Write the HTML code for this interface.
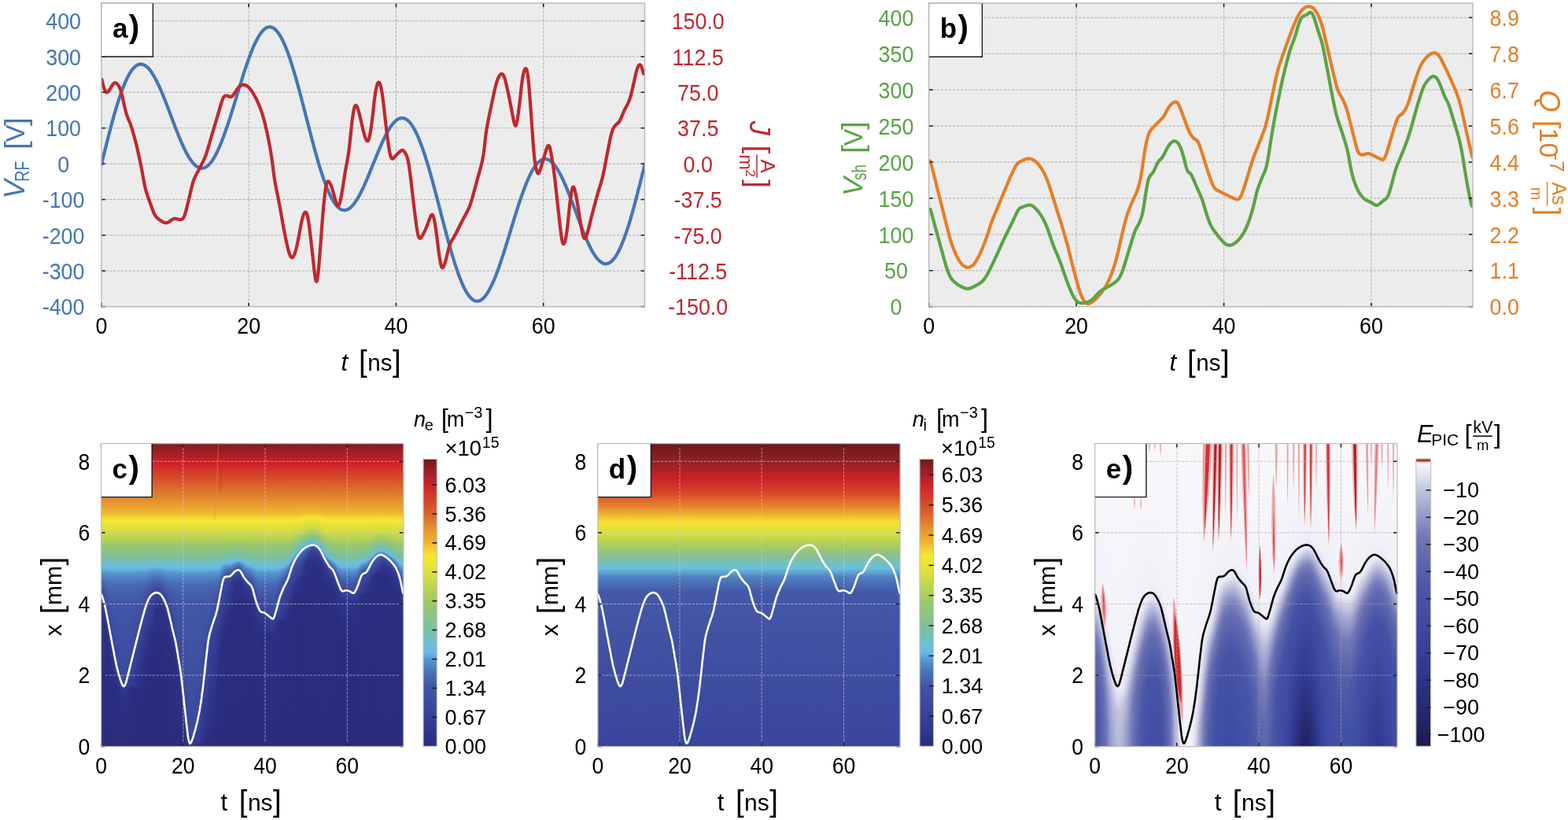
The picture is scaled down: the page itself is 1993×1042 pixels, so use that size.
<!DOCTYPE html>
<html><head><meta charset="utf-8"><title>figure</title>
<style>html,body{margin:0;padding:0;background:#fff;}#w{position:relative;width:1993px;height:1042px;overflow:hidden;background:#fff}
.h{position:absolute;overflow:hidden}.h i{position:absolute;top:0;bottom:0;width:3px}
svg{position:absolute;left:0;top:0;display:block}text{font-family:'Liberation Sans', 'DejaVu Sans', sans-serif;}</style>
</head><body><div id="w">
<div class="h" style="left:128.6px;top:563.6px;width:384.3px;height:385.1px"><i style="left:0px;background:linear-gradient(#7d1c21 0%,#d02228 6.6%,#e1842e 17.5%,#f0b830 23%,#f4e830 25.3%,#cdda47 29.7%,#9cc76f 33.4%,#78c0a0 37.8%,#6ebed5 39.6%,#68b8e7 40.9%,#5794ce 42.2%,#476ab4 45.1%,#3f4fa1 47.9%,#2d3286 55.2%,#2a2d7d 70%,#2a2d7d 100%)"></i><i style="left:2px;background:linear-gradient(#7d1c21 0%,#d02228 6.6%,#e1842e 17.5%,#f0b830 23%,#f5e830 25.3%,#cdda47 29.7%,#9cc76f 33.4%,#79c09f 37.8%,#6fbfd4 39.6%,#66b5e6 41.2%,#5693cd 42.5%,#4669b3 45.6%,#3f4fa1 48.7%,#2d3184 57.3%,#2a2d7d 77.3%,#2a2d7d 100%)"></i><i style="left:4px;background:linear-gradient(#7d1c21 0%,#d02228 6.6%,#e1842e 17.5%,#f0b830 23%,#f5e830 25.3%,#cdda47 29.7%,#9cc76f 33.4%,#79c09f 37.8%,#6fbfd3 39.6%,#68b8e8 41.2%,#5795ce 42.5%,#476bb4 45.8%,#4051a2 49.5%,#2c3083 60.1%,#2a2d7d 94.2%,#2a2d7d 100%)"></i><i style="left:6px;background:linear-gradient(#7d1c21 0%,#d02228 6.6%,#e1842e 17.5%,#f0b830 23%,#f5e830 25.3%,#cdda47 29.7%,#9cc76f 33.4%,#79c09f 37.8%,#6fbfd3 39.6%,#68b8e7 41.2%,#5693cd 42.7%,#4669b3 46.4%,#4151a3 50.8%,#2f368d 59.6%,#2b2e7f 67.4%,#2a2d7d 100%)"></i><i style="left:8px;background:linear-gradient(#7d1c21 0%,#d02228 6.6%,#e1842e 17.5%,#f0b830 23%,#f5e830 25.3%,#cdda47 29.7%,#9cc76e 33.4%,#79c09f 37.8%,#6fbfd2 39.6%,#68b8e7 41.2%,#5693cd 42.7%,#476bb4 46.4%,#4255a5 51%,#333c94 60.4%,#2b2e80 68.2%,#2a2d7d 100%)"></i><i style="left:10px;background:linear-gradient(#7d1c21 0%,#d02228 6.6%,#e1842e 17.5%,#f0b830 23%,#f5e830 25.3%,#cdda47 29.7%,#9cc76e 33.4%,#79c09f 37.8%,#6fbfd2 39.6%,#68b8e7 41.2%,#5694cd 42.7%,#476bb5 46.4%,#4359a8 50.5%,#364197 61.9%,#2b2f81 69.7%,#2a2d7d 100%)"></i><i style="left:12px;background:linear-gradient(#7d1c21 0%,#d02228 6.6%,#e1842e 17.5%,#f0b830 23%,#f5e830 25.3%,#cdda47 29.7%,#9cc76e 33.4%,#79c09f 37.8%,#6fbfd2 39.6%,#68b8e7 41.2%,#5590cb 43%,#476ab4 46.6%,#4359a8 50.8%,#384499 64%,#2c2f82 71.8%,#2a2d7d 100%)"></i><i style="left:14px;background:linear-gradient(#7d1c21 0%,#d02228 6.6%,#e1842e 17.5%,#f0b830 23%,#f5e830 25.3%,#cdda47 29.7%,#9cc76e 33.4%,#79c09f 37.8%,#6fbfd2 39.6%,#68b8e7 41.2%,#5590cb 43%,#476ab4 46.6%,#435aa8 50.8%,#39469b 66.1%,#2c2f82 74.4%,#2a2d7d 100%)"></i><i style="left:16px;background:linear-gradient(#7d1c21 0%,#d02228 6.6%,#e1842e 17.5%,#f0b830 23%,#f5e830 25.3%,#cdda47 29.7%,#9cc76e 33.4%,#79c09f 37.8%,#6fbfd2 39.6%,#68b8e7 41.2%,#5590cb 43%,#4668b3 46.9%,#4258a7 51.8%,#3a479c 68.4%,#2c3082 76.8%,#2a2d7d 100%)"></i><i style="left:18px;background:linear-gradient(#7d1c21 0%,#d02228 6.6%,#e1842e 17.5%,#f0b830 23%,#f5e830 25.3%,#cdda47 29.7%,#9cc76e 33.4%,#79c09f 37.8%,#6fbfd2 39.6%,#68b8e7 41.2%,#5590cb 43%,#4668b3 46.9%,#4258a7 51.6%,#3a479c 70.8%,#2c3082 79.1%,#2a2d7d 100%)"></i><i style="left:20px;background:linear-gradient(#7d1c21 0%,#d02228 6.6%,#e1842e 17.5%,#f0b830 23%,#f5e830 25.3%,#cdda47 29.7%,#9cc76e 33.4%,#79c09f 37.8%,#6fbfd2 39.6%,#68b8e7 41.2%,#5590cb 43%,#4668b3 46.9%,#4258a7 51.6%,#3b489d 72.9%,#2c3083 80.9%,#2a2d7d 100%)"></i><i style="left:22px;background:linear-gradient(#7d1c21 0%,#d02228 6.6%,#e1842e 17.5%,#f0b830 23%,#f5e830 25.3%,#cdda47 29.7%,#9cc76e 33.4%,#79c09f 37.8%,#6fbfd2 39.6%,#68b8e7 41.2%,#5590cb 43%,#4668b3 46.9%,#4258a7 51.6%,#3b489d 74.7%,#2c3083 82.5%,#2a2d7d 100%)"></i><i style="left:24px;background:linear-gradient(#7d1c21 0%,#d02228 6.6%,#e1842e 17.5%,#f0b830 23%,#f5e830 25.3%,#cdda47 29.7%,#9cc76e 33.4%,#79c09f 37.8%,#6fbfd2 39.6%,#68b8e7 41.2%,#5590cb 43%,#4668b3 46.9%,#4258a7 51.6%,#3b489d 76.2%,#2c3083 83.8%,#2a2d7d 100%)"></i><i style="left:26px;background:linear-gradient(#7d1c21 0%,#d02228 6.6%,#e1842e 17.5%,#f0b830 23%,#f5e830 25.3%,#cdda47 29.7%,#9cc76e 33.4%,#79c09f 37.8%,#6fbfd2 39.6%,#68b8e7 41.2%,#5590cb 43%,#4668b3 46.9%,#4258a7 51.6%,#3b499d 77.3%,#2c3184 84.5%,#2a2d7d 100%)"></i><i style="left:28px;background:linear-gradient(#7d1c21 0%,#d02228 6.6%,#e1842e 17.5%,#f0b830 23%,#f5e830 25.3%,#cdda47 29.7%,#9cc76e 33.4%,#79c09f 37.8%,#6fbfd2 39.6%,#68b8e7 41.2%,#5590cb 43%,#4668b3 46.9%,#4258a7 51.6%,#3b489d 77.8%,#2c3184 84.8%,#2a2d7d 100%)"></i><i style="left:30px;background:linear-gradient(#7d1c21 0%,#d02228 6.6%,#e1842e 17.5%,#f0b830 23%,#f5e830 25.3%,#cdda47 29.7%,#9cc76e 33.4%,#79c09f 37.8%,#6fbfd2 39.6%,#68b8e7 41.2%,#5590cb 43%,#4668b3 46.9%,#4258a7 51.6%,#3b489d 77%,#2c3184 84.3%,#2a2d7d 100%)"></i><i style="left:32px;background:linear-gradient(#7d1c21 0%,#d02228 6.6%,#e1842e 17.5%,#f0b830 23%,#f5e830 25.3%,#cdda47 29.7%,#9cc76e 33.4%,#79c09f 37.8%,#6fbfd2 39.6%,#68b8e7 41.2%,#5590cb 43%,#4668b3 46.9%,#4258a7 51.6%,#3b489d 75.5%,#333c93 79.9%,#2d3286 81.7%,#2a2d7d 95.2%,#2a2d7d 100%)"></i><i style="left:34px;background:linear-gradient(#7d1c21 0%,#d02228 6.6%,#e1842e 17.5%,#f0b830 23%,#f5e830 25.3%,#cdda47 29.7%,#9cc76e 33.4%,#79c09f 37.8%,#6fbfd2 39.6%,#68b8e7 41.2%,#5590cb 43%,#4668b3 46.9%,#4258a7 51.6%,#3b489d 73.4%,#323a92 79.9%,#2c3184 80.9%,#2a2d7d 100%)"></i><i style="left:36px;background:linear-gradient(#7d1c21 0%,#d02228 6.6%,#e1842e 17.5%,#f0b830 23%,#f5e830 25.3%,#cdda47 29.7%,#9cc76e 33.4%,#79c09f 37.8%,#6fbfd2 39.6%,#68b8e7 41.2%,#5590cb 43%,#4668b3 46.9%,#4258a7 51.6%,#3b489d 71.6%,#333c93 79.6%,#2c2f81 80.6%,#2a2d7d 100%)"></i><i style="left:38px;background:linear-gradient(#7d1c21 0%,#d02228 6.6%,#e1842e 17.5%,#f0b830 23%,#f5e830 25.3%,#cdda47 29.7%,#9cc76e 33.4%,#79c09f 37.8%,#6fbfd2 39.6%,#68b8e7 41.2%,#5590cb 43%,#4668b3 46.9%,#4258a7 51.6%,#3a479c 69.7%,#313a92 79.6%,#2b2e80 80.6%,#2a2d7d 100%)"></i><i style="left:40px;background:linear-gradient(#7d1c21 0%,#d02228 6.6%,#e1842e 17.5%,#f0b830 23%,#f5e830 25.3%,#cdda47 29.7%,#9cc76e 33.4%,#79c09f 37.8%,#6fbfd2 39.6%,#68b8e7 41.2%,#5590cb 43%,#476ab4 46.6%,#435aa8 50.8%,#39469b 68.4%,#30378e 79.6%,#2b2e7f 80.6%,#2a2d7d 100%)"></i><i style="left:42px;background:linear-gradient(#7d1c21 0%,#d02228 6.6%,#e1842e 17.5%,#f0b830 23%,#f5e830 25.3%,#cdda47 29.7%,#9cc76e 33.4%,#79c09f 37.8%,#6fbfd2 39.6%,#68b8e7 41.2%,#5590cb 43%,#476ab4 46.6%,#435aa8 50.8%,#38449a 66.9%,#2f358b 79.4%,#2b2d7e 80.9%,#2a2d7d 100%)"></i><i style="left:44px;background:linear-gradient(#7d1c21 0%,#d02228 6.6%,#e1842e 17.5%,#f0b830 23%,#f5e830 25.3%,#cdda47 29.7%,#9cc76e 33.4%,#79c09f 37.8%,#6fbfd2 39.6%,#68b8e7 41.2%,#5590cb 43%,#476ab4 46.6%,#4359a8 50.8%,#2e358b 77.8%,#2a2d7d 81.7%,#2a2d7d 100%)"></i><i style="left:46px;background:linear-gradient(#7d1c21 0%,#d02228 6.6%,#e1842e 17.5%,#f0b830 23%,#f5e830 25.3%,#cdda47 29.7%,#9cc76e 33.4%,#79c09f 37.8%,#6fbfd2 39.6%,#68b8e7 41.2%,#5694ce 42.7%,#476cb5 46.4%,#435aa9 50.3%,#353f96 69%,#2c3082 79.1%,#2a2d7d 86.9%,#2a2d7d 100%)"></i><i style="left:48px;background:linear-gradient(#7d1c21 0%,#d02228 6.6%,#e1842e 17.5%,#f0b830 23%,#f5e830 25.3%,#cdda47 29.7%,#9cc76e 33.4%,#79c09f 37.8%,#6fbfd2 39.6%,#68b8e7 41.2%,#5694cd 42.7%,#476bb5 46.4%,#4359a8 50.5%,#354096 66.1%,#2d3387 74.9%,#2a2d7d 84.3%,#2a2d7d 100%)"></i><i style="left:50px;background:linear-gradient(#7d1c21 0%,#d02228 6.6%,#e1842e 17.5%,#f0b830 23%,#f5e830 25.3%,#cdda47 29.7%,#9cc76e 33.4%,#79c09f 37.8%,#6fbfd2 39.6%,#68b8e7 41.2%,#5693cd 42.7%,#476bb4 46.4%,#4255a5 51%,#354096 64%,#2d3286 73.4%,#2a2d7d 86.4%,#2a2d7d 100%)"></i><i style="left:52px;background:linear-gradient(#7d1c21 0%,#d02228 6.6%,#e1842e 17.5%,#f0b830 23%,#f5e830 25.3%,#cdda47 29.7%,#9cc76e 33.4%,#79c09f 37.8%,#6fbfd3 39.6%,#68b8e7 41.2%,#5693cd 42.7%,#476ab4 46.4%,#4152a3 51%,#354096 62.2%,#2d3286 71.6%,#2a2d7d 85.8%,#2a2d7d 100%)"></i><i style="left:54px;background:linear-gradient(#7d1c21 0%,#d02228 6.6%,#e1842e 17.5%,#f0b830 23%,#f5e830 25.3%,#cdda47 29.7%,#9cc76f 33.4%,#79c09f 37.8%,#6fbfd3 39.6%,#68b8e8 41.2%,#5692cc 42.7%,#4668b3 46.4%,#4051a2 50.5%,#364097 59.6%,#2d3387 68.7%,#2a2d7d 80.6%,#2a2d7d 100%)"></i><i style="left:56px;background:linear-gradient(#7d1c21 0%,#d02228 6.6%,#e1842e 17.5%,#f0b830 23%,#f5e830 25.3%,#cdda47 29.7%,#9cc76f 33.4%,#79c09f 37.8%,#6fbfd3 39.6%,#68b8e8 41.2%,#5795ce 42.5%,#476ab4 45.8%,#4050a2 49.5%,#364197 57.3%,#2d3388 66.6%,#2a2d7d 78.3%,#2a2d7d 100%)"></i><i style="left:58px;background:linear-gradient(#7d1c21 0%,#d02228 6.6%,#e1842e 17.5%,#f0b830 23%,#f5e830 25.3%,#cdda47 29.7%,#9cc76f 33.4%,#79c09f 37.8%,#6fbfd4 39.6%,#67b5e6 41.2%,#5693cd 42.5%,#466ab3 45.6%,#4050a2 48.7%,#364197 55.5%,#2d3388 64.5%,#2a2d7d 76.2%,#2a2d7d 100%)"></i><i style="left:60px;background:linear-gradient(#7d1c21 0%,#d02228 6.6%,#e1842e 17.5%,#f0b830 23%,#f4e830 25.3%,#cdda47 29.7%,#9cc76f 33.4%,#78c0a0 37.8%,#6ebed5 39.6%,#69b9e6 40.9%,#5591cc 42.5%,#4669b3 45.3%,#3f4fa1 48.2%,#364097 54.2%,#2d3286 63%,#2a2d7d 75.7%,#2a2d7d 100%)"></i><i style="left:62px;background:linear-gradient(#7d1c21 0%,#d02228 6.6%,#e1842e 17.5%,#f0b830 23%,#f4e830 25.3%,#cdda47 29.7%,#9cc76f 33.4%,#78c0a0 37.8%,#70c0d1 39.4%,#68b8e7 40.9%,#5694cd 42.2%,#4669b3 45.1%,#3f4fa1 47.9%,#354096 53.4%,#2b2d7e 67.4%,#2a2d7d 100%)"></i><i style="left:64px;background:linear-gradient(#7d1c21 0%,#d02228 6.6%,#e1842e 17.5%,#f0b830 23%,#f4e830 25.3%,#cdda47 29.7%,#9cc76f 33.4%,#78c0a0 37.8%,#6fbfd2 39.4%,#68b8e8 40.9%,#5692cc 42.2%,#4669b3 44.8%,#3f4fa1 47.4%,#343e95 53.1%,#2b2d7e 65.1%,#2a2d7d 100%)"></i><i style="left:66px;background:linear-gradient(#7d1c21 0%,#d02228 6.6%,#e1842e 17.5%,#f0b830 23%,#f4e830 25.3%,#cdda47 29.7%,#9cc76f 33.4%,#78c0a1 37.8%,#6fbfd2 39.4%,#67b6e7 40.9%,#5591cc 42.2%,#4668b2 44.8%,#4050a2 47.1%,#2f378e 54.7%,#2b2d7e 63.2%,#2a2d7d 100%)"></i><i style="left:68px;background:linear-gradient(#7d1c21 0%,#d02228 6.6%,#e1842e 17.5%,#f0b830 23%,#f4e830 25.3%,#cdda47 29.7%,#9cc76f 33.4%,#78c0a1 37.8%,#6fbfd2 39.4%,#67b5e6 40.9%,#5795ce 41.9%,#4667b2 44.8%,#3f4fa1 47.1%,#2d3285 55.7%,#2a2d7d 70%,#2a2d7d 100%)"></i><i style="left:70px;background:linear-gradient(#7d1c21 0%,#d02228 6.6%,#e1842e 17.5%,#f0b830 23%,#f4e830 25.3%,#cdda47 29.7%,#9cc76f 33.4%,#78c0a1 37.8%,#6fbfd2 39.4%,#67b5e6 40.9%,#5795ce 41.9%,#4667b2 44.8%,#3f4fa1 47.1%,#2d3185 54.4%,#2a2d7d 70.3%,#2a2d7d 100%)"></i><i style="left:72px;background:linear-gradient(#7d1c21 0%,#d02228 6.6%,#e1842e 17.5%,#f0b830 23%,#f4e830 25.3%,#cdda47 29.7%,#9cc76f 33.4%,#78c0a1 37.8%,#6fbfd2 39.4%,#67b6e6 40.9%,#5795ce 41.9%,#4668b2 44.8%,#3f4fa1 47.1%,#2d3286 53.6%,#2a2d7d 66.9%,#2a2d7d 100%)"></i><i style="left:74px;background:linear-gradient(#7d1c21 0%,#d02228 6.6%,#e1842e 17.5%,#f0b830 23%,#f4e830 25.3%,#cdda47 29.7%,#9cc76f 33.4%,#78c0a0 37.8%,#6fbfd2 39.4%,#68b7e8 40.9%,#5692cc 42.2%,#4669b3 44.8%,#3f4fa1 47.4%,#2d3286 53.9%,#2a2d7d 67.1%,#2a2d7d 100%)"></i><i style="left:76px;background:linear-gradient(#7d1c21 0%,#d02228 6.6%,#e1842e 17.5%,#f0b830 23%,#f4e830 25.3%,#cdda47 29.7%,#9cc76f 33.4%,#78c0a0 37.8%,#70c0d1 39.4%,#68b8e7 40.9%,#5694cd 42.2%,#4669b3 45.1%,#3f4fa1 47.9%,#2d3286 54.7%,#2a2d7d 69%,#2a2d7d 100%)"></i><i style="left:78px;background:linear-gradient(#7d1c21 0%,#d02228 6.6%,#e1842e 17.5%,#f0b830 23%,#f4e830 25.3%,#cdda47 29.7%,#9cc76f 33.4%,#78c0a0 37.8%,#6fbfd4 39.6%,#69b9e6 40.9%,#5591cc 42.5%,#4669b3 45.3%,#3f50a1 48.2%,#2d3286 55.7%,#2a2d7d 71%,#2a2d7d 100%)"></i><i style="left:80px;background:linear-gradient(#7d1c21 0%,#d02228 6.6%,#e1842e 17.5%,#f0b830 23%,#f5e830 25.3%,#cdda47 29.7%,#9cc76f 33.4%,#79c09f 37.8%,#6fbfd4 39.6%,#67b6e6 41.2%,#5693cd 42.5%,#476ab4 45.6%,#4050a2 48.7%,#2d3184 57.3%,#2a2d7d 77.5%,#2a2d7d 100%)"></i><i style="left:82px;background:linear-gradient(#7d1c21 0%,#d02228 6.6%,#e1842e 17.5%,#f0b830 23%,#f5e830 25.3%,#cdda47 29.7%,#9cc76f 33.4%,#79c09f 37.8%,#6fbfd3 39.6%,#68b8e8 41.2%,#5795ce 42.5%,#476ab4 45.8%,#4051a2 49.5%,#2c3184 59.1%,#2a2d7d 86.1%,#2a2d7d 100%)"></i><i style="left:84px;background:linear-gradient(#7d1c21 0%,#d02228 6.6%,#e1842e 17.5%,#f0b830 23%,#f5e830 25.3%,#cdda47 29.7%,#9cc76f 33.4%,#79c09f 37.8%,#6fbfd3 39.6%,#68b8e8 41.2%,#5692cc 42.7%,#4668b3 46.4%,#4051a2 50.5%,#2e348a 58.8%,#2b2d7e 68.2%,#2a2d7d 100%)"></i><i style="left:86px;background:linear-gradient(#7d1c21 0%,#d02228 6.6%,#e1842e 17.5%,#f0b830 23%,#f5e830 25.3%,#cdda47 29.7%,#9cc76e 33.4%,#79c09f 37.8%,#6fbfd3 39.6%,#68b8e7 41.2%,#5693cd 42.7%,#476ab4 46.4%,#4151a3 51.3%,#313a91 59.1%,#2b2e80 66.1%,#2a2d7d 100%)"></i><i style="left:88px;background:linear-gradient(#7d1c21 0%,#d02228 6.6%,#e1842e 17.5%,#f0b830 23%,#f5e830 25.3%,#cdda47 29.7%,#9cc76e 33.4%,#79c09f 37.8%,#6fbfd2 39.6%,#68b8e7 41.2%,#5694cd 42.7%,#476bb4 46.4%,#4256a6 50.8%,#343f95 60.1%,#2b2f80 67.7%,#2a2d7d 100%)"></i><i style="left:90px;background:linear-gradient(#7d1c21 0%,#d02228 6.6%,#e1842e 17.5%,#f0b830 23%,#f5e830 25.3%,#cdda47 29.7%,#9cc76e 33.4%,#79c09f 37.8%,#6fbfd2 39.6%,#68b8e7 41.2%,#5694cd 42.7%,#476bb5 46.4%,#4359a8 50.5%,#364197 61.7%,#2c2f81 68.7%,#2a2d7d 100%)"></i><i style="left:92px;background:linear-gradient(#7d1c21 0%,#d02228 6.6%,#e1842e 17.5%,#f0b830 23%,#f5e830 25.3%,#cdda47 29.7%,#9cc76e 33.4%,#79c09f 37.8%,#6fbfd2 39.6%,#68b8e7 41.2%,#5590cb 43%,#476ab4 46.6%,#4359a8 50.8%,#384499 63.2%,#2c3082 70.5%,#2a2d7d 100%)"></i><i style="left:94px;background:linear-gradient(#7d1c21 0%,#d02228 6.6%,#e1842e 17.5%,#f0b830 23%,#f5e830 25.3%,#cdda47 29.7%,#9cc76e 33.4%,#79c09f 37.8%,#6fbfd2 39.6%,#68b8e7 41.2%,#5590cb 43%,#476ab4 46.6%,#435aa8 50.8%,#39469b 65.1%,#2c2f82 73.4%,#2a2d7d 100%)"></i><i style="left:96px;background:linear-gradient(#7d1c21 0%,#d02228 6.6%,#e1842e 17.5%,#f0b830 23%,#f5e830 25.3%,#cdda47 29.7%,#9cc76e 33.4%,#79c09f 37.8%,#6fbfd2 39.6%,#68b8e7 41.2%,#5590cb 43%,#476ab4 46.6%,#435aa8 50.8%,#39469b 67.7%,#2c2f82 76.5%,#2a2d7d 100%)"></i><i style="left:98px;background:linear-gradient(#7d1c21 0%,#d02228 6.6%,#e1842e 17.5%,#f0b830 23%,#f5e830 25.3%,#cdda47 29.7%,#9cc76e 33.4%,#79c09f 37.8%,#6fbfd2 39.6%,#68b8e7 41.2%,#5590cb 43%,#4668b3 46.9%,#4258a7 51.6%,#3a479c 70.3%,#2c3082 79.6%,#2a2d7d 100%)"></i><i style="left:100px;background:linear-gradient(#7d1c21 0%,#d02228 6.6%,#e1842e 17.5%,#f0b830 23%,#f5e830 25.3%,#cdda47 29.7%,#9cc76e 33.4%,#79c09f 37.8%,#6fbfd2 39.6%,#68b8e7 41.2%,#5590cb 43%,#4668b3 46.9%,#4258a7 51.6%,#3b489d 73.1%,#2c2f82 83.8%,#2a2d7d 100%)"></i><i style="left:102px;background:linear-gradient(#7d1c21 0%,#d02228 6.6%,#e1842e 17.5%,#f0b830 23%,#f5e830 25.3%,#cdda47 29.7%,#9cc76e 33.4%,#79c09f 37.8%,#6fbfd2 39.6%,#68b8e7 41.2%,#5590cb 43%,#4668b3 46.9%,#4258a7 51.6%,#3b489c 77%,#2b2f81 89%,#2a2d7d 100%)"></i><i style="left:104px;background:linear-gradient(#7d1c21 0%,#d02228 6.6%,#e1842e 17.5%,#f0b830 23%,#f5e830 25.3%,#cdda47 29.7%,#9cc76e 33.4%,#79c09f 37.8%,#6fbfd2 39.6%,#68b8e7 41.2%,#5590cb 43%,#4668b3 46.9%,#4258a7 51.6%,#3b489c 81.4%,#2b2f81 93.9%,#2b2d7e 100%)"></i><i style="left:106px;background:linear-gradient(#7d1c21 0%,#d02228 6.6%,#e1842e 17.5%,#f0b830 23%,#f5e830 25.3%,#cdda47 29.7%,#9cc76e 33.4%,#79c09f 37.8%,#6fbfd2 39.6%,#68b8e7 41.2%,#5590cb 43%,#4668b3 46.9%,#4258a7 51.6%,#3b489d 85.8%,#2b2f81 98.6%,#2b2e80 100%)"></i><i style="left:108px;background:linear-gradient(#7d1c21 0%,#d02228 6.6%,#e1842e 17.5%,#f0b830 23%,#f5e830 25.3%,#cdda47 29.7%,#9cc76e 33.4%,#79c09f 37.8%,#6fbfd2 39.6%,#68b8e7 41.2%,#5590cb 43%,#4668b3 46.9%,#4258a7 51.6%,#3b499d 90.3%,#2d3185 100%)"></i><i style="left:110px;background:linear-gradient(#7d1c21 0%,#d02228 6.6%,#e1842e 17.5%,#f0b830 23%,#f5e830 25.3%,#cdda47 29.7%,#9cc76e 33.4%,#79c09f 37.8%,#6fbfd2 39.6%,#68b8e7 41.2%,#5590cb 43%,#4668b3 46.9%,#4258a7 51.6%,#3b489d 94.2%,#2f368d 100%)"></i><i style="left:112px;background:linear-gradient(#7d1c21 0%,#d02228 6.6%,#e1842e 17.5%,#f0b830 23%,#f5e830 25.3%,#cdda47 29.7%,#9cc76e 33.4%,#79c09f 37.8%,#6fbfd2 39.6%,#68b8e7 41.2%,#5590cb 43%,#4668b3 46.9%,#4258a7 51.6%,#3b499d 95.7%,#313991 100%)"></i><i style="left:114px;background:linear-gradient(#7d1c21 0%,#d02228 6.6%,#e1842e 17.5%,#f0b830 23%,#f5e830 25.3%,#cdda47 29.7%,#9cc76e 33.4%,#79c09f 37.8%,#6fbfd2 39.6%,#68b8e7 41.2%,#5590cb 43%,#4668b3 46.9%,#4258a7 51.6%,#3b489d 95.5%,#30388f 100%)"></i><i style="left:116px;background:linear-gradient(#7d1c21 0%,#d02228 6.6%,#e1842e 17.5%,#f0b830 23%,#f5e830 25.3%,#cdda47 29.7%,#9cc76e 33.4%,#79c09f 37.8%,#6fbfd2 39.6%,#68b8e7 41.2%,#5590cb 43%,#4668b3 46.9%,#4258a7 51.6%,#3b499d 93.9%,#303890 99.1%,#2e348a 100%)"></i><i style="left:118px;background:linear-gradient(#7d1c21 0%,#d02228 6.6%,#e1842e 17.5%,#f0b830 23%,#f5e830 25.3%,#cdda47 29.7%,#9cc76e 33.4%,#79c09f 37.8%,#6fbfd2 39.6%,#68b8e7 41.2%,#5590cb 43%,#4668b3 46.9%,#4258a7 51.6%,#3b499d 92.1%,#313a92 98.8%,#2d3185 100%)"></i><i style="left:120px;background:linear-gradient(#7d1c21 0%,#d02228 6.6%,#e1842e 17.5%,#f0b830 23%,#f5e830 25.3%,#cdda47 29.7%,#9cc76e 33.4%,#79c09f 37.8%,#6fbfd2 39.6%,#68b8e7 41.2%,#5590cb 43%,#4668b3 46.9%,#4258a7 51.6%,#3b499d 90.3%,#303890 98.8%,#2c3082 99.6%,#2c2f81 100%)"></i><i style="left:122px;background:linear-gradient(#7d1c21 0%,#d02228 6.6%,#e1842e 17.5%,#f0b830 23%,#f5e830 25.3%,#cdda47 29.7%,#9cc76e 33.4%,#79c09f 37.8%,#6fbfd2 39.6%,#68b8e7 41.2%,#5590cb 43%,#4668b3 46.9%,#4258a7 51.6%,#3b499d 87.9%,#313991 98.6%,#2b2e80 99.6%,#2b2e7f 100%)"></i><i style="left:124px;background:linear-gradient(#7d1c21 0%,#d02228 6.6%,#e1842e 17.5%,#f0b830 23%,#f5e830 25.3%,#cdda47 29.7%,#9cc76e 33.4%,#79c09f 37.8%,#6fbfd2 39.6%,#68b8e7 41.2%,#5590cb 43%,#4668b3 46.9%,#4258a7 51.6%,#3b499d 85.3%,#2f378e 98.6%,#2b2e7f 99.6%,#2b2d7e 100%)"></i><i style="left:126px;background:linear-gradient(#7d1c21 0%,#d02228 6.6%,#e1842e 17.5%,#f0b830 23%,#f5e830 25.3%,#cdda47 29.7%,#9cc76e 33.4%,#79c09f 37.8%,#6fbfd2 39.6%,#68b8e7 41.2%,#5590cb 43%,#4668b3 46.9%,#4258a7 51.6%,#3b489d 82.5%,#2f358c 98.1%,#2a2d7e 100%)"></i><i style="left:128px;background:linear-gradient(#7d1c21 0%,#d02228 6.6%,#e1842e 17.5%,#f0b830 23%,#f5e830 25.3%,#cdda47 29.7%,#9cc76e 33.4%,#79c09f 37.8%,#6fbfd2 39.6%,#68b8e7 41.2%,#5590cb 43%,#4668b3 46.9%,#4258a7 51.6%,#3a479c 79.4%,#2f368c 96.2%,#2a2d7d 100%)"></i><i style="left:130px;background:linear-gradient(#7d1c21 0%,#d02228 6.6%,#e1842e 17.5%,#f0b830 23%,#f5e830 25.3%,#cdda47 29.7%,#9cc76e 33.4%,#79c09f 37.8%,#6fbfd2 39.6%,#68b8e7 41.2%,#5590cb 43%,#4668b3 46.9%,#4258a7 51.6%,#39459a 76.5%,#2f368c 94.4%,#2a2d7d 100%)"></i><i style="left:132px;background:linear-gradient(#7d1c21 0%,#d02228 6.6%,#e1842e 17.5%,#f0b830 23%,#f5e830 25.3%,#cdda47 29.7%,#9cc76e 33.4%,#79c09f 37.8%,#6fbfd2 39.6%,#68b8e7 41.2%,#5590cb 43%,#4668b3 46.9%,#4258a7 51.8%,#343e95 84.5%,#2e3388 93.9%,#2a2d7d 100%)"></i><i style="left:134px;background:linear-gradient(#7d1c21 0%,#d02228 6.6%,#e1842e 17.5%,#f0b830 23%,#f5e830 25.3%,#cdda47 29.7%,#9cc76e 33.4%,#79c09f 37.8%,#6fbfd2 39.6%,#68b8e7 41.2%,#5590cb 43%,#476ab4 46.6%,#435aa8 50.8%,#354096 76.5%,#2f358b 90.8%,#2a2d7d 100%)"></i><i style="left:136px;background:linear-gradient(#7d1c21 0%,#d02228 6.6%,#e1842e 17.5%,#f0b830 23%,#f5e830 25.3%,#cdda47 29.7%,#9cc76e 33.4%,#79c09f 37.8%,#6fbfd2 39.6%,#68b8e7 41.2%,#5590cb 43%,#476ab4 46.6%,#4359a8 50.8%,#354096 70.5%,#2f358b 88.4%,#2a2d7d 99.4%,#2a2d7d 100%)"></i><i style="left:138px;background:linear-gradient(#7d1c21 0%,#d02228 6.6%,#e1842e 17.5%,#f0b830 23%,#f5e830 25.3%,#cdda47 29.7%,#9cc76e 33.4%,#79c09f 37.8%,#6fbfd2 39.6%,#68b8e7 41.2%,#5694cd 42.7%,#476bb5 46.4%,#4359a8 50.5%,#354097 66.6%,#2e358b 85.6%,#2a2d7d 98.6%,#2a2d7d 100%)"></i><i style="left:140px;background:linear-gradient(#7d1c21 0%,#d02228 6.6%,#e1842e 17.5%,#f0b830 23%,#f5e830 25.3%,#cdda47 29.7%,#9cc76e 33.4%,#79c09f 37.8%,#6fbfd2 39.6%,#68b8e7 41.2%,#5694cd 42.7%,#476bb5 46.4%,#4257a7 50.8%,#354096 64.5%,#2e348a 81.9%,#2a2d7d 99.1%,#2a2d7d 100%)"></i><i style="left:142px;background:linear-gradient(#7d1c21 0%,#d02228 6.6%,#e1842e 17.5%,#f0b830 23%,#f5e830 25.3%,#cdda47 29.7%,#9cc76e 33.4%,#79c09f 37.8%,#6fbfd3 39.6%,#68b8e7 41.2%,#5693cd 42.7%,#476bb4 46.4%,#4153a4 51.3%,#353f96 63.5%,#2a2d7d 95.5%,#2a2d7d 100%)"></i><i style="left:144px;background:linear-gradient(#7d1c21 0%,#d02228 6.6%,#e1842e 17.5%,#f0b830 23%,#f5e830 25.3%,#cdda47 29.7%,#9cc76e 33.4%,#79c09f 37.8%,#6fbfd3 39.6%,#68b8e7 41.2%,#5693cd 42.7%,#476ab4 46.4%,#4152a3 51%,#343e95 62.5%,#2b2d7e 89.7%,#2a2d7d 100%)"></i><i style="left:146px;background:linear-gradient(#7d1c21 0%,#d02228 6.6%,#e1842e 17.5%,#f0b830 23%,#f5e830 25.3%,#cdda47 29.7%,#9cc76f 33.4%,#79c09f 37.8%,#6fbfd3 39.6%,#68b8e8 41.2%,#5592cc 42.7%,#476ab4 46.1%,#4051a2 50%,#333c93 62.5%,#2b2e7f 82.2%,#2a2d7d 100%)"></i><i style="left:148px;background:linear-gradient(#7d1c21 0%,#d02228 6.6%,#e1842e 17.5%,#f0b830 23%,#f5e830 25.3%,#cdda47 29.7%,#9cc76f 33.4%,#79c09f 37.8%,#6fbfd4 39.6%,#66b5e6 41.2%,#5693cd 42.5%,#4669b3 45.6%,#4050a2 48.7%,#354096 58.3%,#2b2f81 73.1%,#2a2d7d 100%)"></i><i style="left:150px;background:linear-gradient(#7d1c21 0%,#d02228 6.6%,#e1842e 17.5%,#f0b830 23%,#f4e830 25.3%,#cdda47 29.7%,#9cc76f 33.4%,#78c0a1 37.8%,#6fbfd2 39.4%,#66b5e6 40.9%,#5795ce 41.9%,#4667b1 44.8%,#3f4fa1 47.4%,#364197 55.7%,#2b2f81 69.5%,#2a2d7d 100%)"></i><i style="left:152px;background:linear-gradient(#7d1c21 0%,#d02228 6.6%,#e1842e 17.5%,#f0b830 23%,#f4e830 25.3%,#ccda47 29.7%,#9bc770 33.4%,#79c09f 37.5%,#6ebed7 39.4%,#67b6e5 40.4%,#548dc9 41.7%,#435caa 44.3%,#3d4b9f 46.6%,#2f358c 60.4%,#2b2e80 67.4%,#2a2d7d 100%)"></i><i style="left:154px;background:linear-gradient(#7d1c21 0%,#d02228 6.6%,#e1842e 17.5%,#f0b830 23%,#f4e830 25.3%,#ccda47 29.7%,#9ac771 33.4%,#79c09e 37.3%,#6dbdd9 39.1%,#67b6e5 39.9%,#5289c7 41.2%,#4256a5 43.5%,#39469b 47.1%,#2f368d 58.3%,#2b2e7f 65.3%,#2a2d7d 100%)"></i><i style="left:156px;background:linear-gradient(#7d1c21 0%,#d02228 6.6%,#e1842e 17.5%,#f0b830 23%,#f4e830 25.3%,#ccda48 29.7%,#9ac772 33.4%,#78c0a1 37.3%,#6dbdd8 38.8%,#67b6e6 39.6%,#548dc9 40.6%,#445fac 42.5%,#3f4ea1 43.5%,#333c93 53.9%,#2b2d7e 63.5%,#2a2d7d 100%)"></i><i style="left:158px;background:linear-gradient(#7d1c21 0%,#d02228 6.6%,#e1842e 17.5%,#f0b830 23%,#f4e830 25.3%,#cfdc45 29.5%,#9ac772 33.4%,#77c0a3 37.3%,#6fbfd3 38.6%,#69b9e5 39.4%,#5ea5da 39.9%,#4c79be 41.2%,#4051a2 43%,#374399 46.9%,#2d3387 57%,#2a2d7e 65.6%,#2a2d7d 100%)"></i><i style="left:160px;background:linear-gradient(#7d1c21 0%,#d02228 6.6%,#e1842e 17.5%,#f0b830 23%,#f4e830 25.3%,#cfdc45 29.5%,#99c772 33.4%,#77c0a4 37.3%,#6fbfd4 38.6%,#69b9e6 39.4%,#558fcb 40.4%,#4565b0 41.9%,#4050a2 43%,#364097 47.1%,#2b2d7e 61.7%,#2a2d7d 100%)"></i><i style="left:162px;background:linear-gradient(#7d1c21 0%,#d02228 6.6%,#e1842e 17.5%,#f0b930 23%,#f4e830 25.3%,#cfdb45 29.5%,#99c773 33.4%,#7ac09e 37%,#6ebed5 38.6%,#68b8e7 39.4%,#548dc9 40.4%,#435daa 42.2%,#3e4da0 43.2%,#313a91 48.2%,#2b2d7e 60.4%,#2a2d7d 100%)"></i><i style="left:164px;background:linear-gradient(#7d1c21 0%,#d02228 6.6%,#e1842e 17.5%,#f0b930 23%,#f4e830 25.3%,#cfdb45 29.5%,#99c773 33.4%,#79c09f 37%,#6ebed7 38.6%,#66b3e4 39.4%,#5590cb 40.1%,#445dab 41.9%,#3e4ea0 43%,#313a92 46.4%,#2b2e7f 56.5%,#2a2d7d 100%)"></i><i style="left:166px;background:linear-gradient(#7d1c21 0%,#d02228 6.6%,#e1842e 17.5%,#f0b930 23%,#f4e830 25.3%,#cfdb46 29.5%,#99c774 33.4%,#77c0a3 37%,#6ebed5 38.3%,#67b6e6 39.1%,#5590cb 39.9%,#435ba9 41.7%,#3e4da0 42.7%,#30378e 45.8%,#2b2e80 53.1%,#2a2d7d 100%)"></i><i style="left:168px;background:linear-gradient(#7d1c21 0%,#d02228 6.6%,#e1842e 17.5%,#f0b930 23%,#f4e830 25.3%,#cedb46 29.5%,#98c675 33.4%,#78c0a0 36.8%,#6dbdda 38.3%,#68b8e6 38.8%,#5590cb 39.6%,#4258a7 41.4%,#3c4a9e 43%,#2f358b 45.6%,#2b2e7f 52.3%,#2a2d7d 100%)"></i><i style="left:170px;background:linear-gradient(#7d1c21 0%,#d02228 6.6%,#e1842e 17.5%,#f0b930 23%,#f4e830 25.3%,#cedb46 29.5%,#97c676 33.4%,#77c0a4 36.8%,#6ebed7 38.1%,#69b9e5 38.6%,#63afe1 38.8%,#5591cc 39.4%,#445fac 40.9%,#3f4fa1 41.7%,#364298 43.8%,#2e348a 45.3%,#2b2d7e 52.1%,#2a2d7d 100%)"></i><i style="left:172px;background:linear-gradient(#7d1c21 0%,#d02228 6.6%,#e1842e 17.5%,#f0b930 23%,#f4e830 25.3%,#cedb46 29.5%,#97c676 33.4%,#79c09f 36.5%,#6dbdd9 38.1%,#68b8e7 38.6%,#5897cf 39.1%,#4561ae 40.6%,#4050a2 41.4%,#353f96 43.8%,#2d3286 45.8%,#2a2d7e 55.7%,#2a2d7d 100%)"></i><i style="left:174px;background:linear-gradient(#7d1c21 0%,#d02228 6.6%,#e1842e 17.5%,#f0b930 23%,#f4e830 25.3%,#cedb46 29.5%,#97c676 33.4%,#77c0a6 36.8%,#6dbdd9 38.1%,#68b8e7 38.6%,#548eca 39.4%,#4562af 40.6%,#4050a2 41.4%,#2e3489 45.3%,#2b2d7e 52.3%,#2a2d7d 100%)"></i><i style="left:176px;background:linear-gradient(#7d1c21 0%,#d02228 6.6%,#e1842e 17.5%,#f0b930 23%,#f4e830 25.3%,#cedb46 29.5%,#98c675 33.4%,#78c0a1 36.8%,#6ebed5 38.1%,#66b5e5 38.8%,#538dc9 39.6%,#4255a5 41.4%,#2f358c 45.3%,#2b2e7f 51%,#2a2d7d 100%)"></i><i style="left:178px;background:linear-gradient(#7d1c21 0%,#d02228 6.6%,#e1842e 17.5%,#f0b930 23%,#f4e830 25.3%,#cfdb46 29.5%,#99c774 33.4%,#78c0a2 37%,#6ebed5 38.3%,#67b6e5 39.1%,#5591cc 39.9%,#4256a6 41.9%,#2f368d 45.8%,#2b2e7f 51.3%,#2a2d7d 100%)"></i><i style="left:180px;background:linear-gradient(#7d1c21 0%,#d02228 6.6%,#e1842e 17.5%,#f0b830 23%,#f4e830 25.3%,#cfdb45 29.5%,#99c772 33.4%,#77c0a4 37.3%,#6fbfd4 38.6%,#69b9e6 39.4%,#548fcb 40.4%,#4359a8 42.5%,#30388f 46.4%,#2b2e80 51.3%,#2a2d7d 100%)"></i><i style="left:182px;background:linear-gradient(#7d1c21 0%,#d02228 6.6%,#e1842e 17.5%,#f0b830 23%,#f4e830 25.3%,#ccda48 29.7%,#9ac772 33.4%,#78c09f 37.3%,#6ebed5 38.8%,#69b9e6 39.6%,#5fa6da 40.1%,#486eb7 41.9%,#3f4fa1 43.8%,#2e3388 48.2%,#2b2d7e 57%,#2a2d7d 100%)"></i><i style="left:184px;background:linear-gradient(#7d1c21 0%,#d02228 6.6%,#e1842e 17.5%,#f0b830 23%,#f4e830 25.3%,#ccda47 29.7%,#9ac771 33.4%,#7ac09e 37.3%,#6dbdd8 39.1%,#68b8e7 39.9%,#538cc9 41.2%,#4258a7 43.5%,#2f358c 48.2%,#2b2d7e 54.9%,#2a2d7d 100%)"></i><i style="left:186px;background:linear-gradient(#7d1c21 0%,#d02228 6.6%,#e1842e 17.5%,#f0b830 23%,#f4e830 25.3%,#ccda47 29.7%,#9bc770 33.4%,#78c0a1 37.5%,#6ebed5 39.1%,#68b7e7 40.1%,#5592cc 41.2%,#445fac 43.5%,#3f4ea1 44.8%,#2e3388 49.5%,#2b2d7e 58.8%,#2a2d7d 100%)"></i><i style="left:188px;background:linear-gradient(#7d1c21 0%,#d02228 6.6%,#e1842e 17.5%,#f0b830 23%,#f4e830 25.3%,#ccda47 29.7%,#9bc770 33.4%,#78c0a0 37.5%,#6fbfd3 39.1%,#66b4e5 40.4%,#5590cb 41.4%,#435caa 44%,#3b499d 46.1%,#2d3388 50.3%,#2a2d7e 60.4%,#2a2d7d 100%)"></i><i style="left:190px;background:linear-gradient(#7d1c21 0%,#d02228 6.6%,#e1842e 17.5%,#f0b830 23%,#f4e830 25.3%,#ccda47 29.7%,#9bc770 33.4%,#79c09f 37.5%,#6ebed6 39.4%,#68b8e7 40.4%,#5590cb 41.7%,#445fac 44.3%,#3e4da0 46.1%,#2e3388 51%,#2b2d7e 60.9%,#2a2d7d 100%)"></i><i style="left:192px;background:linear-gradient(#7d1c21 0%,#d02228 6.6%,#e1842e 17.5%,#f0b830 23%,#f4e830 25.3%,#cdda47 29.7%,#9bc76f 33.4%,#78c0a3 37.8%,#6fbfd3 39.4%,#68b8e7 40.6%,#5591cc 41.9%,#4565b0 44.5%,#3e4da0 46.9%,#2d3286 53.1%,#2a2d7d 66.6%,#2a2d7d 100%)"></i><i style="left:194px;background:linear-gradient(#7d1c21 0%,#d02228 6.6%,#e1842e 17.5%,#f0b830 23%,#f4e830 25.3%,#cdda47 29.7%,#9cc76f 33.4%,#78c0a0 37.8%,#70c0d1 39.4%,#68b8e7 40.9%,#5693cd 42.2%,#4668b2 45.1%,#3f4ea1 47.9%,#2d3185 55.5%,#2a2d7d 73.4%,#2a2d7d 100%)"></i><i style="left:196px;background:linear-gradient(#7d1c21 0%,#d02228 6.6%,#e1842e 17.5%,#f0b830 23%,#f5e830 25.3%,#cdda47 29.7%,#9cc76f 33.4%,#79c09f 37.8%,#6fbfd4 39.6%,#67b5e6 41.2%,#5693cd 42.5%,#4669b3 45.6%,#4050a2 48.7%,#2c3184 57.5%,#2a2d7d 81.4%,#2a2d7d 100%)"></i><i style="left:198px;background:linear-gradient(#7d1c21 0%,#d02228 6.6%,#e1842e 17.5%,#f0b830 23%,#f5e830 25.3%,#cdda47 29.7%,#9cc76f 33.4%,#79c09f 37.8%,#6fbfd3 39.6%,#68b8e8 41.2%,#5795ce 42.5%,#476ab4 45.8%,#4051a2 49.5%,#2c3184 59.1%,#2a2d7d 86.4%,#2a2d7d 100%)"></i><i style="left:200px;background:linear-gradient(#7d1c21 0%,#d02228 6.6%,#e1842e 17.5%,#f0b830 23%,#f5e830 25.3%,#cdda47 29.7%,#9cc76f 33.4%,#79c09f 37.8%,#6fbfd3 39.6%,#68b8e8 41.2%,#5692cc 42.7%,#476ab4 46.1%,#4051a2 50.3%,#30378e 57%,#2b2e7f 63.8%,#2a2d7d 100%)"></i><i style="left:202px;background:linear-gradient(#7d1c21 0%,#d02228 6.6%,#e1842e 17.5%,#f0b830 23%,#f5e830 25.3%,#cdda47 29.7%,#9cc76f 33.4%,#79c09f 37.8%,#6fbfd3 39.6%,#68b8e7 41.2%,#5692cd 42.7%,#4669b3 46.4%,#4151a3 50.5%,#333d94 56.2%,#2b2f80 63%,#2a2d7d 100%)"></i><i style="left:204px;background:linear-gradient(#7d1c21 0%,#d02228 6.6%,#e1842e 17.5%,#f0b830 23%,#f5e830 25.3%,#cdda47 29.7%,#9cc76f 33.4%,#79c09f 37.8%,#6fbfd3 39.6%,#68b8e7 41.2%,#5693cd 42.7%,#4669b3 46.4%,#4051a2 50.8%,#333d94 56.5%,#2b2f80 63.2%,#2a2d7d 100%)"></i><i style="left:206px;background:linear-gradient(#7d1c21 0%,#d02228 6.6%,#e1842e 17.5%,#f0b830 23%,#f5e830 25.3%,#cdda47 29.7%,#9cc76f 33.4%,#79c09f 37.8%,#6fbfd3 39.6%,#68b8e7 41.2%,#5693cd 42.7%,#4669b3 46.4%,#4151a3 50.8%,#343e95 56.5%,#2b2f80 63.2%,#2a2d7d 100%)"></i><i style="left:208px;background:linear-gradient(#7d1c21 0%,#d02228 6.6%,#e1842e 17.5%,#f0b830 23%,#f5e830 25.3%,#cdda47 29.7%,#9cc76e 33.4%,#79c09f 37.8%,#6fbfd3 39.6%,#68b8e7 41.2%,#5693cd 42.7%,#466ab3 46.4%,#4151a3 51%,#343e95 56.8%,#2b2f81 63.5%,#2a2d7d 100%)"></i><i style="left:210px;background:linear-gradient(#7d1c21 0%,#d02228 6.6%,#e1842e 17.5%,#f0b830 23%,#f5e830 25.3%,#cdda47 29.7%,#9cc76e 33.4%,#79c09f 37.8%,#6fbfd3 39.6%,#68b8e7 41.2%,#5693cd 42.7%,#476ab4 46.4%,#4152a3 51%,#353f95 57%,#2b2f81 63.5%,#2a2d7d 100%)"></i><i style="left:212px;background:linear-gradient(#7d1c21 0%,#d02228 6.6%,#e1842e 17.5%,#f0b830 23%,#f5e830 25.3%,#cdda47 29.7%,#9cc76e 33.4%,#79c09f 37.8%,#6fbfd3 39.6%,#68b8e7 41.2%,#5693cd 42.7%,#476ab4 46.4%,#4152a3 51.3%,#354096 57.3%,#2c2f81 63.5%,#2a2d7d 100%)"></i><i style="left:214px;background:linear-gradient(#7d1c21 0%,#d02228 6.6%,#e1842e 17.5%,#f0b830 23%,#f5e830 25.3%,#cdda47 29.7%,#9cc76e 33.4%,#79c09f 37.8%,#6fbfd3 39.6%,#68b8e7 41.2%,#5693cd 42.7%,#476ab4 46.4%,#4152a3 51.3%,#364197 57.5%,#2c3082 63.5%,#2a2d7d 100%)"></i><i style="left:216px;background:linear-gradient(#7d1c21 0%,#d02228 6.6%,#e1842e 17.5%,#f0b830 23%,#f5e830 25.3%,#cdda47 29.7%,#9cc76e 33.4%,#79c09f 37.8%,#6fbfd3 39.6%,#68b8e7 41.2%,#5693cd 42.7%,#476ab4 46.4%,#4152a3 51.3%,#364197 57.8%,#2c3082 63.8%,#2a2d7d 100%)"></i><i style="left:218px;background:linear-gradient(#7d1c21 0%,#d02228 6.6%,#e1842e 17.5%,#f0b830 23%,#f5e830 25.3%,#cdda47 29.7%,#9cc76e 33.4%,#79c09f 37.8%,#6fbfd3 39.6%,#68b8e7 41.2%,#5693cd 42.7%,#476ab4 46.4%,#4152a3 51.3%,#364097 57.8%,#2c3083 63%,#2a2d7d 100%)"></i><i style="left:220px;background:linear-gradient(#7d1c21 0%,#d02228 6.6%,#e1842e 17.5%,#f0b830 23%,#f5e830 25.3%,#cdda47 29.7%,#9cc76f 33.4%,#79c09f 37.8%,#6fbfd3 39.6%,#68b8e7 41.2%,#5693cd 42.7%,#4669b3 46.4%,#4151a3 50.8%,#343e95 57.8%,#2d3286 60.6%,#2a2d7d 75.5%,#2a2d7d 100%)"></i><i style="left:222px;background:linear-gradient(#7d1c21 0%,#d02228 6.6%,#e1842e 17.5%,#f0b830 23%,#f5e830 25.3%,#cdda47 29.7%,#9cc76f 33.4%,#79c09f 37.8%,#6fbfd3 39.6%,#68b8e8 41.2%,#5795ce 42.5%,#476bb5 45.8%,#4051a2 49.7%,#333c93 57.8%,#2d3286 59.1%,#2a2d7d 74.2%,#2a2d7d 100%)"></i><i style="left:224px;background:linear-gradient(#7d1c21 0%,#d02228 6.6%,#e1842e 17.5%,#f0b830 23%,#f5e830 25.3%,#cdda47 29.7%,#9cc76f 33.4%,#79c09f 37.8%,#6fbfd4 39.6%,#67b6e6 41.2%,#5693cd 42.5%,#476ab4 45.6%,#4050a2 48.7%,#364197 56.5%,#323a92 57.8%,#2c3083 58.6%,#2a2d7d 92.1%,#2a2d7d 100%)"></i><i style="left:226px;background:linear-gradient(#7d1c21 0%,#d02228 6.6%,#e1842e 17.5%,#f0b830 23%,#f4e830 25.3%,#cdda47 29.7%,#9cc76f 33.4%,#78c0a0 37.8%,#6ebed5 39.6%,#68b8e7 40.9%,#5694ce 42.2%,#476ab4 45.1%,#3f4ea1 48.2%,#364197 54.9%,#333c93 57.5%,#2b2f81 58.6%,#2a2d7d 100%)"></i><i style="left:228px;background:linear-gradient(#7d1c21 0%,#d02228 6.6%,#e1842e 17.5%,#f0b830 23%,#f4e830 25.3%,#cdda47 29.7%,#9cc76f 33.4%,#78c0a1 37.8%,#6fbfd2 39.4%,#66b5e6 40.9%,#5794ce 41.9%,#4669b3 44.5%,#3f4fa1 47.1%,#364197 52.9%,#313991 57.5%,#2b2e7f 58.6%,#2a2d7d 100%)"></i><i style="left:230px;background:linear-gradient(#7d1c21 0%,#d02228 6.6%,#e1842e 17.5%,#f0b830 23%,#f4e830 25.3%,#cdda47 29.7%,#9bc76f 33.4%,#7ac09e 37.5%,#6fbfd4 39.4%,#67b7e7 40.6%,#5694ce 41.7%,#4565b0 44.3%,#3f4ea1 46.4%,#364197 51.3%,#2f368c 57.5%,#2b2e7f 58.6%,#2a2d7d 100%)"></i><i style="left:232px;background:linear-gradient(#7d1c21 0%,#d02228 6.6%,#e1842e 17.5%,#f0b830 23%,#f4e830 25.3%,#ccda47 29.7%,#9bc770 33.4%,#79c09f 37.5%,#6ebed7 39.4%,#68b7e7 40.4%,#5693cd 41.4%,#4460ad 44%,#3e4da0 45.8%,#333c93 53.4%,#2d3286 57.5%,#2b2d7e 59.1%,#2a2d7d 100%)"></i><i style="left:234px;background:linear-gradient(#7d1c21 0%,#d02228 6.6%,#e1842e 17.5%,#f0b830 23%,#f4e830 25.3%,#ccda47 29.7%,#9bc771 33.4%,#78c0a2 37.5%,#6ebed6 39.1%,#67b6e6 40.1%,#5590cb 41.2%,#4359a8 43.8%,#3a479c 46.4%,#2d3184 57%,#2a2d7e 60.6%,#2a2d7d 100%)"></i><i style="left:236px;background:linear-gradient(#7d1c21 0%,#d02228 6.6%,#e1842e 17.5%,#f0b830 23%,#f4e830 25.3%,#ccda48 29.7%,#9ac772 33.4%,#78c0a0 37.3%,#6ebed6 38.8%,#68b8e5 39.6%,#4f82c3 41.2%,#4154a5 43.2%,#384399 47.4%,#2a2d7e 59.6%,#2a2d7d 100%)"></i><i style="left:238px;background:linear-gradient(#7d1c21 0%,#d02228 6.6%,#e1842e 17.5%,#f0b930 23%,#f4e830 25.3%,#cfdb46 29.5%,#99c774 33.4%,#78c0a3 37%,#6fbfd4 38.3%,#67b5e3 39.1%,#4f81c2 40.4%,#435aa8 41.9%,#3c4b9e 43.8%,#2b2f81 55.7%,#2a2d7d 100%)"></i><i style="left:240px;background:linear-gradient(#7d1c21 0%,#d02228 6.6%,#e1842e 17.5%,#f0b930 23%,#f4e831 25.3%,#cedb46 29.5%,#99c774 33.1%,#78c0a3 36.5%,#6cbcdd 38.1%,#69b8e3 38.3%,#5c9fd5 38.8%,#4a73ba 39.9%,#4052a3 41.4%,#2e348a 50.3%,#2a2d7d 58.3%,#2a2d7d 100%)"></i><i style="left:242px;background:linear-gradient(#7d1c21 0%,#d02228 6.6%,#e1842e 17.5%,#f0b930 23%,#f4e831 25.3%,#ccda47 29.5%,#96c678 33.1%,#77c0a6 36%,#6abae2 37.5%,#5ca0d7 38.1%,#486fb7 39.1%,#4152a3 40.4%,#2f378e 48.2%,#2b2e7f 53.4%,#2a2d7d 100%)"></i><i style="left:244px;background:linear-gradient(#7d1c21 0%,#d02228 6.6%,#e0812d 17.3%,#f0ba30 23%,#f5e730 25.1%,#cddb46 29.2%,#98c675 32.6%,#78c0a3 35.2%,#6bbbde 36.8%,#66b3e0 37%,#4b78bd 38.1%,#4359a8 39.1%,#3e4ea0 40.6%,#30378f 47.1%,#2b2e80 50.8%,#2a2d7d 100%)"></i><i style="left:246px;background:linear-gradient(#7d1c21 0%,#d02228 6.6%,#e0812d 17.3%,#f1ba30 23%,#f5e830 25.1%,#cfdb46 29%,#9bc770 32.1%,#78c0a5 34.7%,#6cbcdb 36%,#69b8e2 36.2%,#5a9ad2 36.8%,#4971b8 37.5%,#4153a4 38.8%,#2f378e 46.4%,#2b2e7f 50%,#2a2d7d 100%)"></i><i style="left:248px;background:linear-gradient(#7d1c21 0%,#d02228 6.6%,#e0812d 17.3%,#f0b630 22.7%,#f4e830 25.1%,#ccda47 29%,#9ac771 31.8%,#77c0a5 34.2%,#6bbbdf 35.5%,#66b2e0 35.7%,#4b77bc 36.8%,#435ba9 37.8%,#3f4fa1 39.4%,#2e3489 46.1%,#2b2d7e 50.8%,#2a2d7d 100%)"></i><i style="left:250px;background:linear-gradient(#7d1c21 0%,#d02228 6.6%,#e0822d 17.3%,#f0b630 22.7%,#f4e831 25.1%,#cddb47 28.7%,#9ac772 31.6%,#78c0a4 33.6%,#6dbdd8 34.7%,#6abae1 34.9%,#64b0e0 35.2%,#4e7fc1 36%,#4666b1 36.8%,#4050a2 38.6%,#2b2e80 47.4%,#2a2d7d 100%)"></i><i style="left:252px;background:linear-gradient(#7d1c21 0%,#d02228 6.6%,#e0822d 17.3%,#f0b730 22.7%,#f5e730 24.8%,#cedb46 28.4%,#9dc76d 31%,#79c0a1 33.1%,#6ebed7 34.2%,#6bbbe0 34.4%,#64b0e0 34.7%,#4d7ec0 35.5%,#4667b1 36.2%,#3e4da0 38.6%,#2c3184 45.1%,#2a2d7d 57%,#2a2d7d 100%)"></i><i style="left:254px;background:linear-gradient(#7d1c21 0%,#d02228 6.6%,#e0822d 17.3%,#f0b830 22.7%,#f5e830 24.8%,#cfdc45 28.2%,#9dc76c 30.8%,#77c0a5 32.9%,#6fbfd4 33.6%,#66b4e2 34.2%,#4e80c1 34.9%,#4668b2 35.7%,#3c4b9e 38.3%,#2d3286 43%,#2a2d7d 51.3%,#2a2d7d 100%)"></i><i style="left:256px;background:linear-gradient(#7d1c21 0%,#d02228 6.6%,#e0822d 17.3%,#f0b930 22.7%,#f4e830 24.8%,#d1dc44 27.9%,#9ec86c 30.5%,#7bc19c 32.3%,#6dbdd8 33.4%,#6abae2 33.6%,#62acdf 33.9%,#5794ce 34.2%,#486fb7 34.9%,#3d4c9f 37.5%,#2d3286 41.7%,#2a2d7d 51.3%,#2a2d7d 100%)"></i><i style="left:258px;background:linear-gradient(#7d1c21 0%,#d02228 6.6%,#e0822d 17.3%,#f0ba30 22.7%,#f3e831 24.8%,#cedb46 27.9%,#9fc86a 30.3%,#7bc19c 32.1%,#6dbdd9 33.1%,#69b9e4 33.4%,#5590cb 33.9%,#476db6 34.7%,#3d4b9f 37%,#2e348a 39.9%,#2b2d7e 45.3%,#2a2d7d 100%)"></i><i style="left:260px;background:linear-gradient(#7d1c21 0%,#d02228 6.6%,#e0822d 17.3%,#f1bb30 22.7%,#f5e730 24.5%,#d0dc44 27.7%,#a1c867 30%,#77c0a6 32.1%,#6dbdd9 32.9%,#69b9e4 33.1%,#548fcb 33.6%,#476cb5 34.4%,#3f4fa1 36%,#2e3388 39.1%,#2b2d7e 45.3%,#2a2d7d 100%)"></i><i style="left:262px;background:linear-gradient(#7d1c21 0%,#d02228 6.6%,#e0822d 17.3%,#f1bb30 22.7%,#f5e830 24.5%,#cfdb45 27.7%,#9ec86b 30%,#78c0a1 31.8%,#6ebed6 32.6%,#6abae1 32.9%,#61aade 33.1%,#5692cc 33.4%,#476db6 34.2%,#3f4ea1 35.5%,#2d3286 38.6%,#2a2d7e 47.7%,#2a2d7d 100%)"></i><i style="left:264px;background:linear-gradient(#7d1c21 0%,#d02228 6.6%,#e0822e 17.3%,#f0b630 22.5%,#f4e830 24.5%,#cddb46 27.7%,#9cc76e 30%,#7bc19c 31.6%,#73c0bd 32.1%,#6cbcdc 32.6%,#67b6e6 32.9%,#5999d1 33.1%,#476db6 33.9%,#3f4fa1 34.9%,#2e348a 37.5%,#2b2e7f 42.7%,#2a2d7d 100%)"></i><i style="left:266px;background:linear-gradient(#7d1c21 0%,#d02228 6.6%,#e0822e 17.3%,#f0b730 22.5%,#f4e830 24.5%,#d1dc44 27.4%,#a0c868 29.7%,#79c09f 31.6%,#6ebed5 32.3%,#6abae1 32.6%,#62abde 32.9%,#5591cc 33.1%,#4667b1 33.9%,#3e4da0 34.7%,#2f368c 37%,#2b2e7f 41.7%,#2a2d7d 100%)"></i><i style="left:268px;background:linear-gradient(#7d1c21 0%,#d02228 6.6%,#e0822e 17.3%,#f0b730 22.5%,#f4e830 24.5%,#d1dc44 27.4%,#9fc869 29.7%,#79c09f 31.6%,#6ebed6 32.3%,#6abae2 32.6%,#60a8dc 32.9%,#4d7dc0 33.4%,#4153a3 34.2%,#303890 36.5%,#2b2e80 40.4%,#2a2d7d 100%)"></i><i style="left:270px;background:linear-gradient(#7d1c21 0%,#d02228 6.6%,#e0822e 17.3%,#f0b730 22.5%,#f4e830 24.5%,#d1dd44 27.4%,#a0c868 29.7%,#7ac09e 31.6%,#6fbfd3 32.3%,#6bbbdf 32.6%,#63afe1 32.9%,#5693cd 33.1%,#445eac 33.9%,#4151a3 34.2%,#2f378e 36.8%,#2b2e80 40.9%,#2a2d7d 100%)"></i><i style="left:272px;background:linear-gradient(#7d1c21 0%,#d02228 6.6%,#e0822e 17.3%,#f1bc30 22.7%,#f5e830 24.5%,#cedb46 27.7%,#9ec86c 30%,#77c0a3 31.8%,#6dbdd8 32.6%,#69b9e4 32.9%,#4b78bd 33.6%,#4359a8 34.2%,#3b499d 34.9%,#2e3388 37.8%,#2b2d7e 44.8%,#2a2d7d 100%)"></i><i style="left:274px;background:linear-gradient(#7d1c21 0%,#d02228 6.6%,#e0822d 17.3%,#f1bb30 22.7%,#f5e730 24.5%,#d1dc44 27.7%,#a1c967 30%,#78c0a4 32.1%,#6ebed7 32.9%,#6abae3 33.1%,#60a8dc 33.4%,#4d7dc0 33.9%,#4153a4 34.7%,#30378f 37.3%,#2b2e80 41.4%,#2a2d7d 100%)"></i><i style="left:276px;background:linear-gradient(#7d1c21 0%,#d02228 6.6%,#e0822d 17.3%,#f0b930 22.7%,#f4e831 24.8%,#d0dc45 27.9%,#9dc76d 30.5%,#7ac09f 32.3%,#6dbdda 33.4%,#68b6e1 33.6%,#5ea4d9 33.9%,#476cb5 34.7%,#3f4ea1 35.5%,#2e358b 38.3%,#2b2e7f 43.5%,#2a2d7d 100%)"></i><i style="left:278px;background:linear-gradient(#7d1c21 0%,#d02228 6.6%,#e0822d 17.3%,#f0b830 22.7%,#f5e830 24.8%,#d0dc44 28.2%,#9fc86a 30.8%,#7ac09f 32.9%,#6abae1 34.2%,#5a9bd3 34.7%,#4668b2 35.5%,#3f4ea1 36.2%,#2e358b 39.1%,#2b2d7e 44.5%,#2a2d7d 100%)"></i><i style="left:280px;background:linear-gradient(#7d1c21 0%,#d02228 6.6%,#e0822d 17.3%,#f0b630 22.7%,#f4e831 25.1%,#cdda47 28.7%,#9dc76c 31.3%,#78c0a6 33.6%,#6ab9e0 34.9%,#5a9cd4 35.5%,#486cb5 36.2%,#3f50a2 37%,#2f368c 39.9%,#2b2e7f 45.1%,#2a2d7d 100%)"></i><i style="left:282px;background:linear-gradient(#7d1c21 0%,#d02228 6.6%,#e0812d 17.3%,#f0b530 22.7%,#f5e830 25.1%,#cddb47 29%,#98c675 32.1%,#77c0a9 34.4%,#6abae1 35.7%,#5c9fd6 36.2%,#4564af 37.3%,#3e4da0 38.1%,#2f358b 40.9%,#2b2d7e 46.4%,#2a2d7d 100%)"></i><i style="left:284px;background:linear-gradient(#7d1c21 0%,#d02228 6.6%,#e0812d 17.3%,#f1ba30 23%,#f5e830 25.1%,#d0dc45 29%,#99c773 32.3%,#78c0a5 34.9%,#6dbdda 36.2%,#6abae2 36.5%,#5b9cd4 37%,#4564af 38.1%,#3e4ea0 38.8%,#2e358b 41.9%,#2b2d7e 47.9%,#2a2d7d 100%)"></i><i style="left:286px;background:linear-gradient(#7d1c21 0%,#d02228 6.6%,#e0812d 17.3%,#f0ba30 23%,#f5e730 25.1%,#cedb46 29.2%,#99c773 32.6%,#77c0a4 35.5%,#6bbbe0 37%,#65b2e1 37.3%,#4f82c3 38.1%,#4257a7 39.1%,#313a92 41.7%,#2b2f80 46.1%,#2a2d7d 100%)"></i><i style="left:288px;background:linear-gradient(#7d1c21 0%,#d02228 6.6%,#e1842e 17.5%,#f0b930 23%,#f4e831 25.3%,#ccda47 29.5%,#96c678 33.1%,#77c0a7 36%,#6abae2 37.5%,#65b1e2 37.8%,#5083c3 38.6%,#435aa9 39.6%,#38449a 41.2%,#2d3185 44.8%,#2a2d7d 58.8%,#2a2d7d 100%)"></i><i style="left:290px;background:linear-gradient(#7d1c21 0%,#d02228 6.6%,#e1842e 17.5%,#f0b930 23%,#f4e831 25.3%,#cdda47 29.5%,#97c676 33.1%,#77c0a4 36.2%,#6dbdd8 37.5%,#68b7e5 38.1%,#528ac8 38.8%,#435aa9 40.1%,#374298 41.9%,#2c3083 45.8%,#2a2d7d 68.2%,#2a2d7d 100%)"></i><i style="left:292px;background:linear-gradient(#7d1c21 0%,#d02228 6.6%,#e1842e 17.5%,#f0b930 23%,#f4e831 25.3%,#cddb46 29.5%,#99c774 33.1%,#77c0a4 36.5%,#6ebed7 37.8%,#69b9e6 38.3%,#548eca 39.1%,#4460ad 40.4%,#3f4fa1 41.2%,#2e348a 44.8%,#2b2d7e 51.6%,#2a2d7d 100%)"></i><i style="left:294px;background:linear-gradient(#7d1c21 0%,#d02228 6.6%,#e1842e 17.5%,#f0b930 23%,#f4e830 25.3%,#cedb46 29.5%,#97c676 33.4%,#78c0a3 36.8%,#6ebed6 38.1%,#69b9e4 38.6%,#65b1e3 38.8%,#5289c7 39.6%,#4359a8 41.2%,#343d94 43.8%,#2b2f80 49%,#2a2d7d 100%)"></i><i style="left:296px;background:linear-gradient(#7d1c21 0%,#d02228 6.6%,#e1842e 17.5%,#f0b930 23%,#f4e830 25.3%,#cfdb46 29.5%,#99c774 33.4%,#78c0a1 37%,#6dbdd9 38.6%,#68b8e5 39.1%,#538cc9 40.1%,#4359a8 41.9%,#323a92 45.3%,#2b2f80 50.3%,#2a2d7d 100%)"></i><i style="left:298px;background:linear-gradient(#7d1c21 0%,#d02228 6.6%,#e1842e 17.5%,#f0b830 23%,#f4e830 25.3%,#ccda48 29.7%,#9ac772 33.4%,#78c0a1 37.3%,#6ebed6 38.8%,#68b7e5 39.6%,#5288c7 40.9%,#4257a6 43%,#2f358c 47.7%,#2b2e7f 54.2%,#2a2d7d 100%)"></i><i style="left:300px;background:linear-gradient(#7d1c21 0%,#d02228 6.6%,#e1842e 17.5%,#f0b830 23%,#f4e830 25.3%,#ccda47 29.7%,#9bc770 33.4%,#78c0a2 37.5%,#6ebed5 39.1%,#67b6e5 40.1%,#538ac8 41.4%,#4255a5 44%,#2e358a 49.2%,#2b2d7e 56.8%,#2a2d7d 100%)"></i><i style="left:302px;background:linear-gradient(#7d1c21 0%,#d02228 6.6%,#e1842e 17.5%,#f0b830 23%,#f4e830 25.3%,#ccda47 29.7%,#9bc770 33.4%,#79c09f 37.5%,#6ebed6 39.4%,#68b8e7 40.4%,#558fcb 41.7%,#445fac 44.3%,#3e4da0 46.1%,#2e3388 51%,#2a2d7e 61.2%,#2a2d7d 100%)"></i><i style="left:304px;background:linear-gradient(#7d1c21 0%,#d02228 6.6%,#e1842e 17.5%,#f0b830 23%,#f4e830 25.3%,#cdda47 29.7%,#9bc76f 33.4%,#7ac09e 37.5%,#6fbfd4 39.4%,#68b8e7 40.6%,#5590cb 41.9%,#4667b1 44.3%,#3f4fa1 46.4%,#2d3387 52.1%,#2a2d7e 63.2%,#2a2d7d 100%)"></i><i style="left:306px;background:linear-gradient(#7d1c21 0%,#d02228 6.6%,#e1842e 17.5%,#f0b830 23%,#f4e830 25.3%,#cdda47 29.7%,#9bc76f 33.4%,#78c0a2 37.8%,#6fbfd3 39.4%,#68b8e7 40.6%,#5692cd 41.9%,#4666b1 44.5%,#3f4fa1 46.6%,#2d3388 52.3%,#2a2d7e 63.2%,#2a2d7d 100%)"></i><i style="left:308px;background:linear-gradient(#7d1c21 0%,#d02228 6.6%,#e1842e 17.5%,#f0b830 23%,#f4e830 25.3%,#cdda47 29.7%,#9bc76f 33.4%,#78c0a2 37.8%,#6fbfd3 39.4%,#68b8e7 40.6%,#5692cd 41.9%,#4666b1 44.5%,#3f4fa1 46.6%,#2d3388 52.3%,#2a2d7e 63.2%,#2a2d7d 100%)"></i><i style="left:310px;background:linear-gradient(#7d1c21 0%,#d02228 6.6%,#e1842e 17.5%,#f0b830 23%,#f4e830 25.3%,#cdda47 29.7%,#9bc76f 33.4%,#78c0a2 37.8%,#6fbfd3 39.4%,#68b8e7 40.6%,#5692cc 41.9%,#4666b1 44.5%,#3f4fa1 46.6%,#2d3387 52.3%,#2a2d7e 63.8%,#2a2d7d 100%)"></i><i style="left:312px;background:linear-gradient(#7d1c21 0%,#d02228 6.6%,#e1842e 17.5%,#f0b830 23%,#f4e830 25.3%,#cdda47 29.7%,#9bc76f 33.4%,#78c0a2 37.8%,#6fbfd3 39.4%,#68b8e7 40.6%,#5692cc 41.9%,#4666b1 44.5%,#3f4fa1 46.6%,#2d3387 52.3%,#2a2d7e 63.5%,#2a2d7d 100%)"></i><i style="left:314px;background:linear-gradient(#7d1c21 0%,#d02228 6.6%,#e1842e 17.5%,#f0b830 23%,#f4e830 25.3%,#cdda47 29.7%,#9bc76f 33.4%,#78c0a2 37.8%,#6fbfd3 39.4%,#69b9e6 40.6%,#5693cd 41.9%,#4667b2 44.5%,#4050a2 46.6%,#2d3387 52.6%,#2a2d7e 64.3%,#2a2d7d 100%)"></i><i style="left:316px;background:linear-gradient(#7d1c21 0%,#d02228 6.6%,#e1842e 17.5%,#f0b830 23%,#f4e830 25.3%,#cdda47 29.7%,#9cc76f 33.4%,#78c0a2 37.8%,#6fbfd3 39.4%,#69b9e6 40.6%,#5da2d7 41.4%,#486eb7 44%,#3f4fa1 46.9%,#2d3387 52.9%,#2a2d7d 64.8%,#2a2d7d 100%)"></i><i style="left:318px;background:linear-gradient(#7d1c21 0%,#d02228 6.6%,#e1842e 17.5%,#f0b830 23%,#f4e830 25.3%,#cdda47 29.7%,#9cc76f 33.4%,#78c0a1 37.8%,#6fbfd2 39.4%,#66b5e6 40.9%,#5795ce 41.9%,#4667b1 44.8%,#3f4fa1 47.1%,#2d3387 53.1%,#2a2d7d 65.3%,#2a2d7d 100%)"></i><i style="left:320px;background:linear-gradient(#7d1c21 0%,#d02228 6.6%,#e1842e 17.5%,#f0b830 23%,#f4e830 25.3%,#cdda47 29.7%,#9cc76f 33.4%,#78c0a1 37.8%,#6fbfd2 39.4%,#66b4e5 40.9%,#5694ce 41.9%,#4669b3 44.5%,#4050a2 46.9%,#2d3287 53.1%,#2a2d7d 65.6%,#2a2d7d 100%)"></i><i style="left:322px;background:linear-gradient(#7d1c21 0%,#d02228 6.6%,#e1842e 17.5%,#f0b830 23%,#f4e830 25.3%,#cdda47 29.7%,#9bc76f 33.4%,#78c0a3 37.8%,#6fbfd4 39.4%,#68b8e7 40.6%,#5591cc 41.9%,#4565b0 44.5%,#3f4fa1 46.6%,#2d3387 52.3%,#2a2d7e 63.5%,#2a2d7d 100%)"></i><i style="left:324px;background:linear-gradient(#7d1c21 0%,#d02228 6.6%,#e1842e 17.5%,#f0b830 23%,#f4e830 25.3%,#ccda47 29.7%,#9bc770 33.4%,#79c09f 37.5%,#6ebed6 39.4%,#68b8e7 40.4%,#5590cb 41.7%,#4460ac 44.3%,#3e4da0 46.1%,#323b93 49.5%,#2c2f82 53.6%,#2a2d7d 100%)"></i><i style="left:326px;background:linear-gradient(#7d1c21 0%,#d02228 6.6%,#e1842e 17.5%,#f0b830 23%,#f4e830 25.3%,#ccda47 29.7%,#9bc770 33.4%,#78c0a2 37.5%,#6ebed5 39.1%,#67b6e5 40.1%,#538bc8 41.4%,#4256a6 44%,#374399 48.4%,#2d3286 50.5%,#2a2d7d 64.3%,#2a2d7d 100%)"></i><i style="left:328px;background:linear-gradient(#7d1c21 0%,#d02228 6.6%,#e1842e 17.5%,#f0b830 23%,#f4e830 25.3%,#ccda48 29.7%,#9ac772 33.4%,#78c0a0 37.3%,#6ebed6 38.8%,#68b8e6 39.6%,#5289c7 40.9%,#4258a7 43%,#3b489d 45.3%,#353f95 49%,#2c3184 50%,#2a2d7d 73.4%,#2a2d7d 100%)"></i><i style="left:330px;background:linear-gradient(#7d1c21 0%,#d02228 6.6%,#e1842e 17.5%,#f0b930 23%,#f4e830 25.3%,#cfdb45 29.5%,#99c773 33.4%,#79c09f 37%,#6ebed6 38.6%,#67b5e5 39.4%,#5692cc 40.1%,#4359a8 42.2%,#3d4c9f 43.5%,#333c93 49%,#2c2f81 50%,#2a2d7d 100%)"></i><i style="left:332px;background:linear-gradient(#7d1c21 0%,#d02228 6.6%,#e1842e 17.5%,#f0b930 23%,#f4e830 25.3%,#cfdb46 29.5%,#99c774 33.4%,#78c0a2 37%,#6fbfd4 38.3%,#68b7e7 39.1%,#5591cc 39.9%,#435caa 41.7%,#3e4da0 42.7%,#303990 49%,#2b2f80 50%,#2a2d7d 100%)"></i><i style="left:334px;background:linear-gradient(#7d1c21 0%,#d02228 6.6%,#e1842e 17.5%,#f0b930 23%,#f4e830 25.3%,#cedb46 29.5%,#98c674 33.4%,#79c09e 36.8%,#6ebed7 38.3%,#69b9e4 38.8%,#64b0e2 39.1%,#538bc8 39.9%,#4256a6 41.7%,#3a479c 44%,#2e358a 49%,#2b2e7f 50.3%,#2a2d7d 100%)"></i><i style="left:336px;background:linear-gradient(#7d1c21 0%,#d02228 6.6%,#e1842e 17.5%,#f0b930 23%,#f4e830 25.3%,#cedb46 29.5%,#98c676 33.4%,#78c0a2 36.8%,#6ebed5 38.1%,#66b3e4 38.8%,#5794ce 39.4%,#4562ae 40.9%,#3f4fa1 41.9%,#2e3489 48.4%,#2b2e7f 51%,#2a2d7d 100%)"></i><i style="left:338px;background:linear-gradient(#7d1c21 0%,#d02228 6.6%,#e1842e 17.5%,#f0b930 23%,#f4e831 25.3%,#cddb46 29.5%,#99c774 33.1%,#77c0a4 36.5%,#6ebed7 37.8%,#68b7e4 38.3%,#5083c3 39.4%,#435aa9 40.6%,#3e4ea0 41.7%,#2b2e7f 49.7%,#2a2d7d 100%)"></i><i style="left:340px;background:linear-gradient(#7d1c21 0%,#d02228 6.6%,#e1842e 17.5%,#f0b930 23%,#f4e831 25.3%,#ccda47 29.5%,#96c677 33.1%,#78c0a2 36%,#6cbcdd 37.5%,#68b7e3 37.8%,#4a74ba 39.1%,#4152a3 40.4%,#2d3387 46.6%,#2b2d7e 52.3%,#2a2d7d 100%)"></i><i style="left:342px;background:linear-gradient(#7d1c21 0%,#d02228 6.6%,#e0812d 17.3%,#f0ba30 23%,#f5e730 25.1%,#cedb46 29.2%,#97c677 32.9%,#78c0a2 35.5%,#6cbcdd 37%,#68b6e3 37.3%,#4c7bbe 38.3%,#4258a7 39.4%,#3e4da0 40.9%,#364197 43%,#2d3287 45.3%,#2a2d7e 52.6%,#2a2d7d 100%)"></i><i style="left:344px;background:linear-gradient(#7d1c21 0%,#d02228 6.6%,#e0812d 17.3%,#f0ba30 23%,#f5e730 25.1%,#cdda47 29.2%,#97c677 32.6%,#79c0a0 34.9%,#6cbcdd 36.5%,#68b7e3 36.8%,#4b78bd 37.8%,#4257a6 38.8%,#354096 42.7%,#2d3286 44.3%,#2a2d7d 53.9%,#2a2d7d 100%)"></i><i style="left:346px;background:linear-gradient(#7d1c21 0%,#d02228 6.6%,#e0812d 17.3%,#f1ba30 23%,#f5e830 25.1%,#cfdb46 29%,#9bc770 32.1%,#77c0a4 34.7%,#6cbcdc 36%,#69b9e4 36.2%,#62acdf 36.5%,#4c7abe 37.3%,#4258a7 38.3%,#3d4c9f 40.4%,#323b92 42.7%,#2c3083 44%,#2a2d7d 77.5%,#2a2d7d 100%)"></i><i style="left:348px;background:linear-gradient(#7d1c21 0%,#d02228 6.6%,#e0812d 17.3%,#f0b530 22.7%,#f5e830 25.1%,#cddb47 29%,#98c674 32.1%,#77c0a8 34.4%,#6dbdd8 35.5%,#66b3e3 36%,#4f80c2 36.8%,#4561ae 37.5%,#4051a2 38.6%,#313991 42.5%,#2c2f81 43.8%,#2a2d7d 100%)"></i><i style="left:350px;background:linear-gradient(#7d1c21 0%,#d02228 6.6%,#e0812d 17.3%,#f0b630 22.7%,#f4e830 25.1%,#cfdc45 28.7%,#9dc76c 31.6%,#77c0a8 34.2%,#6dbdd9 35.2%,#65b1e3 35.7%,#538bc8 36.2%,#4666b1 37%,#4051a2 38.3%,#2e348a 42.5%,#2b2e80 44%,#2a2d7d 100%)"></i><i style="left:352px;background:linear-gradient(#7d1c21 0%,#d02228 6.6%,#e0812d 17.3%,#f0b630 22.7%,#f4e830 25.1%,#cedb46 28.7%,#9cc76f 31.6%,#77c0a4 33.9%,#6ebed7 34.9%,#67b5e6 35.5%,#548eca 36%,#4667b2 36.8%,#4050a2 38.1%,#2b2f81 43.2%,#2a2d7d 100%)"></i><i style="left:354px;background:linear-gradient(#7d1c21 0%,#d02228 6.6%,#e0822d 17.3%,#f0b630 22.7%,#f4e830 25.1%,#cedb46 28.7%,#9bc76f 31.6%,#77c0a7 33.9%,#6dbdd9 34.9%,#6abae2 35.2%,#64afe2 35.5%,#5898d0 35.7%,#4564af 36.8%,#3f4fa1 37.8%,#2d3388 41.4%,#2b2d7e 46.6%,#2a2d7d 100%)"></i><i style="left:356px;background:linear-gradient(#7d1c21 0%,#d02228 6.6%,#e0812d 17.3%,#f0b630 22.7%,#f4e830 25.1%,#cedb46 28.7%,#9cc76f 31.6%,#77c0a4 33.9%,#6ebed7 34.9%,#66b5e6 35.5%,#548dc9 36%,#4565b0 36.8%,#4152a3 37.3%,#2e358b 40.4%,#2b2e7f 45.3%,#2a2d7d 100%)"></i><i style="left:358px;background:linear-gradient(#7d1c21 0%,#d02228 6.6%,#e0812d 17.3%,#f0b630 22.7%,#f4e830 25.1%,#cfdc45 28.7%,#9dc76d 31.6%,#79c09f 33.9%,#6dbdda 35.2%,#6abae3 35.5%,#63ade0 35.7%,#5289c7 36.2%,#4154a4 37.3%,#30378f 39.9%,#2b2e80 44%,#2a2d7d 100%)"></i><i style="left:360px;background:linear-gradient(#7d1c21 0%,#d02228 6.6%,#e0812d 17.3%,#f0b530 22.7%,#f4e830 25.1%,#cdda47 29%,#9bc770 31.8%,#78c0a1 34.2%,#6cbcdb 35.5%,#69b9e4 35.7%,#62addf 36%,#5288c7 36.5%,#4154a4 37.5%,#313991 39.9%,#2b2e80 44%,#2a2d7d 100%)"></i><i style="left:362px;background:linear-gradient(#7d1c21 0%,#d02228 6.6%,#e0812d 17.3%,#f0b530 22.7%,#f5e830 25.1%,#cedb46 29%,#99c773 32.1%,#78c0a1 34.4%,#6dbdda 35.7%,#6abae2 36%,#64b0e2 36.2%,#538bc8 36.8%,#4256a6 37.8%,#313a91 40.1%,#2b2f80 44.3%,#2a2d7d 100%)"></i><i style="left:364px;background:linear-gradient(#7d1c21 0%,#d02228 6.6%,#e0812d 17.3%,#f1ba30 23%,#f5e830 25.1%,#cfdb45 29%,#9bc770 32.1%,#78c0a1 34.7%,#6dbdd8 36%,#66b4e4 36.5%,#4971b8 37.5%,#4051a3 38.3%,#2f368d 41.2%,#2b2e7f 46.1%,#2a2d7d 100%)"></i><i style="left:366px;background:linear-gradient(#7d1c21 0%,#d02228 6.6%,#e0812d 17.3%,#f0ba30 23%,#f5e730 25.1%,#cdda47 29.2%,#9ac772 32.3%,#79c0a0 34.9%,#6bbbde 36.5%,#68b7e5 36.8%,#5085c4 37.5%,#4255a5 38.6%,#303991 41.2%,#2b2f80 45.3%,#2a2d7d 100%)"></i><i style="left:368px;background:linear-gradient(#7d1c21 0%,#d02228 6.6%,#e0812d 17.3%,#f0ba30 23%,#f5e730 25.1%,#cedb46 29.2%,#99c774 32.6%,#77c0a7 35.5%,#6abae3 37%,#63aee1 37.3%,#538bc8 37.8%,#435baa 38.8%,#3b499d 39.9%,#2e3388 43%,#2b2d7e 50.5%,#2a2d7d 100%)"></i><i style="left:370px;background:linear-gradient(#7d1c21 0%,#d02228 6.6%,#e0812d 17.3%,#f0b930 23%,#f3e831 25.3%,#cbda48 29.5%,#98c676 32.9%,#77c0a4 35.7%,#6bbbe0 37.3%,#66b4e3 37.5%,#5085c4 38.3%,#435aa8 39.4%,#364197 41.2%,#2c3082 45.3%,#2a2d7d 98.6%,#2a2d7d 100%)"></i><i style="left:372px;background:linear-gradient(#7d1c21 0%,#d02228 6.6%,#e1842e 17.5%,#f0b930 23%,#f4e831 25.3%,#ccda47 29.5%,#97c677 33.1%,#78c0a1 36%,#69b9e4 37.8%,#63aee0 38.1%,#4f81c2 38.8%,#4154a4 40.1%,#30378f 43.2%,#2b2e7f 48.2%,#2a2d7d 100%)"></i><i style="left:374px;background:linear-gradient(#7d1c21 0%,#d02228 6.6%,#e1842e 17.5%,#f0b930 23%,#f4e831 25.3%,#cddb46 29.5%,#99c774 33.1%,#77c0a4 36.5%,#6ebed7 37.8%,#68b7e4 38.3%,#4b78bd 39.6%,#4153a4 40.9%,#2f368c 44.5%,#2b2e7f 50.3%,#2a2d7d 100%)"></i><i style="left:376px;background:linear-gradient(#7d1c21 0%,#d02228 6.6%,#e1842e 17.5%,#f0b930 23%,#f4e830 25.3%,#cedb46 29.5%,#98c675 33.4%,#79c09f 36.8%,#6dbdd9 38.3%,#68b7e4 38.8%,#5289c7 39.9%,#4155a5 41.7%,#2f378e 45.6%,#2b2e7f 50.8%,#2a2d7d 100%)"></i><i style="left:378px;background:linear-gradient(#7d1c21 0%,#d02228 6.6%,#e1842e 17.5%,#f0b830 23%,#f4e830 25.3%,#cfdc45 29.5%,#9ac772 33.4%,#78c0a3 37.3%,#6fbfd3 38.6%,#69b9e5 39.4%,#4c7abe 41.2%,#4153a4 43%,#2e348a 47.9%,#2b2d7e 55.7%,#2a2d7d 100%)"></i><i style="left:380px;background:linear-gradient(#7d1c21 0%,#d02228 6.6%,#e1842e 17.5%,#f0b830 23%,#f4e830 25.3%,#ccda47 29.7%,#9bc770 33.4%,#78c0a2 37.5%,#6ebed5 39.1%,#67b6e5 40.1%,#5085c5 41.7%,#4154a5 44.3%,#2e3489 50.3%,#2b2d7e 59.4%,#2a2d7d 100%)"></i><i style="left:382px;background:linear-gradient(#7d1c21 0%,#d02228 6.6%,#e1842e 17.5%,#f0b830 23%,#f4e830 25.3%,#ccda47 29.7%,#9bc76f 33.4%,#7ac09e 37.5%,#6ebed5 39.4%,#67b6e6 40.6%,#5694cd 41.7%,#4564b0 44.3%,#3f4ea1 46.4%,#2d3287 52.3%,#2a2d7d 64.8%,#2a2d7d 100%)"></i></div>
<div class="h" style="left:1391.7px;top:563.6px;width:384.3px;height:385.1px"><i style="left:0px;background:linear-gradient(#f8f8fb 0%,#f1f1f9 47.4%,#e7e7f3 52.3%,#7a80bc 63.5%,#636baf 68.7%,#4d5aa8 81.9%,#4856a7 100%)"></i><i style="left:2px;background:linear-gradient(#f8f8fb 0%,#f1f1f9 47.9%,#e6e6f3 52.9%,#7b81bc 64.3%,#636baf 69.7%,#4e5aa8 83.2%,#4a57a7 100%)"></i><i style="left:4px;background:linear-gradient(#f8f8fb 0%,#f1f1f8 49.5%,#e2e2f1 54.2%,#797fbb 66.4%,#616aaf 72.6%,#4f5ba9 87.4%,#4d5aa8 100%)"></i><i style="left:6px;background:linear-gradient(#f8f8fb 0%,#f2f2f9 50.8%,#dedeef 56%,#787ebb 69%,#6169af 76%,#535ea9 92.6%,#525ea9 100%)"></i><i style="left:8px;background:linear-gradient(#f8f8fb 0%,#f2f2f9 52.1%,#dbdcee 58.3%,#7a80bc 71.8%,#636bb0 79.4%,#5963ab 99.1%,#5963ab 100%)"></i><i style="left:10px;background:linear-gradient(#f8f8fb 0%,#f2f2f9 53.9%,#dbdcee 60.6%,#7e84be 74.7%,#676eb1 83%,#6169ae 100%)"></i><i style="left:12px;background:linear-gradient(#f8f8fb 0%,#f2f2f9 56%,#dcdcee 63.2%,#848ac1 77.8%,#6d73b4 87.1%,#6970b2 100%)"></i><i style="left:14px;background:linear-gradient(#f8f8fb 0%,#f2f2f9 58.3%,#dcdcee 66.1%,#8b91c5 80.9%,#777dba 90.8%,#757bb9 100%)"></i><i style="left:16px;background:linear-gradient(#f8f8fb 0%,#f2f2f9 60.9%,#dcdcee 69.2%,#959bcb 83.2%,#848ac1 94.2%,#8389c1 100%)"></i><i style="left:18px;background:linear-gradient(#f8f8fb 0%,#f2f2f9 63.5%,#dbdbed 72.6%,#a0a5d0 85.1%,#9197c9 96.2%,#9197c8 100%)"></i><i style="left:20px;background:linear-gradient(#f8f8fb 0%,#f2f2f9 66.1%,#dbdbed 75.7%,#abafd5 86.1%,#9da2cf 97.5%,#9da2cf 100%)"></i><i style="left:22px;background:linear-gradient(#f8f8fb 0%,#f2f2f9 68.4%,#dbdcee 78.6%,#b4b8da 86.6%,#a7abd4 97.8%,#a7abd4 100%)"></i><i style="left:24px;background:linear-gradient(#f8f8fb 0%,#f2f2f9 70.3%,#ddddee 80.9%,#bbbfdd 87.1%,#aeb2d7 98.3%,#aeb2d7 100%)"></i><i style="left:26px;background:linear-gradient(#f8f8fb 0%,#f2f2f9 71.6%,#e4e4f2 81.2%,#bec2df 87.9%,#b3b7d9 99.4%,#b3b7d9 100%)"></i><i style="left:28px;background:linear-gradient(#f8f8fb 0%,#f2f2f9 72.1%,#e8e8f4 81.2%,#bfc3e0 88.4%,#b5b9da 100%)"></i><i style="left:30px;background:linear-gradient(#f8f8fb 0%,#f2f2f9 72.3%,#ececf6 80.9%,#bfc3e0 88.4%,#b5b9da 100%)"></i><i style="left:32px;background:linear-gradient(#f8f8fb 0%,#f2f2f9 72.9%,#ececf6 80.6%,#bfc3df 87.9%,#b2b6d9 98.3%,#b2b6d9 100%)"></i><i style="left:34px;background:linear-gradient(#f8f8fb 0%,#f2f2f9 75.2%,#e7e7f3 80.6%,#bcc0de 87.1%,#aeb2d7 96.8%,#adb1d7 100%)"></i><i style="left:36px;background:linear-gradient(#f8f8fb 0%,#f1f1f9 73.9%,#e2e2f1 80.1%,#babedd 85.8%,#a8acd4 94.7%,#a7abd3 100%)"></i><i style="left:38px;background:linear-gradient(#f8f8fb 0%,#f1f1f8 71.8%,#e0e0f0 78.3%,#b2b6d9 85.3%,#9fa4cf 94.2%,#9da2cf 100%)"></i><i style="left:40px;background:linear-gradient(#f8f8fb 0%,#f1f1f8 69.7%,#e0e0f0 76%,#a9add4 84.5%,#949aca 93.4%,#9298c9 100%)"></i><i style="left:42px;background:linear-gradient(#f8f8fb 0%,#f1f1f8 67.4%,#e1e1f0 73.4%,#9fa4cf 83.5%,#898fc4 92.1%,#868cc3 100%)"></i><i style="left:44px;background:linear-gradient(#f8f8fb 0%,#f1f1f8 65.6%,#dfe0f0 71.3%,#999ecc 81.4%,#7f85bf 89.7%,#7a80bc 100%)"></i><i style="left:46px;background:linear-gradient(#f8f8fb 0%,#f1f1f8 63.5%,#e0e0f0 69%,#8f95c8 79.9%,#767cba 87.4%,#7076b6 100%)"></i><i style="left:48px;background:linear-gradient(#f8f8fb 0%,#f1f1f8 61.4%,#dfdfef 66.9%,#888ec3 78.1%,#6f75b5 85.3%,#676eb1 100%)"></i><i style="left:50px;background:linear-gradient(#f8f8fb 0%,#f1f1f8 59.6%,#dfdfef 64.8%,#8288c1 76%,#696fb2 83.2%,#6069ae 100%)"></i><i style="left:52px;background:linear-gradient(#f8f8fb 0%,#f1f1f8 57.8%,#dfdfef 62.7%,#7e84be 73.9%,#666db0 80.4%,#5a64ac 97.5%,#5a64ac 100%)"></i><i style="left:54px;background:linear-gradient(#f8f8fb 0%,#f1f1f8 56.2%,#dedeef 60.9%,#7b81bd 71.8%,#646bb0 77.8%,#5460aa 93.4%,#545faa 100%)"></i><i style="left:56px;background:linear-gradient(#f8f8fb 0%,#f1f1f9 48.7%,#ececf6 56.5%,#d1d3e9 60.4%,#797fbc 69.7%,#626aaf 75.5%,#515da9 89.5%,#4f5ba9 100%)"></i><i style="left:58px;background:linear-gradient(#f8f8fb 0%,#f1f1f9 47.4%,#ededf6 54.9%,#cfd1e7 58.8%,#797fbb 67.7%,#626aaf 73.1%,#4e5aa8 86.4%,#4b58a8 100%)"></i><i style="left:60px;background:linear-gradient(#f8f8fb 0%,#f1f1f8 46.6%,#ededf6 53.6%,#ced1e7 57.3%,#787ebb 65.8%,#6068ae 71.3%,#4b58a8 84.5%,#4855a7 100%)"></i><i style="left:62px;background:linear-gradient(#f8f8fb 0%,#f1f1f8 45.8%,#ededf7 52.6%,#ced0e7 56%,#7a80bc 63.8%,#626aaf 68.7%,#4a57a7 81.2%,#4452a6 100%)"></i><i style="left:64px;background:linear-gradient(#f8f8fb 0%,#f1f1f8 45.3%,#ededf7 51.8%,#cccfe6 54.9%,#7b81bd 62.2%,#636aaf 66.9%,#4956a7 78.8%,#4351a5 100%)"></i><i style="left:66px;background:linear-gradient(#f8f8fb 0%,#f1f1f8 45.1%,#ededf6 51.3%,#cbcde5 54.2%,#7c82bd 60.9%,#646bb0 65.3%,#4956a7 77%,#4250a5 100%)"></i><i style="left:68px;background:linear-gradient(#f8f8fb 0%,#f1f1f8 44.8%,#ebebf6 51%,#c4c8e2 53.9%,#797fbc 60.4%,#626aaf 64.8%,#4755a7 77%,#414fa4 100%)"></i><i style="left:70px;background:linear-gradient(#f8f8fb 0%,#f1f1f8 44.8%,#ebebf5 50.8%,#c6cae3 53.4%,#7c82bd 59.6%,#636baf 64%,#4855a7 75.7%,#404ea4 100%)"></i><i style="left:72px;background:linear-gradient(#f8f8fb 0%,#f1f1f8 45.1%,#e9e9f5 50.8%,#8c92c6 57.8%,#696fb2 62.2%,#4b58a8 73.1%,#414fa4 91%,#404ea4 100%)"></i><i style="left:74px;background:linear-gradient(#f8f8fb 0%,#f1f1f8 45.3%,#e9e9f4 50.8%,#c6c9e3 53.4%,#7b81bd 59.6%,#636aaf 64%,#4754a7 76%,#404ea4 100%)"></i><i style="left:76px;background:linear-gradient(#f8f8fb 0%,#f1f1f8 45.8%,#e8e8f4 51%,#7d83be 59.9%,#646cb0 64%,#4956a7 75.2%,#404ea4 100%)"></i><i style="left:78px;background:linear-gradient(#f8f8fb 0%,#f1f1f8 46.6%,#e7e7f3 51.6%,#797fbb 61.2%,#6169ae 65.8%,#4653a6 78.3%,#414fa4 100%)"></i><i style="left:80px;background:linear-gradient(#f8f8fb 0%,#f1f1f9 47.4%,#e5e5f3 52.3%,#777dba 62.5%,#5f68ae 67.4%,#4553a6 80.4%,#4250a5 100%)"></i><i style="left:82px;background:linear-gradient(#f8f8fb 0%,#f1f1f8 48.7%,#e4e4f2 53.4%,#767cba 64%,#5e67ad 69.2%,#4654a6 82.5%,#4351a5 100%)"></i><i style="left:84px;background:linear-gradient(#f8f8fb 0%,#f1f1f9 50%,#e3e3f1 54.7%,#747ab8 66.1%,#5b64ac 72.3%,#4654a7 87.1%,#4452a6 100%)"></i><i style="left:86px;background:linear-gradient(#f8f8fb 0%,#f1f1f9 51.6%,#dfe0f0 56.5%,#747ab8 68.2%,#5b65ac 74.7%,#4a57a7 89.7%,#4956a7 100%)"></i><i style="left:88px;background:linear-gradient(#f8f8fb 0%,#f2f2f9 52.9%,#dedfef 58.3%,#757bb9 70.5%,#5d66ad 77.3%,#4f5ba8 92.3%,#4e5aa8 100%)"></i><i style="left:90px;background:linear-gradient(#f8f8fb 0%,#f2f2f9 54.4%,#dedeef 60.4%,#787ebb 72.9%,#6169af 79.9%,#5560aa 96.5%,#5560aa 100%)"></i><i style="left:92px;background:linear-gradient(#f8f8fb 0%,#f2f2f9 56.2%,#dedeef 62.5%,#7e84be 75.2%,#676eb1 82.5%,#5e67ad 100%)"></i><i style="left:94px;background:linear-gradient(#f8f8fb 0%,#f2f2f9 58.3%,#ddddee 65.1%,#878dc3 77.8%,#6e74b5 86.4%,#686fb2 100%)"></i><i style="left:96px;background:linear-gradient(#f8f8fb 0%,#f2f2f9 60.6%,#dedeef 67.4%,#959aca 79.9%,#7c82bd 89.5%,#787ebb 100%)"></i><i style="left:98px;background:linear-gradient(#f8f8fb 0%,#f2f2f9 63%,#dcdcee 70.8%,#a7abd3 81.4%,#9096c8 92.1%,#8e93c7 100%)"></i><i style="left:100px;background:linear-gradient(#f8f8fb 0%,#f2f2f9 65.8%,#d9daed 74.9%,#b2b6d9 85.3%,#a5a9d2 98.8%,#a5a9d2 100%)"></i><i style="left:102px;background:linear-gradient(#f8f8fb 0%,#f2f2f9 68.7%,#d6d7eb 80.4%,#bdc1de 91.3%,#b9bddc 100%)"></i><i style="left:104px;background:linear-gradient(#f8f8fb 0%,#f2f2f9 72.3%,#cdd0e7 96%,#cccfe6 100%)"></i><i style="left:106px;background:linear-gradient(#f8f8fb 0%,#f2f2f9 76.2%,#dcddee 100%)"></i><i style="left:108px;background:linear-gradient(#f8f8fb 0%,#f2f2f9 80.9%,#e6e6f3 100%)"></i><i style="left:110px;background:linear-gradient(#f8f8fb 0%,#f2f2f9 85.8%,#ebebf6 100%)"></i><i style="left:112px;background:linear-gradient(#f8f8fb 0%,#f2f2f9 88.7%,#efeff7 100%)"></i><i style="left:114px;background:linear-gradient(#f8f8fb 0%,#f2f2f9 89.7%,#f1f1f8 100%)"></i><i style="left:116px;background:linear-gradient(#f8f8fb 0%,#f2f2f9 89.7%,#f2f2f9 100%)"></i><i style="left:118px;background:linear-gradient(#f8f8fb 0%,#f2f2f9 89.7%,#f2f2f9 100%)"></i><i style="left:120px;background:linear-gradient(#f8f8fb 0%,#f2f2f9 90%,#f1f1f8 100%)"></i><i style="left:122px;background:linear-gradient(#f8f8fb 0%,#f2f2f9 89%,#ededf6 100%)"></i><i style="left:124px;background:linear-gradient(#f8f8fb 0%,#f2f2f9 86.9%,#e5e5f3 100%)"></i><i style="left:126px;background:linear-gradient(#f8f8fb 0%,#f1f1f9 83.8%,#d9daec 100%)"></i><i style="left:128px;background:linear-gradient(#f8f8fb 0%,#f1f1f8 80.1%,#ddddee 90.5%,#c7cae4 98.6%,#c7cae3 100%)"></i><i style="left:130px;background:linear-gradient(#f8f8fb 0%,#f1f1f8 76%,#ddddee 86.1%,#b7bbdc 95.7%,#b5b9da 100%)"></i><i style="left:132px;background:linear-gradient(#f8f8fb 0%,#f1f1f8 71.8%,#dadbed 82.2%,#a8acd4 93.9%,#a2a7d1 100%)"></i><i style="left:134px;background:linear-gradient(#f8f8fb 0%,#f1f1f8 67.9%,#d9daed 77.5%,#969bcb 92.6%,#8f95c7 100%)"></i><i style="left:136px;background:linear-gradient(#f8f8fb 0%,#f1f1f8 65.1%,#d7d8eb 73.6%,#888ec3 90%,#7d83bd 99.4%,#7d83bd 100%)"></i><i style="left:138px;background:linear-gradient(#f8f8fb 0%,#f1f1f8 62.7%,#d8d9ec 69.5%,#8288c0 85.3%,#6f75b5 94.4%,#6e74b5 100%)"></i><i style="left:140px;background:linear-gradient(#f8f8fb 0%,#f1f1f8 60.6%,#dddeef 65.8%,#878dc3 78.8%,#6b72b3 86.9%,#646bb0 100%)"></i><i style="left:142px;background:linear-gradient(#f8f8fb 0%,#f1f1f8 59.1%,#ddddee 63.8%,#8b91c5 73.9%,#6b71b3 80.9%,#5c65ad 94.9%,#5b65ac 100%)"></i><i style="left:144px;background:linear-gradient(#f8f8fb 0%,#f0f0f8 57%,#e1e1f0 61.4%,#8288c1 71.8%,#666db1 78.1%,#545faa 92.3%,#545faa 100%)"></i><i style="left:146px;background:linear-gradient(#f8f8fb 0%,#f0f0f8 54.9%,#e2e2f1 59.6%,#7d83be 69.7%,#646bb0 75.2%,#505ca9 88.2%,#4e5aa8 100%)"></i><i style="left:148px;background:linear-gradient(#f8f8fb 0%,#f0f0f8 53.1%,#e0e0f0 58.1%,#787ebb 68.2%,#6068ae 73.6%,#4c58a8 86.4%,#4956a7 100%)"></i><i style="left:150px;background:linear-gradient(#f8f8fb 0%,#f0f0f8 51%,#dcdcee 56.5%,#767cb9 66.4%,#5e67ad 71.8%,#4855a7 85.1%,#4552a6 100%)"></i><i style="left:152px;background:linear-gradient(#f8f8fb 0%,#f0f0f8 49%,#dadbed 54.4%,#7278b7 65.1%,#535faa 73.4%,#4351a6 89.5%,#4351a5 100%)"></i><i style="left:154px;background:linear-gradient(#f8f8fb 0%,#f1f1f8 41.4%,#ededf7 48.4%,#d2d4e9 53.1%,#7177b6 63.2%,#505ca9 72.6%,#4250a5 87.4%,#414fa5 100%)"></i><i style="left:156px;background:linear-gradient(#f8f8fb 0%,#f1f1f8 40.6%,#ededf6 47.1%,#cacde5 51.8%,#7076b6 61.4%,#4f5ba9 71%,#414fa5 85.3%,#404ea4 100%)"></i><i style="left:158px;background:linear-gradient(#f8f8fb 0%,#f1f1f8 40.1%,#ededf6 46.1%,#c5c8e2 50.5%,#7278b7 59.4%,#515da9 68.2%,#4250a5 81.7%,#3f4da4 100%)"></i><i style="left:160px;background:linear-gradient(#f8f8fb 0%,#f1f1f8 39.6%,#ececf6 45.6%,#767cba 57%,#5d66ad 62.5%,#4351a6 75.7%,#3f4da3 100%)"></i><i style="left:162px;background:linear-gradient(#f8f8fb 0%,#f1f1f8 39.4%,#ececf6 45.1%,#8187c0 54.4%,#656cb0 58.8%,#4755a7 70.5%,#3e4ca3 100%)"></i><i style="left:164px;background:linear-gradient(#f8f8fb 0%,#f1f1f8 38.8%,#ebebf5 44.8%,#8f95c8 52.1%,#6a70b2 56.8%,#4a57a7 67.9%,#3e4ca3 89.5%,#3e4ca3 100%)"></i><i style="left:166px;background:linear-gradient(#f8f8fb 0%,#f1f1f8 38.6%,#ededf6 44.3%,#c9cce5 46.9%,#7c82bd 53.4%,#636baf 57.8%,#4553a6 70.3%,#3d4ba3 100%)"></i><i style="left:168px;background:linear-gradient(#f8f8fb 0%,#f1f1f8 38.3%,#ededf6 44%,#c8cbe4 46.6%,#7e84be 52.9%,#646bb0 57.3%,#4553a6 69.5%,#3d4ba3 100%)"></i><i style="left:170px;background:linear-gradient(#f8f8fb 0%,#f1f1f8 38.1%,#ededf6 43.8%,#cdcfe6 46.1%,#888ec3 51.6%,#686eb1 56%,#4855a7 67.4%,#3d4ba2 93.9%,#3d4ba2 100%)"></i><i style="left:172px;background:linear-gradient(#f8f8fb 0%,#f1f1f8 38.1%,#ebebf6 43.8%,#c5c8e3 46.4%,#7c82bd 52.6%,#636baf 57%,#4553a6 69.5%,#3d4ba3 100%)"></i><i style="left:174px;background:linear-gradient(#f8f8fb 0%,#f1f1f8 38.3%,#ececf6 43.5%,#c9cce4 46.1%,#7f85bf 52.3%,#646cb0 56.8%,#4654a6 69%,#3d4ba3 100%)"></i><i style="left:176px;background:linear-gradient(#f8f8fb 0%,#f1f1f8 38.6%,#e9e9f4 43.8%,#888ec4 51.6%,#676eb1 56.2%,#4956a7 67.9%,#3e4ca3 94.2%,#3e4ca3 100%)"></i><i style="left:178px;background:linear-gradient(#f8f8fb 0%,#f1f1f8 38.8%,#e7e7f4 44%,#8288c0 52.6%,#656cb0 57.3%,#4755a7 69.5%,#3e4ca3 100%)"></i><i style="left:180px;background:linear-gradient(#f8f8fb 0%,#f1f1f8 39.4%,#e6e6f3 44.5%,#8086bf 53.4%,#656cb0 58.1%,#4755a7 70.5%,#3f4da3 100%)"></i><i style="left:182px;background:linear-gradient(#f8f8fb 0%,#f1f1f8 40.1%,#e4e4f2 45.3%,#8288c0 53.9%,#666db0 58.6%,#4956a7 70.8%,#404ea4 99.1%,#404ea4 100%)"></i><i style="left:184px;background:linear-gradient(#f8f8fb 0%,#f1f1f8 40.9%,#e3e3f2 46.1%,#848ac1 54.4%,#666db0 59.4%,#4956a7 71.8%,#404ea4 100%)"></i><i style="left:186px;background:linear-gradient(#f8f8fb 0%,#f1f1f8 41.4%,#e3e3f1 46.9%,#898fc4 54.7%,#686fb1 59.6%,#4b58a8 71.8%,#414fa5 92.9%,#414fa4 100%)"></i><i style="left:188px;background:linear-gradient(#f8f8fb 0%,#f1f1f8 42.2%,#e4e4f2 47.4%,#8288c0 56.5%,#656db0 61.4%,#4a57a7 74.2%,#4250a5 100%)"></i><i style="left:190px;background:linear-gradient(#f8f8fb 0%,#f1f1f8 43%,#e5e5f3 47.9%,#7a80bc 58.6%,#626aaf 63.8%,#4856a7 77.3%,#4250a5 100%)"></i><i style="left:192px;background:linear-gradient(#f8f8fb 0%,#f1f1f8 44%,#e5e5f3 48.7%,#777dba 60.4%,#5f68ae 66.1%,#4755a7 80.9%,#4351a5 100%)"></i><i style="left:194px;background:linear-gradient(#f8f8fb 0%,#f1f1f8 45.3%,#e2e2f1 50.3%,#777dba 61.9%,#5f68ae 67.9%,#4855a7 83.2%,#4452a6 100%)"></i><i style="left:196px;background:linear-gradient(#f8f8fb 0%,#f1f1f8 46.6%,#ddddee 52.3%,#797fbb 63.2%,#6169ae 69.2%,#4a57a7 84%,#4553a6 100%)"></i><i style="left:198px;background:linear-gradient(#f8f8fb 0%,#f1f1f9 47.7%,#ddddee 53.9%,#7d83be 64.3%,#646bb0 70%,#4c59a8 84.5%,#4754a7 100%)"></i><i style="left:200px;background:linear-gradient(#f8f8fb 0%,#f1f1f9 48.7%,#dcdcee 55.7%,#8b91c5 64%,#696fb2 70.3%,#4f5ba9 85.1%,#4956a7 100%)"></i><i style="left:202px;background:linear-gradient(#f8f8fb 0%,#f2f2f9 49.5%,#dedeef 56.8%,#a2a7d1 62.7%,#7278b7 70%,#5862ab 80.6%,#4b58a8 100%)"></i><i style="left:204px;background:linear-gradient(#f8f8fb 0%,#f1f1f9 50.3%,#e2e2f1 57.3%,#a7abd4 63.5%,#747ab8 71.8%,#5c66ad 81.4%,#4e5aa8 100%)"></i><i style="left:206px;background:linear-gradient(#f8f8fb 0%,#f2f2f9 50.5%,#e5e5f2 57.8%,#abafd5 64.5%,#757bb9 74.2%,#5e67ad 84.3%,#515ca9 100%)"></i><i style="left:208px;background:linear-gradient(#f8f8fb 0%,#f2f2f9 51%,#e7e7f3 58.3%,#abafd5 66.1%,#757bb9 76.8%,#5e67ad 87.9%,#545faa 100%)"></i><i style="left:210px;background:linear-gradient(#f8f8fb 0%,#f2f2f9 51.3%,#eaeaf5 58.6%,#acb0d6 67.4%,#757bb9 79.4%,#5f68ae 91%,#5863ab 100%)"></i><i style="left:212px;background:linear-gradient(#f8f8fb 0%,#f2f2f9 51.6%,#eaeaf5 59.1%,#adb1d7 68.2%,#767cb9 80.9%,#6169af 92.3%,#5c65ad 100%)"></i><i style="left:214px;background:linear-gradient(#f8f8fb 0%,#f1f1f9 51.8%,#ececf6 59.1%,#aeb2d7 68.4%,#777dba 81.2%,#636aaf 92.1%,#5d66ad 100%)"></i><i style="left:216px;background:linear-gradient(#f8f8fb 0%,#f1f1f9 51.8%,#ededf6 59.1%,#aeb2d7 67.9%,#777dba 79.9%,#626aaf 91%,#5c65ad 100%)"></i><i style="left:218px;background:linear-gradient(#f8f8fb 0%,#f1f1f8 52.1%,#ededf6 58.8%,#adb1d6 66.9%,#777dba 77.5%,#6169af 88.4%,#5963ac 100%)"></i><i style="left:220px;background:linear-gradient(#f8f8fb 0%,#f1f1f8 53.4%,#eaeaf5 58.6%,#abafd6 65.6%,#777dba 74.7%,#6069ae 84.5%,#5460aa 100%)"></i><i style="left:222px;background:linear-gradient(#f8f8fb 0%,#f0f0f8 54.4%,#e3e3f2 58.6%,#a9add4 64.3%,#757bb9 72.1%,#5e67ae 80.9%,#505ca9 99.6%,#505ca9 100%)"></i><i style="left:224px;background:linear-gradient(#f8f8fb 0%,#f0f0f8 53.1%,#e1e1f0 57.5%,#999fcd 64.3%,#7076b6 70.5%,#535faa 83.5%,#4b58a8 100%)"></i><i style="left:226px;background:linear-gradient(#f8f8fb 0%,#f0f0f8 51.8%,#dbdbed 56.5%,#848ac2 64.8%,#666db0 70.5%,#4d59a8 84.3%,#4754a7 100%)"></i><i style="left:228px;background:linear-gradient(#f8f8fb 0%,#f0f0f8 50.3%,#dbdced 54.7%,#7c82bd 63.8%,#636aaf 69%,#4a57a7 82.2%,#4351a6 100%)"></i><i style="left:230px;background:linear-gradient(#f8f8fb 0%,#f0f0f8 49.2%,#dadbed 53.1%,#777dba 62.5%,#5e67ae 67.9%,#4553a6 81.9%,#4250a5 100%)"></i><i style="left:232px;background:linear-gradient(#f8f8fb 0%,#f0f0f8 47.9%,#dddeef 51.3%,#787ebb 60.4%,#5f68ae 65.3%,#4553a6 78.3%,#404ea4 100%)"></i><i style="left:234px;background:linear-gradient(#f8f8fb 0%,#f0f0f8 46.6%,#ddddee 50%,#797fbb 58.6%,#6068ae 63.2%,#4452a6 75.7%,#3f4da4 100%)"></i><i style="left:236px;background:linear-gradient(#f8f8fb 0%,#f0f0f8 45.3%,#e0e0f0 48.4%,#7a80bc 56.8%,#6069ae 61.2%,#4452a6 72.9%,#3e4ca3 100%)"></i><i style="left:238px;background:linear-gradient(#f8f8fb 0%,#efeff8 44%,#dedeef 47.4%,#7a80bc 55.2%,#6169ae 59.4%,#4452a6 70.5%,#3c4aa2 100%)"></i><i style="left:240px;background:linear-gradient(#f8f8fb 0%,#f0f0f8 42.5%,#ddddee 46.1%,#777dba 53.9%,#5e67ad 58.3%,#4351a5 69.5%,#3b48a1 100%)"></i><i style="left:242px;background:linear-gradient(#f8f8fb 0%,#f0f0f8 41.2%,#dbdcee 44.8%,#767cb9 52.6%,#5c66ad 57%,#4250a5 67.7%,#39469f 100%)"></i><i style="left:244px;background:linear-gradient(#f8f8fb 0%,#efeff8 40.1%,#d9daec 43.5%,#767cb9 51%,#5c65ad 55.5%,#4250a5 65.6%,#37449d 100%)"></i><i style="left:246px;background:linear-gradient(#f8f8fb 0%,#efeff8 39.1%,#d8d9ec 42.2%,#747ab8 49.7%,#5761ab 54.9%,#414fa5 64.5%,#35419b 100%)"></i><i style="left:248px;background:linear-gradient(#f8f8fb 0%,#f0f0f8 34.2%,#ebebf5 39.1%,#ced0e7 41.7%,#747ab8 48.2%,#5862ab 52.9%,#414fa5 62.2%,#323d96 100%)"></i><i style="left:250px;background:linear-gradient(#f8f8fb 0%,#f0f0f8 33.1%,#ececf6 38.1%,#d1d3e8 40.4%,#787ebb 46.4%,#5e67ae 50%,#4250a5 59.1%,#2f398f 100%)"></i><i style="left:252px;background:linear-gradient(#f8f8fb 0%,#f0f0f8 32.3%,#ececf6 37.3%,#d3d4e9 39.4%,#787ebb 45.1%,#5f68ae 48.4%,#4351a5 57%,#2f388e 94.7%,#2c3589 100%)"></i><i style="left:254px;background:linear-gradient(#f8f8fb 0%,#f0f0f8 31.8%,#eaeaf5 36.8%,#cdcfe6 38.8%,#7b81bc 43.8%,#6169af 46.9%,#4351a6 55.2%,#2e388d 91%,#2a3180 100%)"></i><i style="left:256px;background:linear-gradient(#f8f8fb 0%,#f0f0f8 31.3%,#ececf6 36%,#d3d5ea 37.8%,#7c82bd 42.7%,#636aaf 45.6%,#4351a6 53.6%,#2e378d 87.9%,#282d77 100%)"></i><i style="left:258px;background:linear-gradient(#f8f8fb 0%,#f0f0f8 31%,#eaeaf5 35.7%,#cccee6 37.5%,#7b81bd 41.9%,#626aaf 44.8%,#4351a6 52.6%,#2e378c 85.3%,#26296f 100%)"></i><i style="left:260px;background:linear-gradient(#f8f8fb 0%,#f0f0f8 30.8%,#eaeaf5 35.2%,#d1d3e9 36.8%,#7d83be 41.2%,#646cb0 43.8%,#4452a6 51.3%,#2e368c 83.2%,#232668 100%)"></i><i style="left:262px;background:linear-gradient(#f8f8fb 0%,#f0f0f8 30.5%,#e9e9f4 34.9%,#cdcfe7 36.5%,#7d83be 40.6%,#646bb0 43.2%,#4452a6 50.8%,#2e368c 81.4%,#212462 100%)"></i><i style="left:264px;background:linear-gradient(#f8f8fb 0%,#f0f0f8 30.3%,#e8e8f4 34.7%,#cbcee5 36.2%,#7f85bf 40.1%,#656cb0 42.7%,#4452a6 50.3%,#2e368c 80.4%,#222463 97.8%,#20225f 100%)"></i><i style="left:266px;background:linear-gradient(#f8f8fb 0%,#f0f0f8 30.3%,#e8e8f4 34.4%,#cbcee6 36%,#7f85bf 39.9%,#656cb0 42.5%,#4452a6 50%,#2e378c 79.9%,#222464 97.3%,#20215d 100%)"></i><i style="left:268px;background:linear-gradient(#f8f8fb 0%,#f0f0f8 30.3%,#e6e6f3 34.4%,#7d83be 39.9%,#646cb0 42.5%,#4452a6 50%,#2e378c 80.1%,#222464 97.5%,#20225e 100%)"></i><i style="left:270px;background:linear-gradient(#f8f8fb 0%,#efeff8 30.5%,#e5e5f3 34.4%,#7e84be 39.9%,#656cb0 42.5%,#4452a6 50.3%,#2e378c 80.9%,#212362 100%)"></i><i style="left:272px;background:linear-gradient(#f8f8fb 0%,#f0f0f8 30.5%,#e6e6f3 34.4%,#7b81bd 40.4%,#636aaf 43.2%,#4351a6 51.3%,#2e378c 82.5%,#232667 100%)"></i><i style="left:274px;background:linear-gradient(#f8f8fb 0%,#f0f0f8 31%,#e4e4f2 34.7%,#7b81bd 40.9%,#636baf 43.8%,#4351a6 52.1%,#2e378d 84.5%,#25296e 100%)"></i><i style="left:276px;background:linear-gradient(#f8f8fb 0%,#f0f0f8 31.6%,#e5e5f2 34.9%,#777dba 41.9%,#5f68ae 45.3%,#4250a5 53.9%,#2e378d 87.1%,#282d76 100%)"></i><i style="left:278px;background:linear-gradient(#f8f8fb 0%,#f0f0f8 32.1%,#e4e4f2 35.5%,#747ab8 43.2%,#5762ab 47.9%,#414fa4 56.8%,#2e388d 90.5%,#2a307f 100%)"></i><i style="left:280px;background:linear-gradient(#f8f8fb 0%,#f0f0f8 32.9%,#e0e0f0 36.5%,#747ab8 44.3%,#5863ab 49%,#414fa5 58.1%,#2f388e 94.2%,#2c3488 100%)"></i><i style="left:282px;background:linear-gradient(#f8f8fb 0%,#f0f0f8 33.6%,#dedeef 37.5%,#757bb9 45.3%,#5b64ac 49.7%,#4250a5 59.4%,#2f398f 98.6%,#2f388f 100%)"></i><i style="left:284px;background:linear-gradient(#f8f8fb 0%,#f0f0f8 34.4%,#dedeef 38.6%,#767cba 46.4%,#5d66ad 50.5%,#4250a5 60.6%,#323d95 100%)"></i><i style="left:286px;background:linear-gradient(#f8f8fb 0%,#f0f0f8 34.9%,#dedeef 39.6%,#777dba 47.4%,#5f67ae 51.6%,#4351a5 62.2%,#34409a 100%)"></i><i style="left:288px;background:linear-gradient(#f8f8fb 0%,#f0f0f8 35.7%,#e0e0f0 40.4%,#787ebb 48.4%,#5f67ae 52.9%,#4351a5 64%,#37439d 100%)"></i><i style="left:290px;background:linear-gradient(#f8f8fb 0%,#f0f0f8 36.5%,#e1e1f1 41.2%,#7c82bd 49.2%,#626aaf 53.4%,#4452a6 64.8%,#39469f 100%)"></i><i style="left:292px;background:linear-gradient(#f8f8fb 0%,#f1f1f8 37.3%,#e2e2f1 41.9%,#7b81bc 50.5%,#626aaf 54.9%,#4452a6 67.1%,#3a48a0 100%)"></i><i style="left:294px;background:linear-gradient(#f8f8fb 0%,#f1f1f8 38.1%,#e2e2f1 42.7%,#787ebb 52.1%,#5f68ae 57%,#4351a6 70%,#3c4aa2 100%)"></i><i style="left:296px;background:linear-gradient(#f8f8fb 0%,#f1f1f8 39.1%,#e3e3f1 43.5%,#777dba 53.6%,#5f67ae 58.8%,#4351a6 72.3%,#3d4ba3 100%)"></i><i style="left:298px;background:linear-gradient(#f8f8fb 0%,#f1f1f8 40.1%,#e1e1f0 44.8%,#767cba 55.2%,#5e67ad 60.6%,#4351a6 74.9%,#3e4ca3 100%)"></i><i style="left:300px;background:linear-gradient(#f8f8fb 0%,#f1f1f8 41.2%,#dedeef 46.4%,#797fbb 56.2%,#6169af 61.4%,#4552a6 75.7%,#3f4da4 100%)"></i><i style="left:302px;background:linear-gradient(#f8f8fb 0%,#f1f1f8 41.9%,#dedeef 47.7%,#7c82bd 57.3%,#636aaf 62.5%,#4654a7 76.5%,#404ea4 100%)"></i><i style="left:304px;background:linear-gradient(#f8f8fb 0%,#f1f1f8 42.7%,#ddddee 49.2%,#9197c8 56%,#6b71b3 61.4%,#4c58a8 74.4%,#414fa4 93.9%,#414fa4 100%)"></i><i style="left:306px;background:linear-gradient(#f8f8fb 0%,#f1f1f8 43.2%,#e1e1f0 49.7%,#a4a8d2 54.9%,#7278b7 61.4%,#525da9 72.3%,#4250a5 90%,#414fa5 100%)"></i><i style="left:308px;background:linear-gradient(#f8f8fb 0%,#f1f1f8 43.5%,#e4e4f2 50%,#a9add4 55.2%,#7379b8 62.2%,#5762ab 71%,#4351a5 89.5%,#4250a5 100%)"></i><i style="left:310px;background:linear-gradient(#f8f8fb 0%,#f1f1f8 43.8%,#e8e8f4 50%,#a7abd4 56%,#7379b7 63.2%,#5660aa 73.1%,#4351a5 92.3%,#4250a5 100%)"></i><i style="left:312px;background:linear-gradient(#f8f8fb 0%,#f1f1f8 44%,#e8e8f4 50.3%,#aaaed5 56.2%,#7379b8 64%,#5661ab 73.9%,#4351a5 93.1%,#4250a5 100%)"></i><i style="left:314px;background:linear-gradient(#f8f8fb 0%,#f1f1f8 44%,#eaeaf5 50.3%,#a9add4 56.8%,#7278b7 64.8%,#5560aa 75.7%,#4351a5 95.2%,#4250a5 100%)"></i><i style="left:316px;background:linear-gradient(#f8f8fb 0%,#f1f1f8 44%,#ebebf6 50.3%,#a7abd4 57.3%,#7278b7 65.3%,#545faa 76.5%,#4351a5 96%,#4250a5 100%)"></i><i style="left:318px;background:linear-gradient(#f8f8fb 0%,#f1f1f8 44%,#eaeaf5 50.5%,#abafd6 57%,#747ab8 65.3%,#5963ac 74.4%,#4351a6 93.6%,#4250a5 100%)"></i><i style="left:320px;background:linear-gradient(#f8f8fb 0%,#f1f1f8 44%,#ededf6 50.3%,#a7abd3 57.5%,#7278b7 65.6%,#535faa 77.3%,#4250a5 96%,#4250a5 100%)"></i><i style="left:322px;background:linear-gradient(#f8f8fb 0%,#f1f1f8 44%,#ececf6 50.3%,#a9add5 57%,#7379b8 65.1%,#5560aa 75.5%,#4250a5 94.2%,#4250a5 100%)"></i><i style="left:324px;background:linear-gradient(#f8f8fb 0%,#f0f0f8 49%,#d6d7eb 52.1%,#a3a7d1 57.3%,#7177b6 64.8%,#4f5ba9 78.6%,#4250a5 96.2%,#414fa5 100%)"></i><i style="left:326px;background:linear-gradient(#f8f8fb 0%,#f1f1f8 41.7%,#ebebf6 49.2%,#9ca1ce 57.3%,#6f75b5 64%,#4e5aa8 77.8%,#414fa5 95.7%,#414fa4 100%)"></i><i style="left:328px;background:linear-gradient(#f8f8fb 0%,#f1f1f8 40.4%,#ececf6 47.9%,#d4d5ea 50.8%,#9ca1ce 56.2%,#6f75b5 62.7%,#4d59a8 76.2%,#404ea4 94.2%,#404ea4 100%)"></i><i style="left:330px;background:linear-gradient(#f8f8fb 0%,#f1f1f8 39.6%,#ececf6 46.6%,#d3d5ea 49.7%,#9298c9 56%,#6b71b3 61.9%,#4a57a8 75.7%,#3f4da4 98.3%,#3f4da4 100%)"></i><i style="left:332px;background:linear-gradient(#f8f8fb 0%,#f1f1f8 39.1%,#ececf6 45.6%,#cbcde5 49.2%,#7e84be 57%,#636baf 62.5%,#4553a6 77.3%,#3e4ca3 100%)"></i><i style="left:334px;background:linear-gradient(#f8f8fb 0%,#f1f1f8 38.6%,#ebebf6 44.8%,#c2c5e1 48.7%,#787ebb 56.2%,#5f68ae 61.9%,#4351a6 76.8%,#3d4ba2 100%)"></i><i style="left:336px;background:linear-gradient(#f8f8fb 0%,#f0f0f8 38.1%,#ececf6 44%,#c1c4e0 47.7%,#797fbb 54.7%,#6069ae 59.9%,#4351a6 73.6%,#3c4aa2 100%)"></i><i style="left:338px;background:linear-gradient(#f8f8fb 0%,#f0f0f8 37.5%,#ececf6 43.2%,#cacce5 46.1%,#7d83be 52.9%,#636baf 57.5%,#4452a6 70.5%,#3a48a0 100%)"></i><i style="left:340px;background:linear-gradient(#f8f8fb 0%,#f0f0f8 36.8%,#ececf6 42.5%,#d2d4e9 44.8%,#8c92c6 50.3%,#696fb2 54.7%,#4855a7 66.1%,#39479f 95.7%,#39469f 100%)"></i><i style="left:342px;background:linear-gradient(#f8f8fb 0%,#f0f0f8 35.7%,#ececf6 41.7%,#d2d4e9 44%,#8c92c6 49.2%,#686fb1 53.6%,#4754a7 64.8%,#38459e 97.3%,#37449d 100%)"></i><i style="left:344px;background:linear-gradient(#f8f8fb 0%,#f0f0f8 34.9%,#ececf6 40.9%,#d2d4e9 43.2%,#878dc3 48.7%,#676eb1 52.9%,#4653a6 63.8%,#36429c 100%)"></i><i style="left:346px;background:linear-gradient(#f8f8fb 0%,#f0f0f8 34.4%,#ebebf6 40.1%,#cccfe6 42.7%,#7f85bf 48.4%,#646cb0 52.3%,#4452a6 63.2%,#34409a 100%)"></i><i style="left:348px;background:linear-gradient(#f8f8fb 0%,#f0f0f8 33.9%,#ececf6 39.4%,#cbcee6 41.9%,#7d83be 47.7%,#636baf 51.6%,#4351a6 62.2%,#333e97 100%)"></i><i style="left:350px;background:linear-gradient(#f8f8fb 0%,#f0f0f8 33.6%,#ebebf6 38.8%,#cccee6 41.2%,#7c82bd 46.9%,#636baf 50.5%,#4452a6 60.9%,#323c95 100%)"></i><i style="left:352px;background:linear-gradient(#f8f8fb 0%,#f0f0f8 33.4%,#ececf6 38.3%,#cfd1e8 40.4%,#8086bf 45.8%,#656cb0 49.5%,#4452a6 59.6%,#313b92 100%)"></i><i style="left:354px;background:linear-gradient(#f8f8fb 0%,#f0f0f8 33.4%,#ebebf5 38.1%,#cccfe6 40.1%,#8086bf 45.3%,#646cb0 49%,#4452a6 59.1%,#303a90 100%)"></i><i style="left:356px;background:linear-gradient(#f8f8fb 0%,#f0f0f8 33.4%,#e9e9f4 38.1%,#c7cae3 40.1%,#7c82bd 45.3%,#646bb0 48.7%,#4351a6 58.8%,#2f398f 100%)"></i><i style="left:358px;background:linear-gradient(#f8f8fb 0%,#f0f0f8 33.4%,#e8e8f4 38.1%,#c5c8e3 40.1%,#7a80bc 45.3%,#626aaf 49%,#4351a6 59.1%,#2f398f 100%)"></i><i style="left:360px;background:linear-gradient(#f8f8fb 0%,#f0f0f8 33.6%,#e8e8f4 38.1%,#c7cae4 40.1%,#7c82bd 45.3%,#646bb0 48.7%,#4351a6 58.8%,#303990 100%)"></i><i style="left:362px;background:linear-gradient(#f8f8fb 0%,#f0f0f8 34.2%,#e6e6f3 38.3%,#7f85bf 45.3%,#646bb0 49%,#4452a6 59.1%,#303a92 100%)"></i><i style="left:364px;background:linear-gradient(#f8f8fb 0%,#f0f0f8 34.4%,#e4e4f2 38.8%,#7e84be 45.8%,#646bb0 49.5%,#4452a6 59.6%,#313c94 100%)"></i><i style="left:366px;background:linear-gradient(#f8f8fb 0%,#f0f0f8 34.9%,#e3e3f2 39.4%,#7f85bf 46.4%,#656cb0 50%,#4452a6 60.4%,#333e97 100%)"></i><i style="left:368px;background:linear-gradient(#f8f8fb 0%,#f0f0f8 35.5%,#e5e5f2 39.6%,#7c82bd 47.4%,#626aaf 51.3%,#4351a6 61.9%,#34409a 100%)"></i><i style="left:370px;background:linear-gradient(#f8f8fb 0%,#f0f0f8 36%,#e3e3f1 40.4%,#7a80bc 48.4%,#6169af 52.6%,#4351a6 63.5%,#36429c 100%)"></i><i style="left:372px;background:linear-gradient(#f8f8fb 0%,#f0f0f8 36.8%,#e4e4f2 40.9%,#787ebb 49.7%,#5f68ae 54.2%,#4351a5 65.6%,#37449d 100%)"></i><i style="left:374px;background:linear-gradient(#f8f8fb 0%,#f1f1f8 37.5%,#e4e4f2 41.7%,#767cba 51.3%,#5e67ad 56%,#4351a5 67.9%,#39469f 100%)"></i><i style="left:376px;background:linear-gradient(#f8f8fb 0%,#f1f1f8 38.6%,#e3e3f1 42.7%,#7379b8 53.1%,#5761ab 59.6%,#414fa5 72.1%,#3b48a1 100%)"></i><i style="left:378px;background:linear-gradient(#f8f8fb 0%,#f1f1f8 39.6%,#e0e1f0 44%,#747ab8 54.4%,#5a64ac 60.1%,#4250a5 73.1%,#3c4aa2 100%)"></i><i style="left:380px;background:linear-gradient(#f8f8fb 0%,#f1f1f8 40.6%,#dfdfef 45.3%,#757bb9 55.5%,#5c65ad 60.9%,#4351a5 74.2%,#3e4ca3 100%)"></i><i style="left:382px;background:linear-gradient(#f8f8fb 0%,#f1f1f8 41.2%,#dfdfef 46.1%,#767cb9 56%,#5e67ae 60.9%,#4351a6 74.4%,#3e4ca3 100%)"></i></div>
<svg width="1993" height="1042" viewBox="0 0 1993 1042">
<defs><clipPath id="clipA"><rect x="128.9" y="4.0" width="690.6" height="385.7"/></clipPath><clipPath id="clipB"><rect x="1180.7" y="4.0" width="691.2" height="385.7"/></clipPath><linearGradient id="gd" x1="0" y1="0" x2="0" y2="1"><stop offset="0.0000" stop-color="#6a1a1e"/><stop offset="0.0588" stop-color="#902025"/><stop offset="0.1176" stop-color="#cc2228"/><stop offset="0.1647" stop-color="#d84828"/><stop offset="0.2118" stop-color="#e88a30"/><stop offset="0.2588" stop-color="#f5e030"/><stop offset="0.2941" stop-color="#d8e040"/><stop offset="0.3294" stop-color="#b0d058"/><stop offset="0.3706" stop-color="#88c090"/><stop offset="0.4118" stop-color="#68c0e0"/><stop offset="0.4412" stop-color="#5080c0"/><stop offset="0.4906" stop-color="#4458a8"/><stop offset="0.6906" stop-color="#4050a2"/><stop offset="1.0000" stop-color="#3a459c"/></linearGradient><clipPath id="clipE"><rect x="1391.7" y="563.6" width="384.3" height="385.1"/></clipPath><linearGradient id="cbc" x1="0" y1="0" x2="0" y2="1"><stop offset="0.0000" stop-color="#6e1a1e"/><stop offset="0.0483" stop-color="#a02028"/><stop offset="0.0891" stop-color="#d02228"/><stop offset="0.1390" stop-color="#d4402a"/><stop offset="0.1903" stop-color="#d86428"/><stop offset="0.2402" stop-color="#e49030"/><stop offset="0.2915" stop-color="#f0b530"/><stop offset="0.3369" stop-color="#f5e830"/><stop offset="0.3927" stop-color="#dce23c"/><stop offset="0.4411" stop-color="#c0d450"/><stop offset="0.4940" stop-color="#a0c868"/><stop offset="0.5468" stop-color="#8cc488"/><stop offset="0.5952" stop-color="#78c0a0"/><stop offset="0.6375" stop-color="#70c0d0"/><stop offset="0.6752" stop-color="#68b8e8"/><stop offset="0.6964" stop-color="#5898d0"/><stop offset="0.7432" stop-color="#4870b8"/><stop offset="0.7976" stop-color="#4152a3"/><stop offset="0.8640" stop-color="#3a479c"/><stop offset="0.9396" stop-color="#303890"/><stop offset="1.0000" stop-color="#2a2c7c"/></linearGradient><linearGradient id="cbd" x1="0" y1="0" x2="0" y2="1"><stop offset="0.0000" stop-color="#6e1a1e"/><stop offset="0.0483" stop-color="#a02028"/><stop offset="0.0891" stop-color="#d02228"/><stop offset="0.1390" stop-color="#d4402a"/><stop offset="0.1903" stop-color="#d86428"/><stop offset="0.2402" stop-color="#e49030"/><stop offset="0.2915" stop-color="#f0b530"/><stop offset="0.3369" stop-color="#f5e830"/><stop offset="0.3927" stop-color="#dce23c"/><stop offset="0.4411" stop-color="#c0d450"/><stop offset="0.4940" stop-color="#a0c868"/><stop offset="0.5468" stop-color="#8cc488"/><stop offset="0.5952" stop-color="#78c0a0"/><stop offset="0.6375" stop-color="#70c0d0"/><stop offset="0.6752" stop-color="#68b8e8"/><stop offset="0.6964" stop-color="#5898d0"/><stop offset="0.7432" stop-color="#4870b8"/><stop offset="0.7976" stop-color="#4152a3"/><stop offset="0.8640" stop-color="#3a479c"/><stop offset="0.9396" stop-color="#303890"/><stop offset="1.0000" stop-color="#2a2c7c"/></linearGradient><linearGradient id="cbe" x1="0" y1="0" x2="0" y2="1"><stop offset="0.0000" stop-color="#c82828"/><stop offset="0.0085" stop-color="#d03030"/><stop offset="0.0114" stop-color="#f0c8c8"/><stop offset="0.0142" stop-color="#f8f8fb"/><stop offset="0.0332" stop-color="#f0f0f8"/><stop offset="0.0616" stop-color="#e0e0f0"/><stop offset="0.1090" stop-color="#c0c4e0"/><stop offset="0.1564" stop-color="#a8acd4"/><stop offset="0.2038" stop-color="#9096c8"/><stop offset="0.2512" stop-color="#7a80bc"/><stop offset="0.2986" stop-color="#6a70b2"/><stop offset="0.3934" stop-color="#5560aa"/><stop offset="0.4882" stop-color="#4452a6"/><stop offset="0.5829" stop-color="#3c4aa2"/><stop offset="0.6777" stop-color="#34409a"/><stop offset="0.7725" stop-color="#2c3488"/><stop offset="0.8673" stop-color="#262a70"/><stop offset="0.9621" stop-color="#1e1f58"/><stop offset="1.0000" stop-color="#1b1b4c"/></linearGradient></defs>
<rect x="128.9" y="4.0" width="690.6" height="385.7" fill="#ececec"/>
<line x1="128.9" y1="26.6" x2="819.5" y2="26.6" stroke="#b2b2b2" stroke-width="1" stroke-dasharray="3.4 1.6"/>
<line x1="128.9" y1="72.0" x2="819.5" y2="72.0" stroke="#b2b2b2" stroke-width="1" stroke-dasharray="3.4 1.6"/>
<line x1="128.9" y1="117.3" x2="819.5" y2="117.3" stroke="#b2b2b2" stroke-width="1" stroke-dasharray="3.4 1.6"/>
<line x1="128.9" y1="162.7" x2="819.5" y2="162.7" stroke="#b2b2b2" stroke-width="1" stroke-dasharray="3.4 1.6"/>
<line x1="128.9" y1="208.1" x2="819.5" y2="208.1" stroke="#b2b2b2" stroke-width="1" stroke-dasharray="3.4 1.6"/>
<line x1="128.9" y1="253.5" x2="819.5" y2="253.5" stroke="#b2b2b2" stroke-width="1" stroke-dasharray="3.4 1.6"/>
<line x1="128.9" y1="298.9" x2="819.5" y2="298.9" stroke="#b2b2b2" stroke-width="1" stroke-dasharray="3.4 1.6"/>
<line x1="128.9" y1="344.2" x2="819.5" y2="344.2" stroke="#b2b2b2" stroke-width="1" stroke-dasharray="3.4 1.6"/>
<line x1="128.9" y1="389.6" x2="819.5" y2="389.6" stroke="#b2b2b2" stroke-width="1" stroke-dasharray="3.4 1.6"/>
<line x1="316.2" y1="4.0" x2="316.2" y2="389.7" stroke="#b2b2b2" stroke-width="1" stroke-dasharray="3.4 1.6"/>
<line x1="503.5" y1="4.0" x2="503.5" y2="389.7" stroke="#b2b2b2" stroke-width="1" stroke-dasharray="3.4 1.6"/>
<line x1="690.7" y1="4.0" x2="690.7" y2="389.7" stroke="#b2b2b2" stroke-width="1" stroke-dasharray="3.4 1.6"/>
<g clip-path="url(#clipA)" fill="none" stroke-width="4.2" stroke-linejoin="round" stroke-linecap="round">
<path d="M128.9 208.9L129.7 205.8L130.4 202.7L131.2 199.6L132.0 196.5L132.7 193.4L133.5 190.3L134.3 187.2L135.0 184.1L135.8 181.1L136.6 178.0L137.4 175.0L138.1 172.0L138.9 169.1L139.7 166.1L140.4 163.2L141.2 160.3L142.0 157.4L142.7 154.6L143.5 151.8L144.3 149.1L145.0 146.3L145.8 143.6L146.6 141.0L147.3 138.4L148.1 135.8L148.9 133.3L149.6 130.8L150.4 128.4L151.2 126.0L151.9 123.7L152.7 121.4L153.5 119.2L154.3 117.1L155.0 115.0L155.8 112.9L156.6 110.9L157.3 109.0L158.1 107.1L158.9 105.3L159.6 103.5L160.4 101.8L161.2 100.2L161.9 98.6L162.7 97.1L163.5 95.7L164.2 94.3L165.0 93.0L165.8 91.8L166.5 90.7L167.3 89.6L168.1 88.5L168.8 87.6L169.6 86.7L170.4 85.9L171.2 85.1L171.9 84.5L172.7 83.9L173.5 83.3L174.2 82.9L175.0 82.5L175.8 82.1L176.5 81.9L177.3 81.7L178.1 81.6L178.8 81.6L179.6 81.6L180.4 81.7L181.1 81.8L181.9 82.1L182.7 82.4L183.4 82.7L184.2 83.1L185.0 83.6L185.7 84.2L186.5 84.8L187.3 85.5L188.1 86.2L188.8 87.0L189.6 87.9L190.4 88.8L191.1 89.8L191.9 90.8L192.7 91.9L193.4 93.1L194.2 94.3L195.0 95.5L195.7 96.8L196.5 98.2L197.3 99.6L198.0 101.0L198.8 102.5L199.6 104.0L200.3 105.6L201.1 107.2L201.9 108.8L202.6 110.5L203.4 112.2L204.2 114.0L205.0 115.8L205.7 117.6L206.5 119.4L207.3 121.3L208.0 123.2L208.8 125.1L209.6 127.0L210.3 128.9L211.1 130.9L211.9 132.9L212.6 134.9L213.4 136.9L214.2 138.9L214.9 140.9L215.7 143.0L216.5 145.0L217.2 147.0L218.0 149.1L218.8 151.1L219.5 153.1L220.3 155.2L221.1 157.2L221.9 159.2L222.6 161.2L223.4 163.2L224.2 165.2L224.9 167.1L225.7 169.0L226.5 171.0L227.2 172.9L228.0 174.7L228.8 176.6L229.5 178.4L230.3 180.2L231.1 181.9L231.8 183.7L232.6 185.3L233.4 187.0L234.1 188.6L234.9 190.2L235.7 191.7L236.4 193.2L237.2 194.7L238.0 196.1L238.8 197.5L239.5 198.8L240.3 200.1L241.1 201.3L241.8 202.5L242.6 203.6L243.4 204.6L244.1 205.7L244.9 206.6L245.7 207.5L246.4 208.3L247.2 209.1L248.0 209.9L248.7 210.5L249.5 211.1L250.3 211.7L251.0 212.2L251.8 212.6L252.6 212.9L253.3 213.2L254.1 213.5L254.9 213.6L255.7 213.7L256.4 213.8L257.2 213.7L258.0 213.6L258.7 213.5L259.5 213.3L260.3 213.0L261.0 212.6L261.8 212.2L262.6 211.7L263.3 211.1L264.1 210.5L264.9 209.9L265.6 209.1L266.4 208.3L267.2 207.4L267.9 206.5L268.7 205.5L269.5 204.4L270.2 203.3L271.0 202.1L271.8 200.9L272.6 199.6L273.3 198.2L274.1 196.8L274.9 195.4L275.6 193.8L276.4 192.3L277.2 190.6L277.9 188.9L278.7 187.2L279.5 185.4L280.2 183.6L281.0 181.7L281.8 179.8L282.5 177.8L283.3 175.8L284.1 173.8L284.8 171.7L285.6 169.6L286.4 167.4L287.1 165.2L287.9 163.0L288.7 160.7L289.5 158.4L290.2 156.1L291.0 153.8L291.8 151.4L292.5 149.0L293.3 146.6L294.1 144.2L294.8 141.7L295.6 139.3L296.4 136.8L297.1 134.3L297.9 131.8L298.7 129.3L299.4 126.8L300.2 124.3L301.0 121.8L301.7 119.3L302.5 116.8L303.3 114.2L304.0 111.7L304.8 109.3L305.6 106.8L306.4 104.3L307.1 101.9L307.9 99.4L308.7 97.0L309.4 94.6L310.2 92.2L311.0 89.9L311.7 87.6L312.5 85.3L313.3 83.0L314.0 80.7L314.8 78.5L315.6 76.4L316.3 74.2L317.1 72.2L317.9 70.1L318.6 68.1L319.4 66.1L320.2 64.2L320.9 62.3L321.7 60.5L322.5 58.7L323.3 57.0L324.0 55.3L324.8 53.7L325.6 52.2L326.3 50.7L327.1 49.2L327.9 47.8L328.6 46.5L329.4 45.3L330.2 44.1L330.9 42.9L331.7 41.9L332.5 40.9L333.2 39.9L334.0 39.1L334.8 38.3L335.5 37.5L336.3 36.9L337.1 36.3L337.8 35.8L338.6 35.4L339.4 35.0L340.2 34.7L340.9 34.5L341.7 34.3L342.5 34.3L343.2 34.3L344.0 34.4L344.8 34.5L345.5 34.8L346.3 35.1L347.1 35.4L347.8 35.9L348.6 36.4L349.4 37.0L350.1 37.7L350.9 38.5L351.7 39.3L352.4 40.2L353.2 41.2L354.0 42.3L354.7 43.4L355.5 44.6L356.3 45.8L357.1 47.2L357.8 48.6L358.6 50.0L359.4 51.6L360.1 53.2L360.9 54.8L361.7 56.6L362.4 58.4L363.2 60.2L364.0 62.1L364.7 64.1L365.5 66.1L366.3 68.2L367.0 70.4L367.8 72.6L368.6 74.8L369.3 77.1L370.1 79.5L370.9 81.9L371.6 84.3L372.4 86.8L373.2 89.3L374.0 91.9L374.7 94.5L375.5 97.2L376.3 99.9L377.0 102.6L377.8 105.3L378.6 108.1L379.3 110.9L380.1 113.8L380.9 116.6L381.6 119.5L382.4 122.4L383.2 125.3L383.9 128.3L384.7 131.2L385.5 134.2L386.2 137.1L387.0 140.1L387.8 143.1L388.5 146.1L389.3 149.1L390.1 152.1L390.9 155.1L391.6 158.1L392.4 161.1L393.2 164.1L393.9 167.0L394.7 170.0L395.5 172.9L396.2 175.8L397.0 178.7L397.8 181.6L398.5 184.5L399.3 187.3L400.1 190.2L400.8 192.9L401.6 195.7L402.4 198.4L403.1 201.1L403.9 203.8L404.7 206.4L405.4 209.0L406.2 211.6L407.0 214.1L407.8 216.5L408.5 219.0L409.3 221.3L410.1 223.7L410.8 225.9L411.6 228.2L412.4 230.3L413.1 232.5L413.9 234.5L414.7 236.5L415.4 238.5L416.2 240.4L417.0 242.2L417.7 244.0L418.5 245.7L419.3 247.4L420.0 249.0L420.8 250.5L421.6 252.0L422.3 253.4L423.1 254.7L423.9 256.0L424.7 257.2L425.4 258.4L426.2 259.4L427.0 260.4L427.7 261.4L428.5 262.2L429.3 263.0L430.0 263.7L430.8 264.4L431.6 265.0L432.3 265.5L433.1 265.9L433.9 266.3L434.6 266.6L435.4 266.9L436.2 267.0L436.9 267.1L437.7 267.2L438.5 267.1L439.2 267.0L440.0 266.8L440.8 266.6L441.6 266.3L442.3 265.9L443.1 265.5L443.9 265.0L444.6 264.5L445.4 263.8L446.2 263.2L446.9 262.4L447.7 261.6L448.5 260.8L449.2 259.9L450.0 258.9L450.8 257.9L451.5 256.8L452.3 255.7L453.1 254.5L453.8 253.3L454.6 252.0L455.4 250.7L456.1 249.3L456.9 247.9L457.7 246.5L458.5 245.0L459.2 243.5L460.0 241.9L460.8 240.3L461.5 238.7L462.3 237.1L463.1 235.4L463.8 233.7L464.6 231.9L465.4 230.2L466.1 228.4L466.9 226.6L467.7 224.7L468.4 222.9L469.2 221.0L470.0 219.2L470.7 217.3L471.5 215.4L472.3 213.5L473.0 211.6L473.8 209.7L474.6 207.8L475.4 205.9L476.1 204.0L476.9 202.1L477.7 200.2L478.4 198.3L479.2 196.5L480.0 194.6L480.7 192.8L481.5 190.9L482.3 189.1L483.0 187.4L483.8 185.6L484.6 183.8L485.3 182.1L486.1 180.4L486.9 178.8L487.6 177.2L488.4 175.6L489.2 174.0L489.9 172.5L490.7 171.0L491.5 169.5L492.3 168.1L493.0 166.8L493.8 165.4L494.6 164.2L495.3 162.9L496.1 161.7L496.9 160.6L497.6 159.5L498.4 158.5L499.2 157.5L499.9 156.6L500.7 155.7L501.5 154.9L502.2 154.2L503.0 153.5L503.8 152.8L504.5 152.3L505.3 151.8L506.1 151.3L506.8 150.9L507.6 150.6L508.4 150.4L509.2 150.2L509.9 150.0L510.7 150.0L511.5 150.0L512.2 150.1L513.0 150.2L513.8 150.4L514.5 150.7L515.3 151.1L516.1 151.5L516.8 152.0L517.6 152.5L518.4 153.1L519.1 153.8L519.9 154.6L520.7 155.4L521.4 156.3L522.2 157.3L523.0 158.3L523.7 159.4L524.5 160.6L525.3 161.8L526.1 163.1L526.8 164.5L527.6 165.9L528.4 167.4L529.1 169.0L529.9 170.6L530.7 172.3L531.4 174.0L532.2 175.8L533.0 177.7L533.7 179.6L534.5 181.6L535.3 183.6L536.0 185.7L536.8 187.8L537.6 190.0L538.3 192.2L539.1 194.5L539.9 196.8L540.6 199.2L541.4 201.6L542.2 204.1L543.0 206.6L543.7 209.1L544.5 211.7L545.3 214.3L546.0 217.0L546.8 219.7L547.6 222.4L548.3 225.2L549.1 227.9L549.9 230.7L550.6 233.6L551.4 236.4L552.2 239.3L552.9 242.2L553.7 245.1L554.5 248.0L555.2 250.9L556.0 253.9L556.8 256.8L557.5 259.8L558.3 262.8L559.1 265.7L559.9 268.7L560.6 271.7L561.4 274.6L562.2 277.6L562.9 280.6L563.7 283.5L564.5 286.5L565.2 289.4L566.0 292.3L566.8 295.2L567.5 298.1L568.3 300.9L569.1 303.7L569.8 306.6L570.6 309.3L571.4 312.1L572.1 314.8L572.9 317.5L573.7 320.2L574.4 322.8L575.2 325.4L576.0 327.9L576.8 330.4L577.5 332.9L578.3 335.3L579.1 337.7L579.8 340.0L580.6 342.3L581.4 344.6L582.1 346.7L582.9 348.9L583.7 350.9L584.4 353.0L585.2 354.9L586.0 356.8L586.7 358.7L587.5 360.4L588.3 362.2L589.0 363.8L589.8 365.4L590.6 366.9L591.3 368.4L592.1 369.8L592.9 371.1L593.7 372.4L594.4 373.6L595.2 374.7L596.0 375.7L596.7 376.7L597.5 377.6L598.3 378.5L599.0 379.2L599.8 379.9L600.6 380.5L601.3 381.0L602.1 381.5L602.9 381.9L603.6 382.2L604.4 382.5L605.2 382.6L605.9 382.7L606.7 382.7L607.5 382.7L608.2 382.5L609.0 382.3L609.8 382.1L610.6 381.7L611.3 381.3L612.1 380.8L612.9 380.2L613.6 379.6L614.4 378.9L615.2 378.1L615.9 377.2L616.7 376.3L617.5 375.3L618.2 374.3L619.0 373.2L619.8 372.0L620.5 370.7L621.3 369.4L622.1 368.1L622.8 366.6L623.6 365.1L624.4 363.6L625.1 362.0L625.9 360.3L626.7 358.6L627.5 356.9L628.2 355.1L629.0 353.2L629.8 351.3L630.5 349.3L631.3 347.3L632.1 345.3L632.8 343.2L633.6 341.1L634.4 338.9L635.1 336.7L635.9 334.5L636.7 332.2L637.4 329.9L638.2 327.6L639.0 325.2L639.7 322.9L640.5 320.5L641.3 318.0L642.0 315.6L642.8 313.1L643.6 310.7L644.4 308.2L645.1 305.7L645.9 303.2L646.7 300.6L647.4 298.1L648.2 295.6L649.0 293.1L649.7 290.5L650.5 288.0L651.3 285.5L652.0 283.0L652.8 280.5L653.6 278.0L654.3 275.5L655.1 273.0L655.9 270.6L656.6 268.2L657.4 265.7L658.2 263.3L658.9 261.0L659.7 258.6L660.5 256.3L661.3 254.0L662.0 251.8L662.8 249.5L663.6 247.4L664.3 245.2L665.1 243.1L665.9 241.0L666.6 239.0L667.4 237.0L668.2 235.0L668.9 233.1L669.7 231.2L670.5 229.4L671.2 227.7L672.0 225.9L672.8 224.3L673.5 222.7L674.3 221.1L675.1 219.6L675.8 218.2L676.6 216.8L677.4 215.4L678.2 214.2L678.9 213.0L679.7 211.8L680.5 210.7L681.2 209.7L682.0 208.7L682.8 207.8L683.5 207.0L684.3 206.2L685.1 205.5L685.8 204.9L686.6 204.3L687.4 203.8L688.1 203.3L688.9 203.0L689.7 202.6L690.4 202.4L691.2 202.2L692.0 202.1L692.7 202.1L693.5 202.1L694.3 202.2L695.1 202.3L695.8 202.5L696.6 202.8L697.4 203.2L698.1 203.6L698.9 204.1L699.7 204.6L700.4 205.2L701.2 205.9L702.0 206.6L702.7 207.4L703.5 208.2L704.3 209.1L705.0 210.1L705.8 211.1L706.6 212.2L707.3 213.3L708.1 214.5L708.9 215.7L709.6 217.0L710.4 218.3L711.2 219.7L712.0 221.1L712.7 222.6L713.5 224.1L714.3 225.7L715.0 227.3L715.8 228.9L716.6 230.6L717.3 232.3L718.1 234.0L718.9 235.8L719.6 237.6L720.4 239.5L721.2 241.4L721.9 243.2L722.7 245.2L723.5 247.1L724.2 249.1L725.0 251.1L725.8 253.1L726.5 255.1L727.3 257.1L728.1 259.1L728.9 261.2L729.6 263.2L730.4 265.3L731.2 267.4L731.9 269.4L732.7 271.5L733.5 273.6L734.2 275.6L735.0 277.7L735.8 279.7L736.5 281.8L737.3 283.8L738.1 285.8L738.8 287.8L739.6 289.8L740.4 291.7L741.1 293.7L741.9 295.6L742.7 297.5L743.4 299.3L744.2 301.1L745.0 302.9L745.8 304.7L746.5 306.4L747.3 308.1L748.1 309.8L748.8 311.4L749.6 313.0L750.4 314.5L751.1 316.0L751.9 317.5L752.7 318.9L753.4 320.2L754.2 321.5L755.0 322.8L755.7 324.0L756.5 325.1L757.3 326.2L758.0 327.2L758.8 328.2L759.6 329.1L760.3 330.0L761.1 330.8L761.9 331.5L762.7 332.2L763.4 332.8L764.2 333.3L765.0 333.8L765.7 334.2L766.5 334.6L767.3 334.8L768.0 335.1L768.8 335.2L769.6 335.3L770.3 335.3L771.1 335.2L771.9 335.0L772.6 334.8L773.4 334.5L774.2 334.2L774.9 333.8L775.7 333.3L776.5 332.7L777.2 332.1L778.0 331.3L778.8 330.6L779.6 329.7L780.3 328.8L781.1 327.8L781.9 326.7L782.6 325.6L783.4 324.4L784.2 323.1L784.9 321.8L785.7 320.4L786.5 318.9L787.2 317.3L788.0 315.7L788.8 314.1L789.5 312.3L790.3 310.5L791.1 308.7L791.8 306.8L792.6 304.8L793.4 302.7L794.1 300.6L794.9 298.5L795.7 296.3L796.5 294.0L797.2 291.7L798.0 289.3L798.8 286.9L799.5 284.5L800.3 282.0L801.1 279.4L801.8 276.8L802.6 274.2L803.4 271.5L804.1 268.8L804.9 266.0L805.7 263.2L806.4 260.4L807.2 257.5L808.0 254.7L808.7 251.7L809.5 248.8L810.3 245.8L811.0 242.8L811.8 239.8L812.6 236.8L813.4 233.7L814.1 230.7L814.9 227.6L815.7 224.5L816.4 221.4L817.2 218.3L818.0 215.2L818.7 212.1L819.5 208.9" stroke="#4576b6"/>
<path d="M129.2 100.9L129.7 102.4L130.2 104.2L130.7 106.2L131.2 108.2L131.7 110.1L132.2 111.9L132.7 113.4L133.2 114.7L133.7 115.7L134.2 116.5L134.7 117.0L135.2 117.3L135.7 117.4L136.2 117.3L136.7 117.0L137.2 116.7L137.7 116.2L138.2 115.6L138.7 114.9L139.2 114.1L139.7 113.3L140.2 112.5L140.7 111.7L141.2 110.8L141.7 109.9L142.2 109.1L142.7 108.3L143.2 107.6L143.7 107.0L144.2 106.4L144.7 105.9L145.2 105.6L145.7 105.4L146.2 105.3L146.7 105.3L147.2 105.4L147.7 105.7L148.2 106.0L148.7 106.4L149.2 106.9L149.7 107.5L150.2 108.2L150.7 108.9L151.2 109.7L151.7 110.7L152.2 111.8L152.7 113.0L153.2 114.4L153.7 115.9L154.2 117.6L154.7 119.4L155.2 121.4L155.7 123.6L156.2 125.8L156.7 128.1L157.2 130.4L157.7 132.7L158.2 135.0L158.7 137.2L159.2 139.3L159.7 141.2L160.2 143.0L160.7 144.7L161.2 146.2L161.7 147.6L162.2 148.9L162.7 150.2L163.2 151.4L163.7 152.6L164.2 153.8L164.7 155.0L165.2 156.2L165.7 157.5L166.2 158.9L166.7 160.4L167.2 161.9L167.7 163.5L168.2 165.1L168.7 166.8L169.2 168.6L169.7 170.3L170.2 172.1L170.7 173.9L171.2 175.8L171.7 177.7L172.2 179.6L172.7 181.5L173.2 183.5L173.7 185.6L174.2 187.6L174.7 189.8L175.2 191.9L175.7 194.2L176.2 196.4L176.7 198.7L177.2 201.0L177.7 203.4L178.2 205.8L178.7 208.2L179.2 210.7L179.7 213.2L180.2 215.7L180.7 218.4L181.2 221.1L181.7 223.9L182.2 226.7L182.7 229.5L183.2 232.2L183.7 234.7L184.2 237.1L184.7 239.2L185.2 241.1L185.7 242.9L186.2 244.6L186.7 246.2L187.2 247.7L187.7 249.1L188.2 250.6L188.7 252.0L189.2 253.4L189.7 254.8L190.2 256.2L190.7 257.6L191.2 259.0L191.7 260.4L192.2 261.8L192.7 263.2L193.2 264.6L193.7 265.9L194.2 267.2L194.7 268.5L195.2 269.7L195.7 270.9L196.2 271.9L196.7 272.9L197.2 273.8L197.7 274.5L198.2 275.2L198.7 275.8L199.2 276.3L199.7 276.8L200.2 277.3L200.7 277.7L201.2 278.0L201.7 278.4L202.2 278.8L202.7 279.2L203.2 279.5L203.7 279.9L204.2 280.3L204.7 280.6L205.2 280.9L205.7 281.3L206.2 281.6L206.7 281.8L207.2 282.1L207.7 282.3L208.2 282.5L208.7 282.7L209.2 282.9L209.7 283.0L210.2 283.1L210.7 283.2L211.2 283.2L211.7 283.1L212.2 283.0L212.7 282.9L213.2 282.7L213.7 282.5L214.2 282.2L214.7 281.9L215.2 281.6L215.7 281.2L216.2 280.9L216.7 280.5L217.2 280.1L217.7 279.8L218.2 279.4L218.7 279.1L219.2 278.8L219.7 278.5L220.2 278.3L220.7 278.1L221.2 278.0L221.7 277.9L222.2 277.9L222.7 277.9L223.2 277.9L223.7 278.0L224.2 278.1L224.7 278.2L225.2 278.4L225.7 278.5L226.2 278.6L226.7 278.8L227.2 278.9L227.7 279.0L228.2 279.0L228.7 279.0L229.2 279.0L229.7 279.0L230.2 278.9L230.7 278.8L231.2 278.6L231.7 278.4L232.2 278.0L232.7 277.5L233.2 276.8L233.7 275.9L234.2 274.8L234.7 273.5L235.2 272.0L235.7 270.3L236.2 268.5L236.7 266.6L237.2 264.6L237.7 262.7L238.2 260.6L238.7 258.6L239.2 256.6L239.7 254.6L240.2 252.5L240.7 250.4L241.2 248.3L241.7 246.1L242.2 243.9L242.7 241.8L243.2 239.7L243.7 237.6L244.2 235.7L244.7 233.8L245.2 232.1L245.7 230.5L246.2 229.1L246.7 227.7L247.2 226.5L247.7 225.4L248.2 224.3L248.7 223.3L249.2 222.3L249.7 221.4L250.2 220.5L250.7 219.6L251.2 218.7L251.7 217.7L252.2 216.8L252.7 215.9L253.2 214.9L253.7 213.9L254.2 212.9L254.7 212.0L255.2 211.0L255.7 210.0L256.2 209.0L256.7 208.0L257.2 207.1L257.7 206.1L258.2 205.1L258.7 204.0L259.2 203.0L259.7 201.9L260.2 200.7L260.7 199.5L261.2 198.2L261.7 196.8L262.2 195.4L262.7 193.9L263.2 192.3L263.7 190.6L264.2 189.0L264.7 187.3L265.2 185.6L265.7 183.9L266.2 182.2L266.7 180.5L267.2 178.8L267.7 177.1L268.2 175.4L268.7 173.7L269.2 172.0L269.7 170.3L270.2 168.6L270.7 166.9L271.2 165.2L271.7 163.5L272.2 161.8L272.7 160.1L273.2 158.4L273.7 156.7L274.2 155.0L274.7 153.3L275.2 151.7L275.7 150.0L276.2 148.3L276.7 146.6L277.2 144.9L277.7 143.2L278.2 141.5L278.7 139.8L279.2 138.1L279.7 136.4L280.2 134.7L280.7 133.0L281.2 131.3L281.7 129.7L282.2 128.2L282.7 126.8L283.2 125.6L283.7 124.5L284.2 123.6L284.7 123.0L285.2 122.5L285.7 122.1L286.2 121.9L286.7 121.7L287.2 121.6L287.7 121.5L288.2 121.6L288.7 121.6L289.2 121.7L289.7 121.9L290.2 122.1L290.7 122.4L291.2 122.6L291.7 122.8L292.2 123.0L292.7 123.1L293.2 123.1L293.7 123.0L294.2 122.8L294.7 122.5L295.2 122.2L295.7 121.7L296.2 121.1L296.7 120.5L297.2 119.9L297.7 119.2L298.2 118.4L298.7 117.7L299.2 116.9L299.7 116.1L300.2 115.3L300.7 114.5L301.2 113.7L301.7 113.0L302.2 112.3L302.7 111.6L303.2 111.0L303.7 110.5L304.2 110.0L304.7 109.6L305.2 109.2L305.7 108.9L306.2 108.6L306.7 108.4L307.2 108.2L307.7 108.1L308.2 108.0L308.7 107.9L309.2 107.9L309.7 107.9L310.2 107.9L310.7 107.9L311.2 108.0L311.7 108.2L312.2 108.3L312.7 108.5L313.2 108.8L313.7 109.1L314.2 109.4L314.7 109.8L315.2 110.2L315.7 110.6L316.2 111.1L316.7 111.6L317.2 112.2L317.7 112.8L318.2 113.4L318.7 114.0L319.2 114.7L319.7 115.4L320.2 116.2L320.7 116.9L321.2 117.7L321.7 118.5L322.2 119.3L322.7 120.2L323.2 121.1L323.7 121.9L324.2 122.9L324.7 123.8L325.2 124.8L325.7 125.7L326.2 126.7L326.7 127.8L327.2 128.8L327.7 129.9L328.2 131.1L328.7 132.2L329.2 133.4L329.7 134.6L330.2 135.9L330.7 137.1L331.2 138.5L331.7 139.8L332.2 141.2L332.7 142.7L333.2 144.2L333.7 145.8L334.2 147.4L334.7 149.1L335.2 150.9L335.7 152.8L336.2 154.8L336.7 156.8L337.2 158.9L337.7 161.0L338.2 163.2L338.7 165.4L339.2 167.6L339.7 169.9L340.2 172.3L340.7 174.7L341.2 177.2L341.7 179.7L342.2 182.3L342.7 184.9L343.2 187.7L343.7 190.5L344.2 193.4L344.7 196.5L345.2 199.7L345.7 203.2L346.2 206.9L346.7 210.8L347.2 214.7L347.7 218.6L348.2 222.4L348.7 225.9L349.2 229.1L349.7 232.1L350.2 234.9L350.7 237.5L351.2 240.1L351.7 242.5L352.2 244.9L352.7 247.3L353.2 249.8L353.7 252.3L354.2 254.8L354.7 257.4L355.2 260.1L355.7 262.8L356.2 265.6L356.7 268.4L357.2 271.2L357.7 274.1L358.2 276.9L358.7 279.8L359.2 282.6L359.7 285.4L360.2 288.1L360.7 290.8L361.2 293.5L361.7 296.1L362.2 298.6L362.7 301.1L363.2 303.5L363.7 305.8L364.2 308.1L364.7 310.4L365.2 312.5L365.7 314.7L366.2 316.7L366.7 318.6L367.2 320.4L367.7 322.0L368.2 323.4L368.7 324.6L369.2 325.6L369.7 326.3L370.2 326.9L370.7 327.2L371.2 327.3L371.7 327.1L372.2 326.8L372.7 326.2L373.2 325.4L373.7 324.4L374.2 323.2L374.7 321.9L375.2 320.3L375.7 318.7L376.2 316.9L376.7 315.0L377.2 312.9L377.7 310.7L378.2 308.4L378.7 306.0L379.2 303.5L379.7 300.9L380.2 298.2L380.7 295.4L381.2 292.7L381.7 290.0L382.2 287.3L382.7 284.8L383.2 282.3L383.7 280.1L384.2 278.0L384.7 276.2L385.2 274.5L385.7 273.1L386.2 271.9L386.7 271.0L387.2 270.3L387.7 269.8L388.2 269.6L388.7 269.6L389.2 270.1L389.7 270.9L390.2 272.1L390.7 273.8L391.2 276.0L391.7 278.7L392.2 281.8L392.7 285.3L393.2 289.0L393.7 293.0L394.2 297.1L394.7 301.3L395.2 305.5L395.7 309.8L396.2 314.2L396.7 318.6L397.2 323.1L397.7 327.6L398.2 332.2L398.7 336.7L399.2 341.1L399.7 345.4L400.2 349.3L400.7 352.7L401.2 355.4L401.7 357.1L402.2 357.7L402.7 357.1L403.2 355.3L403.7 352.5L404.2 348.7L404.7 344.2L405.2 339.0L405.7 333.3L406.2 327.2L406.7 320.7L407.2 314.1L407.7 307.3L408.2 300.5L408.7 293.8L409.2 287.2L409.7 280.9L410.2 274.8L410.7 268.9L411.2 263.3L411.7 258.0L412.2 253.0L412.7 248.4L413.2 244.2L413.7 240.6L414.2 237.5L414.7 235.0L415.2 233.1L415.7 231.7L416.2 230.8L416.7 230.3L417.2 230.3L417.7 230.5L418.2 231.0L418.7 231.7L419.2 232.5L419.7 233.4L420.2 234.4L420.7 235.6L421.2 236.9L421.7 238.3L422.2 239.8L422.7 241.4L423.2 243.1L423.7 244.8L424.2 246.6L424.7 248.5L425.2 250.3L425.7 252.1L426.2 253.8L426.7 255.4L427.2 257.0L427.7 258.4L428.2 259.5L428.7 260.5L429.2 261.1L429.7 261.4L430.2 261.3L430.7 260.8L431.2 259.9L431.7 258.5L432.2 256.8L432.7 254.7L433.2 252.3L433.7 249.7L434.2 246.9L434.7 244.0L435.2 241.0L435.7 237.9L436.2 234.7L436.7 231.5L437.2 228.3L437.7 225.1L438.2 221.9L438.7 218.8L439.2 215.9L439.7 213.0L440.2 210.3L440.7 207.7L441.2 205.1L441.7 202.5L442.2 199.7L442.7 196.7L443.2 193.4L443.7 189.6L444.2 185.3L444.7 180.7L445.2 175.8L445.7 170.8L446.2 165.9L446.7 161.2L447.2 156.7L447.7 152.6L448.2 148.8L448.7 145.4L449.2 142.3L449.7 139.6L450.2 137.4L450.7 135.7L451.2 134.6L451.7 133.9L452.2 133.7L452.7 134.0L453.2 134.6L453.7 135.4L454.2 136.6L454.7 137.9L455.2 139.4L455.7 141.0L456.2 142.8L456.7 144.7L457.2 146.6L457.7 148.7L458.2 150.8L458.7 153.0L459.2 155.2L459.7 157.4L460.2 159.5L460.7 161.7L461.2 163.8L461.7 165.9L462.2 167.8L462.7 169.7L463.2 171.5L463.7 173.1L464.2 174.6L464.7 175.9L465.2 177.0L465.7 178.0L466.2 178.7L466.7 179.1L467.2 179.2L467.7 179.0L468.2 178.3L468.7 177.1L469.2 175.6L469.7 173.6L470.2 171.3L470.7 168.6L471.2 165.6L471.7 162.4L472.2 158.8L472.7 154.9L473.2 150.8L473.7 146.4L474.2 141.9L474.7 137.4L475.2 132.9L475.7 128.6L476.2 124.6L476.7 120.9L477.2 117.6L477.7 114.6L478.2 112.1L478.7 109.9L479.2 108.1L479.7 106.6L480.2 105.6L480.7 104.9L481.2 104.6L481.7 104.7L482.2 105.2L482.7 106.0L483.2 107.2L483.7 108.7L484.2 110.7L484.7 113.0L485.2 115.7L485.7 118.8L486.2 122.2L486.7 126.0L487.2 130.0L487.7 134.3L488.2 138.6L488.7 143.0L489.2 147.5L489.7 151.9L490.2 156.3L490.7 160.6L491.2 164.8L491.7 168.9L492.2 172.9L492.7 176.7L493.2 180.4L493.7 184.0L494.2 187.3L494.7 190.3L495.2 193.1L495.7 195.4L496.2 197.5L496.7 199.1L497.2 200.3L497.7 201.2L498.2 201.6L498.7 201.8L499.2 201.7L499.7 201.4L500.2 201.0L500.7 200.5L501.2 199.9L501.7 199.3L502.2 198.7L502.7 198.1L503.2 197.6L503.7 197.0L504.2 196.5L504.7 196.0L505.2 195.5L505.7 195.0L506.2 194.5L506.7 194.1L507.2 193.6L507.7 193.2L508.2 192.7L508.7 192.3L509.2 191.9L509.7 191.6L510.2 191.3L510.7 191.1L511.2 190.9L511.7 190.9L512.2 191.0L512.7 191.3L513.2 191.8L513.7 192.4L514.2 193.1L514.7 193.8L515.2 194.7L515.7 195.5L516.2 196.5L516.7 197.6L517.2 198.8L517.7 200.3L518.2 202.2L518.7 204.4L519.2 207.0L519.7 209.9L520.2 213.2L520.7 216.8L521.2 220.5L521.7 224.5L522.2 228.5L522.7 232.7L523.2 236.9L523.7 241.2L524.2 245.4L524.7 249.7L525.2 254.0L525.7 258.2L526.2 262.4L526.7 266.5L527.2 270.7L527.7 274.7L528.2 278.6L528.7 282.5L529.2 286.1L529.7 289.5L530.2 292.6L530.7 295.4L531.2 297.7L531.7 299.6L532.2 301.0L532.7 302.0L533.2 302.6L533.7 302.8L534.2 302.8L534.7 302.4L535.2 301.9L535.7 301.2L536.2 300.5L536.7 299.7L537.2 298.8L537.7 297.9L538.2 296.9L538.7 295.9L539.2 294.9L539.7 293.9L540.2 292.9L540.7 291.8L541.2 290.6L541.7 289.5L542.2 288.3L542.7 287.0L543.2 285.7L543.7 284.4L544.2 283.0L544.7 281.6L545.2 280.3L545.7 279.0L546.2 277.7L546.7 276.4L547.2 275.3L547.7 274.3L548.2 273.4L548.7 272.9L549.2 272.7L549.7 272.9L550.2 273.6L550.7 274.7L551.2 276.2L551.7 278.2L552.2 280.5L552.7 283.1L553.2 286.1L553.7 289.3L554.2 292.7L554.7 296.5L555.2 300.4L555.7 304.5L556.2 308.6L556.7 312.7L557.2 316.7L557.7 320.5L558.2 324.1L558.7 327.4L559.2 330.5L559.7 333.2L560.2 335.6L560.7 337.6L561.2 339.0L561.7 339.9L562.2 340.3L562.7 340.2L563.2 339.7L563.7 338.9L564.2 337.9L564.7 336.6L565.2 335.2L565.7 333.7L566.2 332.0L566.7 330.2L567.2 328.3L567.7 326.3L568.2 324.2L568.7 322.1L569.2 319.9L569.7 317.9L570.2 315.9L570.7 314.1L571.2 312.5L571.7 311.0L572.2 309.8L572.7 308.6L573.2 307.6L573.7 306.7L574.2 305.8L574.7 304.9L575.2 304.1L575.7 303.3L576.2 302.5L576.7 301.6L577.2 300.8L577.7 299.9L578.2 299.0L578.7 298.1L579.2 297.2L579.7 296.2L580.2 295.3L580.7 294.3L581.2 293.3L581.7 292.3L582.2 291.3L582.7 290.2L583.2 289.2L583.7 288.2L584.2 287.2L584.7 286.2L585.2 285.2L585.7 284.2L586.2 283.2L586.7 282.2L587.2 281.2L587.7 280.3L588.2 279.3L588.7 278.4L589.2 277.4L589.7 276.5L590.2 275.6L590.7 274.7L591.2 273.8L591.7 272.8L592.2 271.9L592.7 271.0L593.2 270.0L593.7 269.1L594.2 268.1L594.7 267.1L595.2 266.0L595.7 264.9L596.2 263.7L596.7 262.5L597.2 261.2L597.7 259.8L598.2 258.4L598.7 256.9L599.2 255.3L599.7 253.7L600.2 252.0L600.7 250.2L601.2 248.4L601.7 246.6L602.2 244.8L602.7 242.9L603.2 241.1L603.7 239.2L604.2 237.3L604.7 235.5L605.2 233.6L605.7 231.7L606.2 229.9L606.7 228.1L607.2 226.3L607.7 224.5L608.2 222.7L608.7 220.9L609.2 219.1L609.7 217.3L610.2 215.5L610.7 213.6L611.2 211.8L611.7 209.8L612.2 207.8L612.7 205.6L613.2 203.4L613.7 200.9L614.2 198.1L614.7 195.0L615.2 191.3L615.7 187.2L616.2 182.8L616.7 178.3L617.2 173.9L617.7 169.8L618.2 166.2L618.7 163.0L619.2 160.1L619.7 157.4L620.2 154.8L620.7 152.3L621.2 149.8L621.7 147.4L622.2 144.9L622.7 142.5L623.2 140.1L623.7 137.8L624.2 135.4L624.7 133.0L625.2 130.7L625.7 128.3L626.2 126.0L626.7 123.7L627.2 121.4L627.7 119.1L628.2 116.8L628.7 114.6L629.2 112.4L629.7 110.3L630.2 108.3L630.7 106.5L631.2 104.7L631.7 103.2L632.2 101.7L632.7 100.4L633.2 99.2L633.7 98.1L634.2 97.2L634.7 96.4L635.2 95.7L635.7 95.1L636.2 94.6L636.7 94.2L637.2 94.0L637.7 93.9L638.2 94.0L638.7 94.3L639.2 94.7L639.7 95.3L640.2 96.2L640.7 97.3L641.2 98.5L641.7 100.0L642.2 101.7L642.7 103.6L643.2 105.7L643.7 107.8L644.2 110.1L644.7 112.4L645.2 114.7L645.7 117.0L646.2 119.4L646.7 121.8L647.2 124.2L647.7 126.7L648.2 129.1L648.7 131.6L649.2 134.2L649.7 136.7L650.2 139.3L650.7 142.0L651.2 144.6L651.7 147.3L652.2 149.8L652.7 152.3L653.2 154.6L653.7 156.6L654.2 158.3L654.7 159.4L655.2 159.8L655.7 159.5L656.2 158.5L656.7 156.7L657.2 154.4L657.7 151.6L658.2 148.3L658.7 144.8L659.2 141.1L659.7 137.1L660.2 133.0L660.7 128.7L661.2 124.3L661.7 119.7L662.2 115.2L662.7 110.7L663.2 106.6L663.7 102.7L664.2 99.3L664.7 96.4L665.2 93.9L665.7 91.8L666.2 90.1L666.7 88.8L667.2 87.9L667.7 87.3L668.2 87.0L668.7 87.3L669.2 88.0L669.7 89.4L670.2 91.6L670.7 94.6L671.2 98.4L671.7 103.0L672.2 108.3L672.7 114.1L673.2 120.3L673.7 126.8L674.2 133.5L674.7 140.3L675.2 147.3L675.7 154.4L676.2 161.5L676.7 168.7L677.2 175.7L677.7 182.5L678.2 188.9L678.7 194.6L679.2 199.7L679.7 204.0L680.2 207.6L680.7 210.6L681.2 213.2L681.7 215.4L682.2 217.3L682.7 218.8L683.2 219.9L683.7 220.5L684.2 220.6L684.7 220.2L685.2 219.3L685.7 218.2L686.2 216.9L686.7 215.4L687.2 213.9L687.7 212.3L688.2 210.7L688.7 209.0L689.2 207.3L689.7 205.6L690.2 203.9L690.7 202.2L691.2 200.5L691.7 198.8L692.2 197.1L692.7 195.4L693.2 193.8L693.7 192.2L694.2 190.7L694.7 189.2L695.2 187.9L695.7 186.7L696.2 185.8L696.7 185.1L697.2 184.9L697.7 185.1L698.2 185.8L698.7 187.1L699.2 188.9L699.7 191.2L700.2 193.7L700.7 196.4L701.2 199.3L701.7 202.3L702.2 205.4L702.7 208.6L703.2 212.0L703.7 215.6L704.2 219.3L704.7 223.2L705.2 227.3L705.7 231.5L706.2 235.9L706.7 240.4L707.2 245.0L707.7 249.6L708.2 254.2L708.7 258.9L709.2 263.5L709.7 268.0L710.2 272.5L710.7 277.0L711.2 281.4L711.7 285.8L712.2 290.0L712.7 294.1L713.2 297.9L713.7 301.4L714.2 304.4L714.7 306.8L715.2 308.6L715.7 309.6L716.2 310.1L716.7 309.9L717.2 309.3L717.7 308.2L718.2 306.6L718.7 304.7L719.2 302.3L719.7 299.5L720.2 296.2L720.7 292.6L721.2 288.4L721.7 283.9L722.2 279.1L722.7 274.2L723.2 269.3L723.7 264.6L724.2 260.0L724.7 255.8L725.2 252.0L725.7 248.5L726.2 245.3L726.7 242.7L727.2 240.5L727.7 238.9L728.2 237.9L728.7 237.6L729.2 237.9L729.7 238.7L730.2 240.1L730.7 241.8L731.2 243.8L731.7 246.1L732.2 248.6L732.7 251.2L733.2 253.9L733.7 256.8L734.2 259.8L734.7 262.9L735.2 266.0L735.7 269.2L736.2 272.5L736.7 275.7L737.2 278.9L737.7 282.0L738.2 285.1L738.7 288.0L739.2 290.8L739.7 293.5L740.2 295.9L740.7 298.0L741.2 299.9L741.7 301.3L742.2 302.4L742.7 303.0L743.2 303.2L743.7 302.9L744.2 302.3L744.7 301.4L745.2 300.3L745.7 298.9L746.2 297.3L746.7 295.6L747.2 293.8L747.7 291.9L748.2 290.0L748.7 288.0L749.2 286.0L749.7 283.9L750.2 281.9L750.7 279.8L751.2 277.8L751.7 275.8L752.2 273.8L752.7 271.9L753.2 270.0L753.7 268.1L754.2 266.2L754.7 264.3L755.2 262.5L755.7 260.6L756.2 258.8L756.7 257.0L757.2 255.1L757.7 253.3L758.2 251.5L758.7 249.7L759.2 247.9L759.7 246.1L760.2 244.3L760.7 242.6L761.2 241.0L761.7 239.3L762.2 237.8L762.7 236.2L763.2 234.6L763.7 233.0L764.2 231.3L764.7 229.5L765.2 227.7L765.7 225.8L766.2 223.7L766.7 221.5L767.2 219.2L767.7 216.8L768.2 214.3L768.7 211.8L769.2 209.2L769.7 206.5L770.2 203.9L770.7 201.3L771.2 198.6L771.7 196.0L772.2 193.4L772.7 190.8L773.2 188.3L773.7 185.7L774.2 183.2L774.7 180.7L775.2 178.3L775.7 175.9L776.2 173.6L776.7 171.5L777.2 169.6L777.7 167.9L778.2 166.4L778.7 165.0L779.2 163.9L779.7 162.9L780.2 162.0L780.7 161.2L781.2 160.5L781.7 159.8L782.2 159.2L782.7 158.7L783.2 158.2L783.7 157.8L784.2 157.4L784.7 157.0L785.2 156.6L785.7 156.1L786.2 155.6L786.7 155.0L787.2 154.3L787.7 153.5L788.2 152.5L788.7 151.5L789.2 150.4L789.7 149.3L790.2 148.1L790.7 146.9L791.2 145.7L791.7 144.6L792.2 143.4L792.7 142.2L793.2 141.1L793.7 140.0L794.2 139.0L794.7 138.0L795.2 137.0L795.7 136.1L796.2 135.2L796.7 134.3L797.2 133.3L797.7 132.4L798.2 131.4L798.7 130.3L799.2 129.2L799.7 127.9L800.2 126.6L800.7 125.1L801.2 123.4L801.7 121.7L802.2 119.8L802.7 117.8L803.2 115.7L803.7 113.6L804.2 111.4L804.7 109.2L805.2 107.0L805.7 104.8L806.2 102.5L806.7 100.2L807.2 98.0L807.7 95.7L808.2 93.6L808.7 91.5L809.2 89.6L809.7 87.9L810.2 86.4L810.7 85.2L811.2 84.1L811.7 83.3L812.2 82.8L812.7 82.4L813.2 82.3L813.7 82.4L814.2 82.8L814.7 83.4L815.2 84.4L815.7 85.7L816.2 87.3L816.7 89.0L817.2 90.7L817.7 92.4L818.2 93.8" stroke="#c0282e"/>
</g>
<line x1="128.9" y1="26.6" x2="133.9" y2="26.6" stroke="#222" stroke-width="1.6"/>
<line x1="814.5" y1="26.6" x2="819.5" y2="26.6" stroke="#222" stroke-width="1.6"/>
<line x1="128.9" y1="72.0" x2="133.9" y2="72.0" stroke="#222" stroke-width="1.6"/>
<line x1="814.5" y1="72.0" x2="819.5" y2="72.0" stroke="#222" stroke-width="1.6"/>
<line x1="128.9" y1="117.3" x2="133.9" y2="117.3" stroke="#222" stroke-width="1.6"/>
<line x1="814.5" y1="117.3" x2="819.5" y2="117.3" stroke="#222" stroke-width="1.6"/>
<line x1="128.9" y1="162.7" x2="133.9" y2="162.7" stroke="#222" stroke-width="1.6"/>
<line x1="814.5" y1="162.7" x2="819.5" y2="162.7" stroke="#222" stroke-width="1.6"/>
<line x1="128.9" y1="208.1" x2="133.9" y2="208.1" stroke="#222" stroke-width="1.6"/>
<line x1="814.5" y1="208.1" x2="819.5" y2="208.1" stroke="#222" stroke-width="1.6"/>
<line x1="128.9" y1="253.5" x2="133.9" y2="253.5" stroke="#222" stroke-width="1.6"/>
<line x1="814.5" y1="253.5" x2="819.5" y2="253.5" stroke="#222" stroke-width="1.6"/>
<line x1="128.9" y1="298.9" x2="133.9" y2="298.9" stroke="#222" stroke-width="1.6"/>
<line x1="814.5" y1="298.9" x2="819.5" y2="298.9" stroke="#222" stroke-width="1.6"/>
<line x1="128.9" y1="344.2" x2="133.9" y2="344.2" stroke="#222" stroke-width="1.6"/>
<line x1="814.5" y1="344.2" x2="819.5" y2="344.2" stroke="#222" stroke-width="1.6"/>
<line x1="128.9" y1="389.6" x2="133.9" y2="389.6" stroke="#222" stroke-width="1.6"/>
<line x1="814.5" y1="389.6" x2="819.5" y2="389.6" stroke="#222" stroke-width="1.6"/>
<line x1="128.9" y1="389.7" x2="128.9" y2="384.7" stroke="#222" stroke-width="1.6"/>
<line x1="128.9" y1="4.0" x2="128.9" y2="9.0" stroke="#222" stroke-width="1.6"/>
<line x1="316.2" y1="389.7" x2="316.2" y2="384.7" stroke="#222" stroke-width="1.6"/>
<line x1="316.2" y1="4.0" x2="316.2" y2="9.0" stroke="#222" stroke-width="1.6"/>
<line x1="503.5" y1="389.7" x2="503.5" y2="384.7" stroke="#222" stroke-width="1.6"/>
<line x1="503.5" y1="4.0" x2="503.5" y2="9.0" stroke="#222" stroke-width="1.6"/>
<line x1="690.7" y1="389.7" x2="690.7" y2="384.7" stroke="#222" stroke-width="1.6"/>
<line x1="690.7" y1="4.0" x2="690.7" y2="9.0" stroke="#222" stroke-width="1.6"/>
<rect x="128.9" y="4.0" width="690.6" height="385.7" fill="none" stroke="#b4b4b4" stroke-width="1.3"/>
<rect x="128.9" y="4.0" width="65.5" height="68.0" fill="#fff"/>
<path d="M194.4 4.0V72.0H128.9" fill="none" stroke="#1a1a1a" stroke-width="1.4"/>
<path d="M128.9 72.0V4.0H194.4" fill="none" stroke="#b4b4b4" stroke-width="1.3"/>
<text x="142.9" y="48.3" fill="#000" font-weight="bold"><tspan font-size="35">a</tspan><tspan font-size="40.5" dx="1.5">)</tspan></text>
<rect x="1180.7" y="4.0" width="691.2" height="385.7" fill="#ececec"/>
<line x1="1180.7" y1="22.3" x2="1871.9" y2="22.3" stroke="#b2b2b2" stroke-width="1" stroke-dasharray="3.4 1.6"/>
<line x1="1180.7" y1="68.2" x2="1871.9" y2="68.2" stroke="#b2b2b2" stroke-width="1" stroke-dasharray="3.4 1.6"/>
<line x1="1180.7" y1="114.1" x2="1871.9" y2="114.1" stroke="#b2b2b2" stroke-width="1" stroke-dasharray="3.4 1.6"/>
<line x1="1180.7" y1="160.1" x2="1871.9" y2="160.1" stroke="#b2b2b2" stroke-width="1" stroke-dasharray="3.4 1.6"/>
<line x1="1180.7" y1="206.0" x2="1871.9" y2="206.0" stroke="#b2b2b2" stroke-width="1" stroke-dasharray="3.4 1.6"/>
<line x1="1180.7" y1="251.9" x2="1871.9" y2="251.9" stroke="#b2b2b2" stroke-width="1" stroke-dasharray="3.4 1.6"/>
<line x1="1180.7" y1="297.9" x2="1871.9" y2="297.9" stroke="#b2b2b2" stroke-width="1" stroke-dasharray="3.4 1.6"/>
<line x1="1180.7" y1="343.8" x2="1871.9" y2="343.8" stroke="#b2b2b2" stroke-width="1" stroke-dasharray="3.4 1.6"/>
<line x1="1180.7" y1="389.7" x2="1871.9" y2="389.7" stroke="#b2b2b2" stroke-width="1" stroke-dasharray="3.4 1.6"/>
<line x1="1368.1" y1="4.0" x2="1368.1" y2="389.7" stroke="#b2b2b2" stroke-width="1" stroke-dasharray="3.4 1.6"/>
<line x1="1555.6" y1="4.0" x2="1555.6" y2="389.7" stroke="#b2b2b2" stroke-width="1" stroke-dasharray="3.4 1.6"/>
<line x1="1743.0" y1="4.0" x2="1743.0" y2="389.7" stroke="#b2b2b2" stroke-width="1" stroke-dasharray="3.4 1.6"/>
<g clip-path="url(#clipB)" fill="none" stroke-width="4.2" stroke-linejoin="round" stroke-linecap="round">
<path d="M1182.3 204.6L1182.8 205.8L1183.3 207.4L1183.8 209.1L1184.3 211.0L1184.8 213.0L1185.3 215.0L1185.8 217.1L1186.3 219.1L1186.8 221.1L1187.3 223.2L1187.8 225.2L1188.3 227.2L1188.8 229.2L1189.3 231.2L1189.8 233.2L1190.3 235.2L1190.8 237.2L1191.3 239.2L1191.8 241.2L1192.3 243.1L1192.8 245.1L1193.3 247.1L1193.8 249.1L1194.3 251.1L1194.8 253.1L1195.3 255.1L1195.8 257.0L1196.3 259.0L1196.8 261.0L1197.3 263.0L1197.8 265.0L1198.3 267.0L1198.8 268.9L1199.3 270.9L1199.8 272.9L1200.3 274.9L1200.8 276.9L1201.3 278.9L1201.8 280.9L1202.3 283.0L1202.8 285.0L1203.3 287.0L1203.8 289.0L1204.3 291.0L1204.8 293.0L1205.3 295.0L1205.8 296.9L1206.3 298.8L1206.8 300.7L1207.3 302.4L1207.8 304.1L1208.3 305.8L1208.8 307.3L1209.3 308.8L1209.8 310.3L1210.3 311.7L1210.8 313.1L1211.3 314.4L1211.8 315.7L1212.3 317.0L1212.8 318.3L1213.3 319.5L1213.8 320.7L1214.3 321.8L1214.8 322.9L1215.3 324.0L1215.8 325.1L1216.3 326.1L1216.8 327.1L1217.3 328.0L1217.8 328.9L1218.3 329.8L1218.8 330.6L1219.3 331.4L1219.8 332.1L1220.3 332.8L1220.8 333.5L1221.3 334.2L1221.8 334.8L1222.3 335.3L1222.8 335.9L1223.3 336.4L1223.8 336.9L1224.3 337.3L1224.8 337.7L1225.3 338.1L1225.8 338.4L1226.3 338.7L1226.8 339.0L1227.3 339.2L1227.8 339.4L1228.3 339.5L1228.8 339.7L1229.3 339.8L1229.8 339.8L1230.3 339.8L1230.8 339.8L1231.3 339.7L1231.8 339.7L1232.3 339.5L1232.8 339.4L1233.3 339.2L1233.8 338.9L1234.3 338.7L1234.8 338.4L1235.3 338.0L1235.8 337.6L1236.3 337.2L1236.8 336.7L1237.3 336.2L1237.8 335.6L1238.3 335.0L1238.8 334.3L1239.3 333.7L1239.8 333.0L1240.3 332.2L1240.8 331.4L1241.3 330.6L1241.8 329.8L1242.3 329.0L1242.8 328.1L1243.3 327.2L1243.8 326.2L1244.3 325.2L1244.8 324.2L1245.3 323.1L1245.8 322.1L1246.3 321.0L1246.8 319.8L1247.3 318.7L1247.8 317.5L1248.3 316.3L1248.8 315.1L1249.3 313.9L1249.8 312.7L1250.3 311.4L1250.8 310.2L1251.3 308.9L1251.8 307.6L1252.3 306.2L1252.8 304.9L1253.3 303.5L1253.8 302.1L1254.3 300.7L1254.8 299.2L1255.3 297.7L1255.8 296.2L1256.3 294.6L1256.8 293.0L1257.3 291.5L1257.8 289.9L1258.3 288.4L1258.8 286.8L1259.3 285.4L1259.8 283.9L1260.3 282.5L1260.8 281.2L1261.3 279.9L1261.8 278.6L1262.3 277.4L1262.8 276.1L1263.3 274.9L1263.8 273.7L1264.3 272.5L1264.8 271.3L1265.3 270.1L1265.8 268.9L1266.3 267.7L1266.8 266.5L1267.3 265.3L1267.8 264.1L1268.3 262.9L1268.8 261.7L1269.3 260.5L1269.8 259.3L1270.3 258.1L1270.8 256.9L1271.3 255.7L1271.8 254.5L1272.3 253.3L1272.8 252.1L1273.3 250.9L1273.8 249.7L1274.3 248.5L1274.8 247.3L1275.3 246.1L1275.8 244.9L1276.3 243.7L1276.8 242.5L1277.3 241.3L1277.8 240.1L1278.3 238.9L1278.8 237.7L1279.3 236.5L1279.8 235.3L1280.3 234.1L1280.8 232.9L1281.3 231.7L1281.8 230.6L1282.3 229.4L1282.8 228.2L1283.3 227.0L1283.8 225.9L1284.3 224.7L1284.8 223.6L1285.3 222.5L1285.8 221.4L1286.3 220.3L1286.8 219.2L1287.3 218.1L1287.8 217.1L1288.3 216.1L1288.8 215.1L1289.3 214.1L1289.8 213.2L1290.3 212.3L1290.8 211.4L1291.3 210.6L1291.8 209.9L1292.3 209.2L1292.8 208.6L1293.3 208.1L1293.8 207.6L1294.3 207.1L1294.8 206.7L1295.3 206.3L1295.8 206.0L1296.3 205.7L1296.8 205.4L1297.3 205.1L1297.8 204.9L1298.3 204.6L1298.8 204.4L1299.3 204.1L1299.8 203.9L1300.3 203.7L1300.8 203.4L1301.3 203.2L1301.8 203.0L1302.3 202.8L1302.8 202.6L1303.3 202.4L1303.8 202.2L1304.3 202.1L1304.8 202.0L1305.3 201.8L1305.8 201.7L1306.3 201.7L1306.8 201.6L1307.3 201.6L1307.8 201.6L1308.3 201.6L1308.8 201.6L1309.3 201.7L1309.8 201.8L1310.3 201.9L1310.8 202.0L1311.3 202.2L1311.8 202.4L1312.3 202.6L1312.8 202.9L1313.3 203.1L1313.8 203.4L1314.3 203.7L1314.8 204.1L1315.3 204.4L1315.8 204.8L1316.3 205.2L1316.8 205.7L1317.3 206.1L1317.8 206.6L1318.3 207.1L1318.8 207.7L1319.3 208.2L1319.8 208.8L1320.3 209.4L1320.8 210.0L1321.3 210.7L1321.8 211.4L1322.3 212.1L1322.8 212.8L1323.3 213.5L1323.8 214.3L1324.3 215.0L1324.8 215.8L1325.3 216.7L1325.8 217.5L1326.3 218.4L1326.8 219.4L1327.3 220.4L1327.8 221.4L1328.3 222.4L1328.8 223.5L1329.3 224.6L1329.8 225.8L1330.3 227.0L1330.8 228.2L1331.3 229.5L1331.8 230.8L1332.3 232.1L1332.8 233.5L1333.3 234.9L1333.8 236.4L1334.3 237.9L1334.8 239.4L1335.3 240.9L1335.8 242.5L1336.3 244.1L1336.8 245.6L1337.3 247.2L1337.8 248.8L1338.3 250.4L1338.8 252.0L1339.3 253.6L1339.8 255.3L1340.3 256.9L1340.8 258.5L1341.3 260.2L1341.8 261.8L1342.3 263.4L1342.8 265.0L1343.3 266.6L1343.8 268.2L1344.3 269.8L1344.8 271.3L1345.3 272.8L1345.8 274.3L1346.3 275.7L1346.8 277.2L1347.3 278.8L1347.8 280.3L1348.3 281.9L1348.8 283.6L1349.3 285.3L1349.8 287.0L1350.3 288.7L1350.8 290.5L1351.3 292.3L1351.8 294.0L1352.3 295.8L1352.8 297.5L1353.3 299.3L1353.8 301.0L1354.3 302.7L1354.8 304.4L1355.3 306.1L1355.8 307.8L1356.3 309.6L1356.8 311.4L1357.3 313.3L1357.8 315.2L1358.3 317.2L1358.8 319.2L1359.3 321.2L1359.8 323.3L1360.3 325.3L1360.8 327.4L1361.3 329.4L1361.8 331.4L1362.3 333.4L1362.8 335.4L1363.3 337.4L1363.8 339.3L1364.3 341.3L1364.8 343.2L1365.3 345.1L1365.8 347.0L1366.3 348.8L1366.8 350.7L1367.3 352.6L1367.8 354.4L1368.3 356.2L1368.8 358.1L1369.3 359.9L1369.8 361.7L1370.3 363.4L1370.8 365.1L1371.3 366.8L1371.8 368.4L1372.3 369.9L1372.8 371.3L1373.3 372.7L1373.8 374.0L1374.3 375.2L1374.8 376.4L1375.3 377.5L1375.8 378.5L1376.3 379.5L1376.8 380.4L1377.3 381.3L1377.8 382.1L1378.3 382.8L1378.8 383.5L1379.3 384.0L1379.8 384.5L1380.3 385.0L1380.8 385.3L1381.3 385.6L1381.8 385.8L1382.3 385.9L1382.8 386.0L1383.3 385.9L1383.8 385.9L1384.3 385.7L1384.8 385.5L1385.3 385.3L1385.8 385.1L1386.3 384.8L1386.8 384.6L1387.3 384.3L1387.8 384.0L1388.3 383.6L1388.8 383.3L1389.3 382.9L1389.8 382.5L1390.3 382.1L1390.8 381.7L1391.3 381.3L1391.8 380.8L1392.3 380.4L1392.8 379.9L1393.3 379.4L1393.8 378.9L1394.3 378.3L1394.8 377.8L1395.3 377.3L1395.8 376.7L1396.3 376.2L1396.8 375.6L1397.3 375.0L1397.8 374.4L1398.3 373.8L1398.8 373.2L1399.3 372.6L1399.8 372.0L1400.3 371.3L1400.8 370.7L1401.3 370.0L1401.8 369.3L1402.3 368.6L1402.8 367.9L1403.3 367.2L1403.8 366.4L1404.3 365.6L1404.8 364.8L1405.3 364.0L1405.8 363.1L1406.3 362.2L1406.8 361.3L1407.3 360.3L1407.8 359.3L1408.3 358.3L1408.8 357.2L1409.3 356.2L1409.8 355.1L1410.3 353.9L1410.8 352.8L1411.3 351.6L1411.8 350.4L1412.3 349.2L1412.8 347.9L1413.3 346.6L1413.8 345.3L1414.3 343.9L1414.8 342.5L1415.3 341.0L1415.8 339.5L1416.3 337.9L1416.8 336.3L1417.3 334.6L1417.8 332.9L1418.3 331.1L1418.8 329.3L1419.3 327.4L1419.8 325.4L1420.3 323.4L1420.8 321.4L1421.3 319.3L1421.8 317.1L1422.3 314.9L1422.8 312.7L1423.3 310.5L1423.8 308.3L1424.3 306.1L1424.8 303.9L1425.3 301.7L1425.8 299.5L1426.3 297.4L1426.8 295.3L1427.3 293.2L1427.8 291.1L1428.3 289.0L1428.8 287.0L1429.3 285.0L1429.8 283.0L1430.3 281.1L1430.8 279.3L1431.3 277.5L1431.8 275.8L1432.3 274.2L1432.8 272.7L1433.3 271.2L1433.8 269.8L1434.3 268.4L1434.8 267.1L1435.3 265.8L1435.8 264.5L1436.3 263.3L1436.8 262.0L1437.3 260.8L1437.8 259.6L1438.3 258.4L1438.8 257.3L1439.3 256.1L1439.8 255.0L1440.3 253.9L1440.8 252.8L1441.3 251.7L1441.8 250.6L1442.3 249.5L1442.8 248.4L1443.3 247.3L1443.8 246.2L1444.3 245.0L1444.8 243.8L1445.3 242.5L1445.8 241.2L1446.3 239.7L1446.8 238.1L1447.3 236.5L1447.8 234.6L1448.3 232.7L1448.8 230.6L1449.3 228.3L1449.8 225.9L1450.3 223.2L1450.8 220.4L1451.3 217.3L1451.8 214.0L1452.3 210.5L1452.8 207.0L1453.3 203.4L1453.8 199.9L1454.3 196.5L1454.8 193.3L1455.3 190.3L1455.8 187.5L1456.3 184.8L1456.8 182.4L1457.3 180.1L1457.8 178.0L1458.3 176.0L1458.8 174.2L1459.3 172.5L1459.8 171.0L1460.3 169.6L1460.8 168.4L1461.3 167.3L1461.8 166.4L1462.3 165.7L1462.8 165.0L1463.3 164.4L1463.8 163.8L1464.3 163.3L1464.8 162.8L1465.3 162.3L1465.8 161.8L1466.3 161.3L1466.8 160.8L1467.3 160.3L1467.8 159.8L1468.3 159.3L1468.8 158.8L1469.3 158.3L1469.8 157.8L1470.3 157.3L1470.8 156.8L1471.3 156.3L1471.8 155.8L1472.3 155.3L1472.8 154.8L1473.3 154.3L1473.8 153.8L1474.3 153.3L1474.8 152.8L1475.3 152.2L1475.8 151.7L1476.3 151.2L1476.8 150.7L1477.3 150.1L1477.8 149.6L1478.3 148.9L1478.8 148.3L1479.3 147.5L1479.8 146.7L1480.3 145.9L1480.8 145.0L1481.3 144.1L1481.8 143.1L1482.3 142.2L1482.8 141.2L1483.3 140.2L1483.8 139.3L1484.3 138.4L1484.8 137.6L1485.3 136.8L1485.8 136.0L1486.3 135.3L1486.8 134.6L1487.3 134.0L1487.8 133.4L1488.3 132.9L1488.8 132.4L1489.3 131.9L1489.8 131.5L1490.3 131.1L1490.8 130.8L1491.3 130.5L1491.8 130.2L1492.3 129.9L1492.8 129.7L1493.3 129.6L1493.8 129.5L1494.3 129.5L1494.8 129.5L1495.3 129.7L1495.8 129.9L1496.3 130.3L1496.8 130.8L1497.3 131.4L1497.8 132.2L1498.3 133.2L1498.8 134.2L1499.3 135.4L1499.8 136.6L1500.3 137.9L1500.8 139.2L1501.3 140.6L1501.8 141.9L1502.3 143.3L1502.8 144.6L1503.3 145.9L1503.8 147.3L1504.3 148.6L1504.8 150.0L1505.3 151.3L1505.8 152.6L1506.3 154.0L1506.8 155.3L1507.3 156.6L1507.8 158.0L1508.3 159.3L1508.8 160.6L1509.3 161.9L1509.8 163.2L1510.3 164.4L1510.8 165.6L1511.3 166.7L1511.8 167.8L1512.3 168.8L1512.8 169.7L1513.3 170.5L1513.8 171.3L1514.3 172.0L1514.8 172.7L1515.3 173.4L1515.8 174.0L1516.3 174.6L1516.8 175.2L1517.3 175.7L1517.8 176.1L1518.3 176.4L1518.8 176.7L1519.3 177.0L1519.8 177.2L1520.3 177.5L1520.8 177.9L1521.3 178.3L1521.8 178.9L1522.3 179.5L1522.8 180.4L1523.3 181.3L1523.8 182.4L1524.3 183.7L1524.8 185.0L1525.3 186.5L1525.8 187.9L1526.3 189.5L1526.8 191.0L1527.3 192.6L1527.8 194.1L1528.3 195.7L1528.8 197.3L1529.3 198.9L1529.8 200.5L1530.3 202.1L1530.8 203.7L1531.3 205.3L1531.8 206.9L1532.3 208.5L1532.8 210.1L1533.3 211.6L1533.8 213.2L1534.3 214.8L1534.8 216.3L1535.3 217.8L1535.8 219.3L1536.3 220.8L1536.8 222.3L1537.3 223.8L1537.8 225.2L1538.3 226.6L1538.8 228.0L1539.3 229.4L1539.8 230.7L1540.3 232.0L1540.8 233.2L1541.3 234.4L1541.8 235.4L1542.3 236.4L1542.8 237.4L1543.3 238.2L1543.8 238.9L1544.3 239.5L1544.8 240.1L1545.3 240.5L1545.8 240.9L1546.3 241.3L1546.8 241.6L1547.3 241.8L1547.8 242.1L1548.3 242.3L1548.8 242.6L1549.3 242.8L1549.8 243.1L1550.3 243.3L1550.8 243.6L1551.3 243.9L1551.8 244.1L1552.3 244.3L1552.8 244.6L1553.3 244.8L1553.8 245.1L1554.3 245.3L1554.8 245.6L1555.3 245.8L1555.8 246.1L1556.3 246.3L1556.8 246.6L1557.3 246.8L1557.8 247.1L1558.3 247.3L1558.8 247.6L1559.3 247.8L1559.8 248.1L1560.3 248.3L1560.8 248.6L1561.3 248.8L1561.8 249.1L1562.3 249.3L1562.8 249.6L1563.3 249.8L1563.8 250.1L1564.3 250.3L1564.8 250.6L1565.3 250.8L1565.8 251.0L1566.3 251.2L1566.8 251.5L1567.3 251.7L1567.8 251.9L1568.3 252.1L1568.8 252.3L1569.3 252.5L1569.8 252.7L1570.3 252.9L1570.8 253.1L1571.3 253.3L1571.8 253.4L1572.3 253.5L1572.8 253.5L1573.3 253.4L1573.8 253.3L1574.3 253.0L1574.8 252.6L1575.3 252.2L1575.8 251.6L1576.3 250.9L1576.8 250.0L1577.3 249.1L1577.8 248.0L1578.3 246.8L1578.8 245.5L1579.3 244.2L1579.8 242.8L1580.3 241.3L1580.8 239.8L1581.3 238.3L1581.8 236.8L1582.3 235.2L1582.8 233.6L1583.3 232.0L1583.8 230.4L1584.3 228.8L1584.8 227.2L1585.3 225.5L1585.8 223.9L1586.3 222.2L1586.8 220.6L1587.3 218.9L1587.8 217.3L1588.3 215.6L1588.8 214.0L1589.3 212.4L1589.8 210.8L1590.3 209.2L1590.8 207.6L1591.3 206.0L1591.8 204.5L1592.3 203.0L1592.8 201.5L1593.3 200.1L1593.8 198.7L1594.3 197.3L1594.8 196.0L1595.3 194.7L1595.8 193.5L1596.3 192.2L1596.8 191.0L1597.3 189.7L1597.8 188.5L1598.3 187.3L1598.8 186.0L1599.3 184.8L1599.8 183.5L1600.3 182.3L1600.8 181.0L1601.3 179.7L1601.8 178.4L1602.3 177.2L1602.8 175.9L1603.3 174.6L1603.8 173.3L1604.3 172.0L1604.8 170.7L1605.3 169.3L1605.8 168.0L1606.3 166.6L1606.8 165.2L1607.3 163.7L1607.8 162.1L1608.3 160.5L1608.8 158.8L1609.3 156.9L1609.8 155.1L1610.3 153.1L1610.8 151.0L1611.3 148.9L1611.8 146.6L1612.3 144.4L1612.8 142.0L1613.3 139.7L1613.8 137.3L1614.3 134.9L1614.8 132.4L1615.3 130.0L1615.8 127.6L1616.3 125.2L1616.8 122.8L1617.3 120.4L1617.8 118.0L1618.3 115.6L1618.8 113.2L1619.3 110.9L1619.8 108.5L1620.3 106.1L1620.8 103.8L1621.3 101.5L1621.8 99.3L1622.3 97.1L1622.8 95.0L1623.3 92.9L1623.8 90.9L1624.3 89.1L1624.8 87.3L1625.3 85.6L1625.8 83.9L1626.3 82.3L1626.8 80.8L1627.3 79.3L1627.8 77.9L1628.3 76.4L1628.8 75.0L1629.3 73.6L1629.8 72.1L1630.3 70.7L1630.8 69.3L1631.3 67.8L1631.8 66.4L1632.3 65.0L1632.8 63.5L1633.3 62.1L1633.8 60.7L1634.3 59.3L1634.8 57.9L1635.3 56.5L1635.8 55.1L1636.3 53.7L1636.8 52.3L1637.3 50.9L1637.8 49.5L1638.3 48.2L1638.8 46.8L1639.3 45.5L1639.8 44.1L1640.3 42.8L1640.8 41.5L1641.3 40.2L1641.8 38.9L1642.3 37.6L1642.8 36.4L1643.3 35.1L1643.8 33.9L1644.3 32.7L1644.8 31.5L1645.3 30.3L1645.8 29.1L1646.3 28.0L1646.8 26.8L1647.3 25.7L1647.8 24.6L1648.3 23.5L1648.8 22.4L1649.3 21.4L1649.8 20.4L1650.3 19.5L1650.8 18.5L1651.3 17.7L1651.8 16.9L1652.3 16.1L1652.8 15.4L1653.3 14.7L1653.8 14.0L1654.3 13.4L1654.8 12.9L1655.3 12.3L1655.8 11.8L1656.3 11.4L1656.8 10.9L1657.3 10.5L1657.8 10.2L1658.3 9.8L1658.8 9.5L1659.3 9.2L1659.8 9.0L1660.3 8.8L1660.8 8.6L1661.3 8.5L1661.8 8.3L1662.3 8.3L1662.8 8.2L1663.3 8.2L1663.8 8.2L1664.3 8.2L1664.8 8.3L1665.3 8.4L1665.8 8.6L1666.3 8.7L1666.8 9.0L1667.3 9.2L1667.8 9.5L1668.3 9.8L1668.8 10.2L1669.3 10.5L1669.8 11.0L1670.3 11.4L1670.8 11.9L1671.3 12.5L1671.8 13.1L1672.3 13.8L1672.8 14.5L1673.3 15.3L1673.8 16.2L1674.3 17.1L1674.8 18.0L1675.3 19.0L1675.8 20.1L1676.3 21.2L1676.8 22.4L1677.3 23.6L1677.8 24.9L1678.3 26.2L1678.8 27.6L1679.3 29.0L1679.8 30.6L1680.3 32.3L1680.8 34.0L1681.3 35.9L1681.8 37.8L1682.3 39.8L1682.8 41.9L1683.3 44.0L1683.8 46.1L1684.3 48.3L1684.8 50.4L1685.3 52.6L1685.8 54.7L1686.3 56.8L1686.8 59.0L1687.3 61.1L1687.8 63.3L1688.3 65.5L1688.8 67.6L1689.3 69.8L1689.8 71.9L1690.3 74.1L1690.8 76.2L1691.3 78.4L1691.8 80.5L1692.3 82.7L1692.8 84.9L1693.3 87.0L1693.8 89.2L1694.3 91.3L1694.8 93.4L1695.3 95.5L1695.8 97.6L1696.3 99.7L1696.8 101.7L1697.3 103.7L1697.8 105.6L1698.3 107.5L1698.8 109.3L1699.3 110.9L1699.8 112.5L1700.3 114.0L1700.8 115.3L1701.3 116.5L1701.8 117.6L1702.3 118.6L1702.8 119.5L1703.3 120.4L1703.8 121.2L1704.3 122.0L1704.8 122.9L1705.3 123.8L1705.8 124.7L1706.3 125.6L1706.8 126.6L1707.3 127.7L1707.8 128.8L1708.3 130.0L1708.8 131.1L1709.3 132.3L1709.8 133.6L1710.3 134.8L1710.8 136.2L1711.3 137.7L1711.8 139.2L1712.3 140.9L1712.8 142.6L1713.3 144.4L1713.8 146.3L1714.3 148.2L1714.8 150.2L1715.3 152.1L1715.8 154.1L1716.3 156.1L1716.8 158.0L1717.3 160.0L1717.8 162.0L1718.3 164.0L1718.8 166.0L1719.3 168.0L1719.8 170.0L1720.3 172.0L1720.8 174.1L1721.3 176.1L1721.8 178.1L1722.3 180.1L1722.8 182.1L1723.3 184.0L1723.8 185.9L1724.3 187.7L1724.8 189.3L1725.3 190.8L1725.8 192.0L1726.3 193.1L1726.8 194.0L1727.3 194.7L1727.8 195.3L1728.3 195.7L1728.8 196.0L1729.3 196.3L1729.8 196.4L1730.3 196.5L1730.8 196.6L1731.3 196.6L1731.8 196.6L1732.3 196.6L1732.8 196.5L1733.3 196.4L1733.8 196.3L1734.3 196.2L1734.8 196.0L1735.3 195.9L1735.8 195.7L1736.3 195.6L1736.8 195.5L1737.3 195.3L1737.8 195.2L1738.3 195.2L1738.8 195.1L1739.3 195.1L1739.8 195.2L1740.3 195.3L1740.8 195.4L1741.3 195.6L1741.8 195.8L1742.3 196.0L1742.8 196.2L1743.3 196.5L1743.8 196.7L1744.3 197.0L1744.8 197.2L1745.3 197.5L1745.8 197.7L1746.3 198.0L1746.8 198.2L1747.3 198.5L1747.8 198.7L1748.3 199.0L1748.8 199.2L1749.3 199.5L1749.8 199.7L1750.3 200.0L1750.8 200.2L1751.3 200.5L1751.8 200.7L1752.3 201.0L1752.8 201.2L1753.3 201.5L1753.8 201.7L1754.3 202.0L1754.8 202.2L1755.3 202.4L1755.8 202.6L1756.3 202.8L1756.8 202.9L1757.3 202.9L1757.8 202.8L1758.3 202.6L1758.8 202.2L1759.3 201.7L1759.8 201.0L1760.3 200.1L1760.8 199.0L1761.3 197.8L1761.8 196.4L1762.3 194.8L1762.8 193.3L1763.3 191.6L1763.8 190.0L1764.3 188.3L1764.8 186.6L1765.3 184.9L1765.8 183.2L1766.3 181.5L1766.8 179.9L1767.3 178.2L1767.8 176.5L1768.3 174.9L1768.8 173.2L1769.3 171.6L1769.8 169.9L1770.3 168.3L1770.8 166.6L1771.3 165.0L1771.8 163.4L1772.3 161.7L1772.8 160.2L1773.3 158.6L1773.8 157.1L1774.3 155.6L1774.8 154.2L1775.3 152.9L1775.8 151.7L1776.3 150.6L1776.8 149.7L1777.3 148.9L1777.8 148.2L1778.3 147.6L1778.8 147.1L1779.3 146.7L1779.8 146.3L1780.3 145.9L1780.8 145.6L1781.3 145.2L1781.8 144.9L1782.3 144.4L1782.8 144.0L1783.3 143.4L1783.8 142.8L1784.3 142.1L1784.8 141.4L1785.3 140.6L1785.8 139.8L1786.3 138.9L1786.8 138.0L1787.3 137.1L1787.8 136.1L1788.3 135.0L1788.8 133.9L1789.3 132.7L1789.8 131.4L1790.3 130.0L1790.8 128.5L1791.3 126.9L1791.8 125.3L1792.3 123.7L1792.8 122.0L1793.3 120.3L1793.8 118.7L1794.3 117.0L1794.8 115.3L1795.3 113.6L1795.8 112.0L1796.3 110.4L1796.8 108.8L1797.3 107.2L1797.8 105.6L1798.3 104.0L1798.8 102.5L1799.3 100.9L1799.8 99.4L1800.3 97.9L1800.8 96.4L1801.3 94.9L1801.8 93.4L1802.3 92.0L1802.8 90.6L1803.3 89.3L1803.8 87.9L1804.3 86.7L1804.8 85.5L1805.3 84.4L1805.8 83.3L1806.3 82.4L1806.8 81.4L1807.3 80.6L1807.8 79.7L1808.3 79.0L1808.8 78.2L1809.3 77.5L1809.8 76.9L1810.3 76.3L1810.8 75.6L1811.3 75.1L1811.8 74.5L1812.3 73.9L1812.8 73.4L1813.3 72.8L1813.8 72.3L1814.3 71.8L1814.8 71.3L1815.3 70.8L1815.8 70.4L1816.3 70.0L1816.8 69.6L1817.3 69.2L1817.8 68.9L1818.3 68.6L1818.8 68.3L1819.3 68.0L1819.8 67.8L1820.3 67.7L1820.8 67.5L1821.3 67.4L1821.8 67.3L1822.3 67.3L1822.8 67.2L1823.3 67.2L1823.8 67.3L1824.3 67.4L1824.8 67.5L1825.3 67.7L1825.8 67.9L1826.3 68.2L1826.8 68.5L1827.3 68.9L1827.8 69.4L1828.3 69.9L1828.8 70.5L1829.3 71.2L1829.8 71.9L1830.3 72.7L1830.8 73.6L1831.3 74.4L1831.8 75.4L1832.3 76.3L1832.8 77.3L1833.3 78.3L1833.8 79.2L1834.3 80.2L1834.8 81.2L1835.3 82.3L1835.8 83.3L1836.3 84.3L1836.8 85.4L1837.3 86.4L1837.8 87.5L1838.3 88.5L1838.8 89.6L1839.3 90.7L1839.8 91.7L1840.3 92.8L1840.8 93.9L1841.3 95.0L1841.8 96.0L1842.3 97.1L1842.8 98.2L1843.3 99.3L1843.8 100.4L1844.3 101.5L1844.8 102.6L1845.3 103.8L1845.8 104.9L1846.3 106.0L1846.8 107.1L1847.3 108.3L1847.8 109.4L1848.3 110.6L1848.8 111.8L1849.3 112.9L1849.8 114.1L1850.3 115.4L1850.8 116.6L1851.3 117.9L1851.8 119.3L1852.3 120.7L1852.8 122.1L1853.3 123.6L1853.8 125.1L1854.3 126.7L1854.8 128.4L1855.3 130.2L1855.8 132.0L1856.3 133.9L1856.8 135.9L1857.3 137.9L1857.8 140.1L1858.3 142.2L1858.8 144.4L1859.3 146.6L1859.8 148.8L1860.3 151.1L1860.8 153.3L1861.3 155.6L1861.8 157.9L1862.3 160.1L1862.8 162.4L1863.3 164.6L1863.8 166.9L1864.3 169.1L1864.8 171.3L1865.3 173.5L1865.8 175.8L1866.3 177.9L1866.8 180.1L1867.3 182.3L1867.8 184.5L1868.3 186.7L1868.8 188.9L1869.3 191.1L1869.8 193.2L1870.3 195.3L1870.8 197.3L1871.3 199.0L1871.8 200.4" stroke="#e47f27"/>
<path d="M1182.3 265.9L1182.8 267.0L1183.3 268.4L1183.8 270.1L1184.3 271.8L1184.8 273.7L1185.3 275.5L1185.8 277.4L1186.3 279.3L1186.8 281.2L1187.3 283.0L1187.8 284.9L1188.3 286.7L1188.8 288.5L1189.3 290.4L1189.8 292.2L1190.3 294.0L1190.8 295.8L1191.3 297.7L1191.8 299.5L1192.3 301.3L1192.8 303.1L1193.3 304.9L1193.8 306.7L1194.3 308.6L1194.8 310.4L1195.3 312.2L1195.8 314.0L1196.3 315.9L1196.8 317.7L1197.3 319.5L1197.8 321.4L1198.3 323.2L1198.8 325.0L1199.3 326.8L1199.8 328.6L1200.3 330.4L1200.8 332.2L1201.3 333.9L1201.8 335.6L1202.3 337.3L1202.8 338.9L1203.3 340.4L1203.8 342.0L1204.3 343.4L1204.8 344.8L1205.3 346.1L1205.8 347.3L1206.3 348.5L1206.8 349.6L1207.3 350.6L1207.8 351.6L1208.3 352.4L1208.8 353.3L1209.3 354.0L1209.8 354.7L1210.3 355.4L1210.8 356.0L1211.3 356.6L1211.8 357.1L1212.3 357.6L1212.8 358.1L1213.3 358.5L1213.8 358.9L1214.3 359.3L1214.8 359.7L1215.3 360.1L1215.8 360.4L1216.3 360.8L1216.8 361.2L1217.3 361.5L1217.8 361.8L1218.3 362.2L1218.8 362.5L1219.3 362.8L1219.8 363.1L1220.3 363.4L1220.8 363.7L1221.3 364.0L1221.8 364.3L1222.3 364.5L1222.8 364.8L1223.3 365.0L1223.8 365.2L1224.3 365.5L1224.8 365.7L1225.3 365.9L1225.8 366.1L1226.3 366.2L1226.8 366.4L1227.3 366.5L1227.8 366.7L1228.3 366.8L1228.8 366.8L1229.3 366.9L1229.8 366.9L1230.3 366.9L1230.8 366.8L1231.3 366.8L1231.8 366.7L1232.3 366.6L1232.8 366.4L1233.3 366.2L1233.8 366.1L1234.3 365.9L1234.8 365.7L1235.3 365.4L1235.8 365.2L1236.3 365.0L1236.8 364.7L1237.3 364.5L1237.8 364.2L1238.3 364.0L1238.8 363.7L1239.3 363.4L1239.8 363.2L1240.3 362.9L1240.8 362.6L1241.3 362.4L1241.8 362.1L1242.3 361.8L1242.8 361.5L1243.3 361.2L1243.8 360.9L1244.3 360.6L1244.8 360.3L1245.3 360.0L1245.8 359.6L1246.3 359.3L1246.8 358.9L1247.3 358.5L1247.8 358.1L1248.3 357.7L1248.8 357.2L1249.3 356.7L1249.8 356.1L1250.3 355.6L1250.8 355.0L1251.3 354.3L1251.8 353.6L1252.3 352.9L1252.8 352.2L1253.3 351.4L1253.8 350.6L1254.3 349.7L1254.8 348.9L1255.3 348.0L1255.8 347.1L1256.3 346.1L1256.8 345.1L1257.3 344.2L1257.8 343.2L1258.3 342.1L1258.8 341.1L1259.3 340.1L1259.8 339.1L1260.3 338.0L1260.8 337.0L1261.3 335.9L1261.8 334.9L1262.3 333.8L1262.8 332.8L1263.3 331.7L1263.8 330.7L1264.3 329.6L1264.8 328.5L1265.3 327.5L1265.8 326.4L1266.3 325.3L1266.8 324.2L1267.3 323.1L1267.8 322.1L1268.3 321.0L1268.8 319.9L1269.3 318.8L1269.8 317.6L1270.3 316.5L1270.8 315.4L1271.3 314.3L1271.8 313.2L1272.3 312.1L1272.8 311.0L1273.3 309.9L1273.8 308.8L1274.3 307.7L1274.8 306.6L1275.3 305.5L1275.8 304.4L1276.3 303.4L1276.8 302.3L1277.3 301.3L1277.8 300.2L1278.3 299.2L1278.8 298.2L1279.3 297.2L1279.8 296.2L1280.3 295.2L1280.8 294.2L1281.3 293.2L1281.8 292.2L1282.3 291.2L1282.8 290.2L1283.3 289.2L1283.8 288.3L1284.3 287.3L1284.8 286.3L1285.3 285.3L1285.8 284.3L1286.3 283.3L1286.8 282.2L1287.3 281.2L1287.8 280.1L1288.3 279.0L1288.8 277.9L1289.3 276.8L1289.8 275.7L1290.3 274.6L1290.8 273.5L1291.3 272.5L1291.8 271.4L1292.3 270.4L1292.8 269.4L1293.3 268.5L1293.8 267.6L1294.3 266.8L1294.8 266.1L1295.3 265.5L1295.8 265.0L1296.3 264.6L1296.8 264.3L1297.3 264.0L1297.8 263.8L1298.3 263.6L1298.8 263.5L1299.3 263.3L1299.8 263.1L1300.3 262.9L1300.8 262.7L1301.3 262.5L1301.8 262.3L1302.3 262.1L1302.8 261.9L1303.3 261.7L1303.8 261.5L1304.3 261.4L1304.8 261.2L1305.3 261.1L1305.8 260.9L1306.3 260.8L1306.8 260.7L1307.3 260.6L1307.8 260.6L1308.3 260.5L1308.8 260.5L1309.3 260.6L1309.8 260.6L1310.3 260.7L1310.8 260.9L1311.3 261.1L1311.8 261.3L1312.3 261.6L1312.8 261.9L1313.3 262.2L1313.8 262.6L1314.3 263.1L1314.8 263.5L1315.3 264.0L1315.8 264.5L1316.3 265.0L1316.8 265.5L1317.3 266.0L1317.8 266.6L1318.3 267.2L1318.8 267.7L1319.3 268.3L1319.8 269.0L1320.3 269.6L1320.8 270.2L1321.3 270.9L1321.8 271.6L1322.3 272.3L1322.8 273.1L1323.3 273.8L1323.8 274.6L1324.3 275.4L1324.8 276.3L1325.3 277.2L1325.8 278.1L1326.3 279.0L1326.8 280.0L1327.3 281.0L1327.8 282.0L1328.3 283.1L1328.8 284.2L1329.3 285.4L1329.8 286.6L1330.3 287.8L1330.8 289.1L1331.3 290.3L1331.8 291.7L1332.3 293.0L1332.8 294.4L1333.3 295.8L1333.8 297.2L1334.3 298.6L1334.8 300.1L1335.3 301.6L1335.8 303.1L1336.3 304.6L1336.8 306.1L1337.3 307.6L1337.8 309.1L1338.3 310.5L1338.8 311.8L1339.3 313.1L1339.8 314.4L1340.3 315.6L1340.8 316.8L1341.3 318.0L1341.8 319.2L1342.3 320.3L1342.8 321.5L1343.3 322.6L1343.8 323.7L1344.3 324.9L1344.8 326.1L1345.3 327.2L1345.8 328.4L1346.3 329.7L1346.8 330.9L1347.3 332.2L1347.8 333.6L1348.3 334.9L1348.8 336.3L1349.3 337.7L1349.8 339.2L1350.3 340.6L1350.8 342.1L1351.3 343.6L1351.8 345.0L1352.3 346.5L1352.8 348.0L1353.3 349.4L1353.8 350.9L1354.3 352.3L1354.8 353.7L1355.3 355.1L1355.8 356.4L1356.3 357.8L1356.8 359.1L1357.3 360.4L1357.8 361.7L1358.3 363.0L1358.8 364.2L1359.3 365.5L1359.8 366.7L1360.3 367.9L1360.8 369.1L1361.3 370.3L1361.8 371.4L1362.3 372.5L1362.8 373.6L1363.3 374.7L1363.8 375.7L1364.3 376.6L1364.8 377.5L1365.3 378.4L1365.8 379.2L1366.3 379.9L1366.8 380.6L1367.3 381.3L1367.8 381.8L1368.3 382.4L1368.8 382.8L1369.3 383.2L1369.8 383.6L1370.3 383.9L1370.8 384.2L1371.3 384.4L1371.8 384.6L1372.3 384.8L1372.8 384.9L1373.3 385.0L1373.8 385.1L1374.3 385.2L1374.8 385.2L1375.3 385.2L1375.8 385.2L1376.3 385.2L1376.8 385.2L1377.3 385.1L1377.8 385.0L1378.3 384.9L1378.8 384.8L1379.3 384.7L1379.8 384.6L1380.3 384.4L1380.8 384.3L1381.3 384.2L1381.8 384.0L1382.3 383.8L1382.8 383.7L1383.3 383.5L1383.8 383.3L1384.3 383.0L1384.8 382.8L1385.3 382.6L1385.8 382.3L1386.3 382.0L1386.8 381.7L1387.3 381.3L1387.8 381.0L1388.3 380.6L1388.8 380.1L1389.3 379.7L1389.8 379.2L1390.3 378.7L1390.8 378.2L1391.3 377.7L1391.8 377.1L1392.3 376.6L1392.8 376.0L1393.3 375.4L1393.8 374.9L1394.3 374.3L1394.8 373.8L1395.3 373.2L1395.8 372.7L1396.3 372.2L1396.8 371.7L1397.3 371.2L1397.8 370.8L1398.3 370.4L1398.8 370.0L1399.3 369.6L1399.8 369.3L1400.3 368.9L1400.8 368.6L1401.3 368.3L1401.8 368.0L1402.3 367.7L1402.8 367.4L1403.3 367.2L1403.8 366.9L1404.3 366.6L1404.8 366.3L1405.3 366.1L1405.8 365.8L1406.3 365.5L1406.8 365.3L1407.3 365.0L1407.8 364.7L1408.3 364.4L1408.8 364.2L1409.3 363.9L1409.8 363.6L1410.3 363.3L1410.8 363.1L1411.3 362.8L1411.8 362.5L1412.3 362.2L1412.8 361.9L1413.3 361.5L1413.8 361.2L1414.3 360.9L1414.8 360.5L1415.3 360.2L1415.8 359.8L1416.3 359.5L1416.8 359.1L1417.3 358.7L1417.8 358.3L1418.3 357.9L1418.8 357.5L1419.3 357.0L1419.8 356.6L1420.3 356.1L1420.8 355.6L1421.3 355.0L1421.8 354.3L1422.3 353.6L1422.8 352.8L1423.3 352.0L1423.8 351.1L1424.3 350.1L1424.8 349.0L1425.3 347.9L1425.8 346.7L1426.3 345.4L1426.8 344.0L1427.3 342.6L1427.8 341.1L1428.3 339.5L1428.8 338.0L1429.3 336.4L1429.8 334.8L1430.3 333.2L1430.8 331.6L1431.3 329.9L1431.8 328.3L1432.3 326.7L1432.8 325.1L1433.3 323.4L1433.8 321.8L1434.3 320.2L1434.8 318.5L1435.3 316.9L1435.8 315.2L1436.3 313.6L1436.8 311.9L1437.3 310.3L1437.8 308.6L1438.3 307.0L1438.8 305.3L1439.3 303.6L1439.8 302.0L1440.3 300.4L1440.8 298.8L1441.3 297.2L1441.8 295.8L1442.3 294.4L1442.8 293.2L1443.3 292.0L1443.8 290.9L1444.3 290.0L1444.8 289.0L1445.3 288.2L1445.8 287.3L1446.3 286.5L1446.8 285.6L1447.3 284.7L1447.8 283.8L1448.3 282.7L1448.8 281.6L1449.3 280.4L1449.8 279.1L1450.3 277.6L1450.8 276.0L1451.3 274.2L1451.8 272.2L1452.3 270.0L1452.8 267.5L1453.3 264.8L1453.8 261.8L1454.3 258.7L1454.8 255.5L1455.3 252.2L1455.8 248.9L1456.3 245.7L1456.8 242.6L1457.3 239.6L1457.8 236.7L1458.3 234.1L1458.8 231.7L1459.3 229.7L1459.8 227.9L1460.3 226.5L1460.8 225.3L1461.3 224.3L1461.8 223.5L1462.3 222.8L1462.8 222.2L1463.3 221.6L1463.8 221.1L1464.3 220.6L1464.8 220.0L1465.3 219.3L1465.8 218.6L1466.3 217.7L1466.8 216.8L1467.3 215.8L1467.8 214.7L1468.3 213.6L1468.8 212.5L1469.3 211.4L1469.8 210.3L1470.3 209.2L1470.8 208.2L1471.3 207.3L1471.8 206.4L1472.3 205.6L1472.8 204.9L1473.3 204.2L1473.8 203.7L1474.3 203.1L1474.8 202.7L1475.3 202.2L1475.8 201.7L1476.3 201.2L1476.8 200.6L1477.3 200.0L1477.8 199.2L1478.3 198.4L1478.8 197.6L1479.3 196.6L1479.8 195.7L1480.3 194.7L1480.8 193.7L1481.3 192.6L1481.8 191.6L1482.3 190.6L1482.8 189.7L1483.3 188.8L1483.8 187.9L1484.3 187.0L1484.8 186.2L1485.3 185.5L1485.8 184.7L1486.3 184.0L1486.8 183.4L1487.3 182.7L1487.8 182.2L1488.3 181.6L1488.8 181.1L1489.3 180.7L1489.8 180.3L1490.3 179.9L1490.8 179.7L1491.3 179.5L1491.8 179.3L1492.3 179.3L1492.8 179.3L1493.3 179.3L1493.8 179.5L1494.3 179.7L1494.8 179.9L1495.3 180.2L1495.8 180.5L1496.3 180.9L1496.8 181.4L1497.3 181.9L1497.8 182.5L1498.3 183.2L1498.8 184.0L1499.3 184.9L1499.8 185.8L1500.3 186.9L1500.8 188.2L1501.3 189.5L1501.8 190.9L1502.3 192.4L1502.8 194.0L1503.3 195.6L1503.8 197.4L1504.3 199.2L1504.8 201.1L1505.3 203.0L1505.8 205.1L1506.3 207.1L1506.8 209.1L1507.3 211.1L1507.8 212.8L1508.3 214.4L1508.8 215.8L1509.3 216.9L1509.8 217.7L1510.3 218.4L1510.8 218.8L1511.3 219.2L1511.8 219.5L1512.3 219.9L1512.8 220.3L1513.3 220.8L1513.8 221.5L1514.3 222.3L1514.8 223.3L1515.3 224.3L1515.8 225.4L1516.3 226.5L1516.8 227.7L1517.3 228.8L1517.8 230.0L1518.3 231.1L1518.8 232.3L1519.3 233.5L1519.8 234.6L1520.3 235.7L1520.8 236.9L1521.3 238.0L1521.8 239.2L1522.3 240.3L1522.8 241.4L1523.3 242.6L1523.8 243.7L1524.3 244.8L1524.8 246.0L1525.3 247.1L1525.8 248.2L1526.3 249.4L1526.8 250.6L1527.3 251.8L1527.8 253.1L1528.3 254.5L1528.8 255.9L1529.3 257.4L1529.8 259.1L1530.3 260.8L1530.8 262.5L1531.3 264.2L1531.8 266.0L1532.3 267.7L1532.8 269.4L1533.3 271.0L1533.8 272.6L1534.3 274.1L1534.8 275.6L1535.3 277.1L1535.8 278.5L1536.3 279.9L1536.8 281.3L1537.3 282.5L1537.8 283.7L1538.3 284.9L1538.8 285.9L1539.3 286.9L1539.8 287.8L1540.3 288.7L1540.8 289.5L1541.3 290.3L1541.8 291.1L1542.3 291.9L1542.8 292.6L1543.3 293.3L1543.8 294.0L1544.3 294.7L1544.8 295.3L1545.3 296.0L1545.8 296.7L1546.3 297.3L1546.8 298.0L1547.3 298.6L1547.8 299.2L1548.3 299.9L1548.8 300.5L1549.3 301.1L1549.8 301.7L1550.3 302.3L1550.8 303.0L1551.3 303.6L1551.8 304.1L1552.3 304.7L1552.8 305.3L1553.3 305.9L1553.8 306.4L1554.3 307.0L1554.8 307.5L1555.3 308.0L1555.8 308.5L1556.3 309.0L1556.8 309.4L1557.3 309.8L1557.8 310.1L1558.3 310.4L1558.8 310.7L1559.3 310.9L1559.8 311.1L1560.3 311.3L1560.8 311.4L1561.3 311.5L1561.8 311.6L1562.3 311.6L1562.8 311.6L1563.3 311.6L1563.8 311.6L1564.3 311.5L1564.8 311.4L1565.3 311.2L1565.8 311.1L1566.3 310.9L1566.8 310.6L1567.3 310.4L1567.8 310.1L1568.3 309.8L1568.8 309.5L1569.3 309.2L1569.8 308.8L1570.3 308.5L1570.8 308.1L1571.3 307.7L1571.8 307.2L1572.3 306.8L1572.8 306.3L1573.3 305.8L1573.8 305.3L1574.3 304.8L1574.8 304.2L1575.3 303.6L1575.8 303.0L1576.3 302.4L1576.8 301.8L1577.3 301.1L1577.8 300.4L1578.3 299.7L1578.8 299.0L1579.3 298.2L1579.8 297.4L1580.3 296.6L1580.8 295.8L1581.3 294.9L1581.8 294.0L1582.3 293.0L1582.8 292.0L1583.3 291.0L1583.8 289.9L1584.3 288.8L1584.8 287.6L1585.3 286.4L1585.8 285.2L1586.3 283.9L1586.8 282.6L1587.3 281.3L1587.8 279.9L1588.3 278.5L1588.8 277.0L1589.3 275.5L1589.8 273.9L1590.3 272.3L1590.8 270.7L1591.3 268.9L1591.8 267.2L1592.3 265.4L1592.8 263.5L1593.3 261.6L1593.8 259.5L1594.3 257.4L1594.8 255.3L1595.3 253.0L1595.8 250.8L1596.3 248.6L1596.8 246.5L1597.3 244.6L1597.8 242.8L1598.3 241.1L1598.8 239.6L1599.3 238.1L1599.8 236.7L1600.3 235.3L1600.8 234.0L1601.3 232.7L1601.8 231.4L1602.3 230.2L1602.8 228.9L1603.3 227.7L1603.8 226.5L1604.3 225.3L1604.8 224.2L1605.3 223.1L1605.8 222.0L1606.3 220.9L1606.8 219.8L1607.3 218.6L1607.8 217.3L1608.3 216.0L1608.8 214.5L1609.3 212.8L1609.8 210.9L1610.3 208.7L1610.8 206.3L1611.3 203.7L1611.8 200.9L1612.3 197.9L1612.8 194.8L1613.3 191.6L1613.8 188.4L1614.3 185.1L1614.8 181.8L1615.3 178.5L1615.8 175.3L1616.3 172.2L1616.8 169.2L1617.3 166.3L1617.8 163.4L1618.3 160.6L1618.8 157.9L1619.3 155.1L1619.8 152.4L1620.3 149.8L1620.8 147.1L1621.3 144.5L1621.8 141.9L1622.3 139.3L1622.8 136.7L1623.3 134.1L1623.8 131.6L1624.3 129.1L1624.8 126.5L1625.3 124.0L1625.8 121.5L1626.3 119.1L1626.8 116.6L1627.3 114.2L1627.8 111.9L1628.3 109.5L1628.8 107.2L1629.3 104.9L1629.8 102.7L1630.3 100.5L1630.8 98.3L1631.3 96.2L1631.8 94.0L1632.3 91.9L1632.8 89.9L1633.3 87.8L1633.8 85.8L1634.3 83.7L1634.8 81.7L1635.3 79.8L1635.8 77.8L1636.3 75.9L1636.8 74.0L1637.3 72.1L1637.8 70.3L1638.3 68.5L1638.8 66.8L1639.3 65.1L1639.8 63.5L1640.3 62.0L1640.8 60.5L1641.3 59.1L1641.8 57.8L1642.3 56.5L1642.8 55.2L1643.3 54.0L1643.8 52.7L1644.3 51.4L1644.8 50.0L1645.3 48.6L1645.8 47.2L1646.3 45.6L1646.8 44.0L1647.3 42.3L1647.8 40.6L1648.3 38.9L1648.8 37.2L1649.3 35.5L1649.8 33.8L1650.3 32.1L1650.8 30.6L1651.3 29.1L1651.8 27.7L1652.3 26.4L1652.8 25.2L1653.3 24.2L1653.8 23.2L1654.3 22.5L1654.8 21.9L1655.3 21.4L1655.8 21.0L1656.3 20.7L1656.8 20.4L1657.3 20.2L1657.8 20.0L1658.3 19.8L1658.8 19.6L1659.3 19.4L1659.8 19.2L1660.3 18.9L1660.8 18.6L1661.3 18.3L1661.8 18.0L1662.3 17.6L1662.8 17.3L1663.3 16.9L1663.8 16.6L1664.3 16.3L1664.8 16.0L1665.3 15.8L1665.8 15.8L1666.3 15.9L1666.8 16.1L1667.3 16.5L1667.8 17.1L1668.3 17.9L1668.8 18.9L1669.3 20.0L1669.8 21.3L1670.3 22.6L1670.8 24.1L1671.3 25.7L1671.8 27.3L1672.3 28.9L1672.8 30.6L1673.3 32.2L1673.8 33.9L1674.3 35.5L1674.8 37.2L1675.3 38.8L1675.8 40.5L1676.3 42.0L1676.8 43.6L1677.3 45.1L1677.8 46.6L1678.3 48.1L1678.8 49.6L1679.3 51.1L1679.8 52.8L1680.3 54.6L1680.8 56.5L1681.3 58.6L1681.8 60.9L1682.3 63.3L1682.8 65.8L1683.3 68.3L1683.8 70.9L1684.3 73.6L1684.8 76.2L1685.3 78.9L1685.8 81.5L1686.3 84.2L1686.8 86.8L1687.3 89.5L1687.8 92.1L1688.3 94.7L1688.8 97.4L1689.3 100.0L1689.8 102.7L1690.3 105.3L1690.8 108.0L1691.3 110.6L1691.8 113.3L1692.3 115.9L1692.8 118.5L1693.3 121.2L1693.8 123.7L1694.3 126.3L1694.8 128.8L1695.3 131.2L1695.8 133.6L1696.3 135.9L1696.8 138.2L1697.3 140.3L1697.8 142.4L1698.3 144.4L1698.8 146.3L1699.3 148.1L1699.8 149.8L1700.3 151.5L1700.8 153.2L1701.3 154.7L1701.8 156.3L1702.3 157.8L1702.8 159.3L1703.3 160.8L1703.8 162.3L1704.3 163.7L1704.8 165.2L1705.3 166.7L1705.8 168.2L1706.3 169.7L1706.8 171.2L1707.3 172.8L1707.8 174.3L1708.3 175.9L1708.8 177.6L1709.3 179.2L1709.8 180.8L1710.3 182.5L1710.8 184.2L1711.3 186.0L1711.8 187.8L1712.3 189.7L1712.8 191.7L1713.3 193.9L1713.8 196.4L1714.3 199.0L1714.8 201.8L1715.3 204.7L1715.8 207.5L1716.3 210.3L1716.8 213.0L1717.3 215.5L1717.8 217.7L1718.3 219.9L1718.8 221.9L1719.3 223.8L1719.8 225.6L1720.3 227.3L1720.8 228.9L1721.3 230.4L1721.8 231.9L1722.3 233.3L1722.8 234.6L1723.3 235.9L1723.8 237.1L1724.3 238.3L1724.8 239.4L1725.3 240.5L1725.8 241.5L1726.3 242.5L1726.8 243.5L1727.3 244.3L1727.8 245.2L1728.3 246.0L1728.8 246.7L1729.3 247.4L1729.8 248.0L1730.3 248.6L1730.8 249.3L1731.3 249.8L1731.8 250.4L1732.3 251.0L1732.8 251.5L1733.3 252.0L1733.8 252.5L1734.3 252.9L1734.8 253.3L1735.3 253.7L1735.8 254.0L1736.3 254.3L1736.8 254.6L1737.3 254.8L1737.8 255.1L1738.3 255.3L1738.8 255.5L1739.3 255.7L1739.8 255.9L1740.3 256.2L1740.8 256.4L1741.3 256.6L1741.8 256.8L1742.3 257.0L1742.8 257.3L1743.3 257.5L1743.8 257.8L1744.3 258.1L1744.8 258.5L1745.3 258.8L1745.8 259.2L1746.3 259.5L1746.8 259.9L1747.3 260.2L1747.8 260.5L1748.3 260.7L1748.8 260.8L1749.3 260.9L1749.8 261.0L1750.3 260.9L1750.8 260.8L1751.3 260.6L1751.8 260.3L1752.3 260.0L1752.8 259.7L1753.3 259.3L1753.8 258.8L1754.3 258.4L1754.8 258.0L1755.3 257.5L1755.8 257.1L1756.3 256.7L1756.8 256.3L1757.3 255.9L1757.8 255.5L1758.3 255.1L1758.8 254.8L1759.3 254.4L1759.8 254.0L1760.3 253.6L1760.8 253.2L1761.3 252.7L1761.8 252.2L1762.3 251.7L1762.8 251.0L1763.3 250.3L1763.8 249.5L1764.3 248.5L1764.8 247.3L1765.3 246.0L1765.8 244.6L1766.3 243.0L1766.8 241.4L1767.3 239.7L1767.8 238.0L1768.3 236.2L1768.8 234.4L1769.3 232.6L1769.8 230.8L1770.3 228.9L1770.8 227.0L1771.3 225.0L1771.8 223.1L1772.3 221.2L1772.8 219.4L1773.3 217.6L1773.8 215.9L1774.3 214.4L1774.8 212.9L1775.3 211.5L1775.8 210.2L1776.3 208.9L1776.8 207.7L1777.3 206.5L1777.8 205.4L1778.3 204.2L1778.8 203.0L1779.3 201.9L1779.8 200.7L1780.3 199.5L1780.8 198.3L1781.3 197.1L1781.8 195.8L1782.3 194.6L1782.8 193.4L1783.3 192.1L1783.8 190.9L1784.3 189.6L1784.8 188.4L1785.3 187.1L1785.8 185.8L1786.3 184.5L1786.8 183.2L1787.3 181.8L1787.8 180.4L1788.3 179.0L1788.8 177.6L1789.3 176.1L1789.8 174.6L1790.3 173.1L1790.8 171.6L1791.3 170.0L1791.8 168.4L1792.3 166.8L1792.8 165.1L1793.3 163.5L1793.8 161.8L1794.3 160.1L1794.8 158.3L1795.3 156.6L1795.8 154.8L1796.3 152.9L1796.8 151.1L1797.3 149.3L1797.8 147.4L1798.3 145.6L1798.8 143.8L1799.3 142.0L1799.8 140.2L1800.3 138.4L1800.8 136.7L1801.3 134.9L1801.8 133.2L1802.3 131.6L1802.8 129.9L1803.3 128.2L1803.8 126.6L1804.3 125.0L1804.8 123.4L1805.3 121.9L1805.8 120.3L1806.3 118.8L1806.8 117.4L1807.3 115.9L1807.8 114.6L1808.3 113.3L1808.8 112.0L1809.3 110.9L1809.8 109.8L1810.3 108.8L1810.8 107.9L1811.3 107.1L1811.8 106.2L1812.3 105.5L1812.8 104.8L1813.3 104.1L1813.8 103.4L1814.3 102.8L1814.8 102.2L1815.3 101.6L1815.8 101.1L1816.3 100.5L1816.8 100.0L1817.3 99.5L1817.8 99.1L1818.3 98.6L1818.8 98.3L1819.3 97.9L1819.8 97.6L1820.3 97.4L1820.8 97.2L1821.3 97.1L1821.8 97.0L1822.3 97.0L1822.8 97.1L1823.3 97.2L1823.8 97.5L1824.3 97.8L1824.8 98.1L1825.3 98.6L1825.8 99.1L1826.3 99.7L1826.8 100.4L1827.3 101.2L1827.8 102.0L1828.3 102.9L1828.8 103.9L1829.3 104.9L1829.8 106.0L1830.3 107.2L1830.8 108.4L1831.3 109.6L1831.8 110.9L1832.3 112.2L1832.8 113.6L1833.3 114.9L1833.8 116.3L1834.3 117.6L1834.8 118.9L1835.3 120.2L1835.8 121.4L1836.3 122.6L1836.8 123.6L1837.3 124.7L1837.8 125.6L1838.3 126.5L1838.8 127.4L1839.3 128.4L1839.8 129.3L1840.3 130.4L1840.8 131.5L1841.3 132.8L1841.8 134.1L1842.3 135.6L1842.8 137.1L1843.3 138.7L1843.8 140.4L1844.3 142.0L1844.8 143.7L1845.3 145.3L1845.8 147.0L1846.3 148.6L1846.8 150.3L1847.3 151.9L1847.8 153.6L1848.3 155.2L1848.8 156.9L1849.3 158.5L1849.8 160.2L1850.3 161.8L1850.8 163.5L1851.3 165.1L1851.8 166.8L1852.3 168.4L1852.8 170.1L1853.3 171.9L1853.8 173.6L1854.3 175.5L1854.8 177.5L1855.3 179.6L1855.8 181.8L1856.3 184.1L1856.8 186.5L1857.3 189.0L1857.8 191.6L1858.3 194.3L1858.8 197.1L1859.3 199.9L1859.8 202.9L1860.3 206.0L1860.8 209.1L1861.3 212.3L1861.8 215.5L1862.3 218.6L1862.8 221.7L1863.3 224.7L1863.8 227.6L1864.3 230.5L1864.8 233.2L1865.3 236.0L1865.8 238.7L1866.3 241.4L1866.8 244.1L1867.3 246.7L1867.8 249.3L1868.3 251.8L1868.8 254.2L1869.3 256.5L1869.8 258.6L1870.3 260.4L1870.8 261.8" stroke="#5ba346"/>
</g>
<line x1="1180.7" y1="22.3" x2="1185.7" y2="22.3" stroke="#222" stroke-width="1.6"/>
<line x1="1866.9" y1="22.3" x2="1871.9" y2="22.3" stroke="#222" stroke-width="1.6"/>
<line x1="1180.7" y1="68.2" x2="1185.7" y2="68.2" stroke="#222" stroke-width="1.6"/>
<line x1="1866.9" y1="68.2" x2="1871.9" y2="68.2" stroke="#222" stroke-width="1.6"/>
<line x1="1180.7" y1="114.1" x2="1185.7" y2="114.1" stroke="#222" stroke-width="1.6"/>
<line x1="1866.9" y1="114.1" x2="1871.9" y2="114.1" stroke="#222" stroke-width="1.6"/>
<line x1="1180.7" y1="160.1" x2="1185.7" y2="160.1" stroke="#222" stroke-width="1.6"/>
<line x1="1866.9" y1="160.1" x2="1871.9" y2="160.1" stroke="#222" stroke-width="1.6"/>
<line x1="1180.7" y1="206.0" x2="1185.7" y2="206.0" stroke="#222" stroke-width="1.6"/>
<line x1="1866.9" y1="206.0" x2="1871.9" y2="206.0" stroke="#222" stroke-width="1.6"/>
<line x1="1180.7" y1="251.9" x2="1185.7" y2="251.9" stroke="#222" stroke-width="1.6"/>
<line x1="1866.9" y1="251.9" x2="1871.9" y2="251.9" stroke="#222" stroke-width="1.6"/>
<line x1="1180.7" y1="297.9" x2="1185.7" y2="297.9" stroke="#222" stroke-width="1.6"/>
<line x1="1866.9" y1="297.9" x2="1871.9" y2="297.9" stroke="#222" stroke-width="1.6"/>
<line x1="1180.7" y1="343.8" x2="1185.7" y2="343.8" stroke="#222" stroke-width="1.6"/>
<line x1="1866.9" y1="343.8" x2="1871.9" y2="343.8" stroke="#222" stroke-width="1.6"/>
<line x1="1180.7" y1="389.7" x2="1185.7" y2="389.7" stroke="#222" stroke-width="1.6"/>
<line x1="1866.9" y1="389.7" x2="1871.9" y2="389.7" stroke="#222" stroke-width="1.6"/>
<line x1="1180.7" y1="389.7" x2="1180.7" y2="384.7" stroke="#222" stroke-width="1.6"/>
<line x1="1180.7" y1="4.0" x2="1180.7" y2="9.0" stroke="#222" stroke-width="1.6"/>
<line x1="1368.1" y1="389.7" x2="1368.1" y2="384.7" stroke="#222" stroke-width="1.6"/>
<line x1="1368.1" y1="4.0" x2="1368.1" y2="9.0" stroke="#222" stroke-width="1.6"/>
<line x1="1555.6" y1="389.7" x2="1555.6" y2="384.7" stroke="#222" stroke-width="1.6"/>
<line x1="1555.6" y1="4.0" x2="1555.6" y2="9.0" stroke="#222" stroke-width="1.6"/>
<line x1="1743.0" y1="389.7" x2="1743.0" y2="384.7" stroke="#222" stroke-width="1.6"/>
<line x1="1743.0" y1="4.0" x2="1743.0" y2="9.0" stroke="#222" stroke-width="1.6"/>
<rect x="1180.7" y="4.0" width="691.2" height="385.7" fill="none" stroke="#b4b4b4" stroke-width="1.3"/>
<rect x="1180.7" y="4.0" width="67.7" height="68.2" fill="#fff"/>
<path d="M1248.4 4.0V72.2H1180.7" fill="none" stroke="#1a1a1a" stroke-width="1.4"/>
<path d="M1180.7 72.2V4.0H1248.4" fill="none" stroke="#b4b4b4" stroke-width="1.3"/>
<text x="1194.7" y="48.3" fill="#000" font-weight="bold"><tspan font-size="35">b</tspan><tspan font-size="40.5" dx="1.5">)</tspan></text>
<text transform="translate(80.6,37.2) scale(0.895,1)" font-size="30" fill="#4576b6" text-anchor="middle">400</text>
<text transform="translate(80.6,82.6) scale(0.895,1)" font-size="30" fill="#4576b6" text-anchor="middle">300</text>
<text transform="translate(80.6,127.9) scale(0.895,1)" font-size="30" fill="#4576b6" text-anchor="middle">200</text>
<text transform="translate(80.6,173.3) scale(0.895,1)" font-size="30" fill="#4576b6" text-anchor="middle">100</text>
<text transform="translate(80.6,218.7) scale(0.895,1)" font-size="30" fill="#4576b6" text-anchor="middle">0</text>
<text transform="translate(80.6,264.1) scale(0.895,1)" font-size="30" fill="#4576b6" text-anchor="middle">-100</text>
<text transform="translate(80.6,309.5) scale(0.895,1)" font-size="30" fill="#4576b6" text-anchor="middle">-200</text>
<text transform="translate(80.6,354.8) scale(0.895,1)" font-size="30" fill="#4576b6" text-anchor="middle">-300</text>
<text transform="translate(80.6,400.2) scale(0.895,1)" font-size="30" fill="#4576b6" text-anchor="middle">-400</text>
<text transform="translate(887.2,37.2) scale(0.895,1)" font-size="30" fill="#c0282e" text-anchor="middle">150.0</text>
<text transform="translate(887.2,82.6) scale(0.895,1)" font-size="30" fill="#c0282e" text-anchor="middle">112.5</text>
<text transform="translate(887.2,127.9) scale(0.895,1)" font-size="30" fill="#c0282e" text-anchor="middle">75.0</text>
<text transform="translate(887.2,173.3) scale(0.895,1)" font-size="30" fill="#c0282e" text-anchor="middle">37.5</text>
<text transform="translate(887.2,218.7) scale(0.895,1)" font-size="30" fill="#c0282e" text-anchor="middle">0.0</text>
<text transform="translate(887.2,264.1) scale(0.895,1)" font-size="30" fill="#c0282e" text-anchor="middle">-37.5</text>
<text transform="translate(887.2,309.5) scale(0.895,1)" font-size="30" fill="#c0282e" text-anchor="middle">-75.0</text>
<text transform="translate(887.2,354.8) scale(0.895,1)" font-size="30" fill="#c0282e" text-anchor="middle">-112.5</text>
<text transform="translate(887.2,400.2) scale(0.895,1)" font-size="30" fill="#c0282e" text-anchor="middle">-150.0</text>
<text transform="translate(1139.0,32.9) scale(0.895,1)" font-size="30" fill="#5ba346" text-anchor="middle">400</text>
<text transform="translate(1139.0,78.8) scale(0.895,1)" font-size="30" fill="#5ba346" text-anchor="middle">350</text>
<text transform="translate(1139.0,124.7) scale(0.895,1)" font-size="30" fill="#5ba346" text-anchor="middle">300</text>
<text transform="translate(1139.0,170.7) scale(0.895,1)" font-size="30" fill="#5ba346" text-anchor="middle">250</text>
<text transform="translate(1139.0,216.6) scale(0.895,1)" font-size="30" fill="#5ba346" text-anchor="middle">200</text>
<text transform="translate(1139.0,262.5) scale(0.895,1)" font-size="30" fill="#5ba346" text-anchor="middle">150</text>
<text transform="translate(1139.0,308.5) scale(0.895,1)" font-size="30" fill="#5ba346" text-anchor="middle">100</text>
<text transform="translate(1139.0,354.4) scale(0.895,1)" font-size="30" fill="#5ba346" text-anchor="middle">50</text>
<text transform="translate(1139.0,400.3) scale(0.895,1)" font-size="30" fill="#5ba346" text-anchor="middle">0</text>
<text transform="translate(1912.2,32.9) scale(0.895,1)" font-size="30" fill="#e47f27" text-anchor="middle">8.9</text>
<text transform="translate(1912.2,78.8) scale(0.895,1)" font-size="30" fill="#e47f27" text-anchor="middle">7.8</text>
<text transform="translate(1912.2,124.7) scale(0.895,1)" font-size="30" fill="#e47f27" text-anchor="middle">6.7</text>
<text transform="translate(1912.2,170.7) scale(0.895,1)" font-size="30" fill="#e47f27" text-anchor="middle">5.6</text>
<text transform="translate(1912.2,216.6) scale(0.895,1)" font-size="30" fill="#e47f27" text-anchor="middle">4.4</text>
<text transform="translate(1912.2,262.5) scale(0.895,1)" font-size="30" fill="#e47f27" text-anchor="middle">3.3</text>
<text transform="translate(1912.2,308.5) scale(0.895,1)" font-size="30" fill="#e47f27" text-anchor="middle">2.2</text>
<text transform="translate(1912.2,354.4) scale(0.895,1)" font-size="30" fill="#e47f27" text-anchor="middle">1.1</text>
<text transform="translate(1912.2,400.3) scale(0.895,1)" font-size="30" fill="#e47f27" text-anchor="middle">0.0</text>
<text transform="translate(128.9,424.2) scale(0.895,1)" font-size="30" fill="#000" text-anchor="middle">0</text>
<text transform="translate(1180.7,424.2) scale(0.895,1)" font-size="30" fill="#000" text-anchor="middle">0</text>
<text transform="translate(316.2,424.2) scale(0.895,1)" font-size="30" fill="#000" text-anchor="middle">20</text>
<text transform="translate(1368.1,424.2) scale(0.895,1)" font-size="30" fill="#000" text-anchor="middle">20</text>
<text transform="translate(503.5,424.2) scale(0.895,1)" font-size="30" fill="#000" text-anchor="middle">40</text>
<text transform="translate(1555.6,424.2) scale(0.895,1)" font-size="30" fill="#000" text-anchor="middle">40</text>
<text transform="translate(690.7,424.2) scale(0.895,1)" font-size="30" fill="#000" text-anchor="middle">60</text>
<text transform="translate(1743.0,424.2) scale(0.895,1)" font-size="30" fill="#000" text-anchor="middle">60</text>
<text x="471.5" y="471.1" fill="#000" text-anchor="middle"><tspan font-size="31" font-style="italic">t</tspan><tspan dx="14" font-size="38.5" dy="0.8">[</tspan><tspan font-size="29.5" dx="0.5" dy="-0.8">ns</tspan><tspan font-size="38.5" dx="0.5" dy="0.8">]</tspan></text>
<text x="1524.5" y="471.1" fill="#000" text-anchor="middle"><tspan font-size="31" font-style="italic">t</tspan><tspan dx="14" font-size="38.5" dy="0.8">[</tspan><tspan font-size="29.5" dx="0.5" dy="-0.8">ns</tspan><tspan font-size="38.5" dx="0.5" dy="0.8">]</tspan></text>
<g transform="translate(31.1,200.0) rotate(-90)" fill="#4576b6">
<text x="-52.5" y="0.0" font-size="36" fill="#4576b6" text-anchor="start" font-style="italic">V</text>
<text x="-31.0" y="5.8" font-size="25.5" fill="#4576b6" text-anchor="start" textLength="26.5" lengthAdjust="spacingAndGlyphs">RF</text>
<text x="10.0" y="2.0" font-size="39" fill="#4576b6" text-anchor="start" >[</text>
<text x="19.5" y="0.0" font-size="33" fill="#4576b6" text-anchor="start" >V</text>
<text x="40.0" y="2.0" font-size="39" fill="#4576b6" text-anchor="start" >]</text>
</g>
<g transform="translate(1095.7,200.0) rotate(-90)" fill="#5ba346">
<text x="-49.0" y="0.0" font-size="35.5" fill="#5ba346" text-anchor="start" font-style="italic">V</text>
<text x="-29.0" y="5.7" font-size="25" fill="#5ba346" text-anchor="start" textLength="20" lengthAdjust="spacingAndGlyphs">sh</text>
<text x="5.0" y="0.8" font-size="39" fill="#5ba346" text-anchor="start" >[</text>
<text x="14.5" y="0.0" font-size="33" fill="#5ba346" text-anchor="start" >V</text>
<text x="35.0" y="0.8" font-size="39" fill="#5ba346" text-anchor="start" >]</text>
</g>
<g transform="translate(953.5,195.0) rotate(90)" fill="#c0282e">
<text x="-41.5" y="1.0" font-size="37" fill="#c0282e" text-anchor="start" font-style="italic">J</text>
<text x="-10.5" y="2.1" font-size="39" fill="#c0282e" text-anchor="start" >[</text>
<text x="16.2" y="-13.5" font-size="26" fill="#c0282e" text-anchor="middle" >A</text>
<line x1="1.4" y1="-8.5" x2="31.1" y2="-8.5" stroke="#c0282e" stroke-width="1.5"/>
<text x="1.5" y="13.3" font-size="23" fill="#c0282e" text-anchor="start" >m</text>
<text x="20.5" y="5.8" font-size="17" fill="#c0282e" text-anchor="start" >2</text>
<text x="33.3" y="2.1" font-size="39" fill="#c0282e" text-anchor="start" >]</text>
</g>
<g transform="translate(1957.2,193.0) rotate(90)" fill="#e47f27">
<text x="-78.5" y="0.0" font-size="36" fill="#e47f27" text-anchor="start" font-style="italic">Q</text>
<text x="-40.3" y="1.0" font-size="39" fill="#e47f27" text-anchor="start" >[</text>
<text x="-30.5" y="0.0" font-size="34" fill="#e47f27" text-anchor="start" >10</text>
<text x="2.6" y="-12.7" font-size="26" fill="#e47f27" text-anchor="start" >-7</text>
<text x="53.0" y="-15.4" font-size="25" fill="#e47f27" text-anchor="middle" >As</text>
<line x1="38.3" y1="-9.4" x2="68.5" y2="-9.4" stroke="#e47f27" stroke-width="1.5"/>
<text x="53.0" y="11.5" font-size="20" fill="#e47f27" text-anchor="middle" >m</text>
<text x="70.4" y="1.0" font-size="39" fill="#e47f27" text-anchor="start" >]</text>
</g>
<rect x="759.8" y="563.6" width="384.3" height="385.1" fill="url(#gd)"/>
<path d="M277.6 564.2 L276.4 600 L274.6 635 L272.9 660" fill="none" stroke="#ee8a30" stroke-width="1.4" opacity="0.4"/>
<path d="M281.5 564.2 L281 600 L280.5 625" fill="none" stroke="#8a1a1e" stroke-width="2.5" opacity="0.15"/>
<line x1="128.6" y1="858.1" x2="512.9" y2="858.1" stroke="#d0d0d0" stroke-width="0.9" stroke-dasharray="3.4 1.6" opacity="0.7"/>
<line x1="128.6" y1="767.5" x2="512.9" y2="767.5" stroke="#d0d0d0" stroke-width="0.9" stroke-dasharray="3.4 1.6" opacity="0.7"/>
<line x1="128.6" y1="676.9" x2="512.9" y2="676.9" stroke="#d0d0d0" stroke-width="0.9" stroke-dasharray="3.4 1.6" opacity="0.7"/>
<line x1="128.6" y1="586.3" x2="512.9" y2="586.3" stroke="#d0d0d0" stroke-width="0.9" stroke-dasharray="3.4 1.6" opacity="0.7"/>
<line x1="232.8" y1="563.6" x2="232.8" y2="948.7" stroke="#d0d0d0" stroke-width="0.9" stroke-dasharray="3.4 1.6" opacity="0.7"/>
<line x1="337.0" y1="563.6" x2="337.0" y2="948.7" stroke="#d0d0d0" stroke-width="0.9" stroke-dasharray="3.4 1.6" opacity="0.7"/>
<line x1="441.3" y1="563.6" x2="441.3" y2="948.7" stroke="#d0d0d0" stroke-width="0.9" stroke-dasharray="3.4 1.6" opacity="0.7"/>
<path d="M128.6 754.7L129.1 755.9L129.6 757.1L130.0 758.5L130.5 759.9L131.0 761.5L131.5 763.1L132.0 764.8L132.4 766.6L132.9 768.5L133.4 770.4L133.9 772.5L134.4 774.7L134.9 777.0L135.3 779.4L135.8 781.9L136.3 784.4L136.8 786.9L137.3 789.5L137.7 792.1L138.2 794.6L138.7 797.2L139.2 799.8L139.7 802.4L140.1 804.9L140.6 807.5L141.1 810.0L141.6 812.6L142.1 815.1L142.5 817.7L143.0 820.2L143.5 822.8L144.0 825.3L144.5 827.8L145.0 830.4L145.4 832.9L145.9 835.4L146.4 837.9L146.9 840.3L147.4 842.6L147.8 844.8L148.3 846.9L148.8 848.8L149.3 850.7L149.8 852.5L150.2 854.3L150.7 856.0L151.2 857.7L151.7 859.4L152.2 860.9L152.6 862.5L153.1 863.9L153.6 865.4L154.1 866.8L154.6 868.1L155.1 869.3L155.5 870.3L156.0 871.1L156.5 871.7L157.0 872.0L157.5 872.1L157.9 871.8L158.4 871.2L158.9 870.4L159.4 869.3L159.9 868.1L160.3 866.6L160.8 864.9L161.3 863.1L161.8 861.2L162.3 859.3L162.7 857.4L163.2 855.5L163.7 853.6L164.2 851.6L164.7 849.7L165.2 847.8L165.6 845.9L166.1 843.9L166.6 842.0L167.1 840.1L167.6 838.2L168.0 836.2L168.5 834.3L169.0 832.4L169.5 830.5L170.0 828.6L170.4 826.7L170.9 824.7L171.4 822.8L171.9 820.9L172.4 819.0L172.8 817.1L173.3 815.1L173.8 813.2L174.3 811.3L174.8 809.4L175.3 807.5L175.7 805.6L176.2 803.7L176.7 801.8L177.2 799.9L177.7 798.1L178.1 796.2L178.6 794.4L179.1 792.6L179.6 790.7L180.1 788.9L180.5 787.1L181.0 785.4L181.5 783.6L182.0 781.8L182.5 780.1L183.0 778.3L183.4 776.6L183.9 774.9L184.4 773.3L184.9 771.8L185.4 770.4L185.8 769.0L186.3 767.6L186.8 766.4L187.3 765.1L187.8 763.9L188.2 762.8L188.7 761.8L189.2 760.8L189.7 760.0L190.2 759.2L190.6 758.5L191.1 757.8L191.6 757.2L192.1 756.7L192.6 756.2L193.1 755.7L193.5 755.3L194.0 755.0L194.5 754.6L195.0 754.3L195.5 754.1L195.9 753.8L196.4 753.6L196.9 753.5L197.4 753.3L197.9 753.2L198.3 753.1L198.8 753.1L199.3 753.1L199.8 753.1L200.3 753.2L200.7 753.3L201.2 753.5L201.7 753.7L202.2 753.9L202.7 754.2L203.2 754.5L203.6 754.9L204.1 755.4L204.6 755.9L205.1 756.5L205.6 757.1L206.0 757.8L206.5 758.6L207.0 759.4L207.5 760.2L208.0 761.1L208.4 762.0L208.9 763.0L209.4 763.9L209.9 765.0L210.4 766.0L210.8 767.2L211.3 768.4L211.8 769.7L212.3 771.2L212.8 772.7L213.3 774.4L213.7 776.2L214.2 778.1L214.7 780.0L215.2 782.1L215.7 784.1L216.1 786.2L216.6 788.3L217.1 790.3L217.6 792.4L218.1 794.5L218.5 796.6L219.0 798.7L219.5 800.7L220.0 802.7L220.5 804.6L220.9 806.5L221.4 808.4L221.9 810.3L222.4 812.3L222.9 814.4L223.4 816.6L223.8 819.1L224.3 821.8L224.8 824.6L225.3 827.6L225.8 830.5L226.2 833.5L226.7 836.3L227.2 839.0L227.7 841.7L228.2 844.5L228.6 847.4L229.1 850.5L229.6 853.9L230.1 857.6L230.6 861.5L231.0 865.6L231.5 869.9L232.0 874.2L232.5 878.7L233.0 883.1L233.5 887.5L233.9 891.9L234.4 896.3L234.9 900.7L235.4 905.1L235.9 909.4L236.3 913.8L236.8 918.2L237.3 922.5L237.8 926.7L238.3 930.7L238.7 934.4L239.2 937.5L239.7 940.2L240.2 942.2L240.7 943.7L241.1 944.5L241.6 944.7L242.1 944.5L242.6 943.9L243.1 943.0L243.6 941.9L244.0 940.8L244.5 939.4L245.0 938.0L245.5 936.5L246.0 934.9L246.4 933.2L246.9 931.5L247.4 929.8L247.9 928.1L248.4 926.4L248.8 924.6L249.3 922.8L249.8 920.9L250.3 919.0L250.8 917.0L251.2 914.9L251.7 912.8L252.2 910.5L252.7 908.1L253.2 905.6L253.7 902.9L254.1 900.1L254.6 897.1L255.1 894.1L255.6 890.9L256.1 887.5L256.5 884.1L257.0 880.5L257.5 876.8L258.0 872.9L258.5 868.9L258.9 864.7L259.4 860.4L259.9 856.0L260.4 851.5L260.9 847.1L261.3 842.7L261.8 838.4L262.3 834.1L262.8 829.9L263.3 825.7L263.8 821.7L264.2 817.9L264.7 814.5L265.2 811.5L265.7 809.0L266.2 806.8L266.6 804.9L267.1 803.2L267.6 801.5L268.1 799.9L268.6 798.3L269.0 796.7L269.5 795.2L270.0 793.7L270.5 792.2L271.0 790.8L271.4 789.3L271.9 787.9L272.4 786.5L272.9 785.2L273.4 783.8L273.9 782.4L274.3 780.9L274.8 779.2L275.3 777.4L275.8 775.4L276.3 773.2L276.7 770.9L277.2 768.6L277.7 766.1L278.2 763.7L278.7 761.2L279.1 758.8L279.6 756.3L280.1 753.8L280.6 751.3L281.1 748.8L281.6 746.3L282.0 743.9L282.5 741.6L283.0 739.5L283.5 737.6L284.0 736.1L284.4 734.9L284.9 734.1L285.4 733.5L285.9 733.1L286.4 732.9L286.8 732.9L287.3 732.9L287.8 732.9L288.3 732.9L288.8 732.9L289.2 732.8L289.7 732.7L290.2 732.6L290.7 732.6L291.2 732.5L291.7 732.4L292.1 732.2L292.6 732.0L293.1 731.7L293.6 731.3L294.1 730.8L294.5 730.4L295.0 729.9L295.5 729.3L296.0 728.8L296.5 728.2L296.9 727.7L297.4 727.2L297.9 726.8L298.4 726.3L298.9 726.0L299.3 725.6L299.8 725.3L300.3 725.0L300.8 724.7L301.3 724.5L301.8 724.4L302.2 724.3L302.7 724.2L303.2 724.3L303.7 724.4L304.2 724.6L304.6 724.9L305.1 725.4L305.6 725.9L306.1 726.5L306.6 727.3L307.0 728.1L307.5 729.0L308.0 729.9L308.5 730.8L309.0 731.7L309.4 732.6L309.9 733.4L310.4 734.1L310.9 734.8L311.4 735.5L311.9 736.1L312.3 736.6L312.8 737.2L313.3 737.8L313.8 738.4L314.3 738.9L314.7 739.5L315.2 740.0L315.7 740.6L316.2 741.1L316.7 741.5L317.1 742.0L317.6 742.4L318.1 742.9L318.6 743.4L319.1 744.0L319.5 744.7L320.0 745.5L320.5 746.6L321.0 748.0L321.5 749.5L322.0 751.2L322.4 753.0L322.9 754.9L323.4 756.8L323.9 758.6L324.4 760.4L324.8 762.0L325.3 763.6L325.8 765.0L326.3 766.4L326.8 767.7L327.2 769.1L327.7 770.4L328.2 771.6L328.7 772.8L329.2 773.9L329.6 774.8L330.1 775.7L330.6 776.4L331.1 776.9L331.6 777.4L332.1 777.7L332.5 777.9L333.0 778.0L333.5 778.1L334.0 778.2L334.5 778.2L334.9 778.3L335.4 778.4L335.9 778.6L336.4 778.8L336.9 779.1L337.3 779.4L337.8 779.8L338.3 780.2L338.8 780.6L339.3 780.9L339.7 781.3L340.2 781.7L340.7 782.1L341.2 782.5L341.7 782.9L342.2 783.3L342.6 783.6L343.1 784.0L343.6 784.4L344.1 784.8L344.6 785.2L345.0 785.6L345.5 786.0L346.0 786.3L346.5 786.4L347.0 786.4L347.4 786.0L347.9 785.2L348.4 784.2L348.9 782.9L349.4 781.4L349.8 779.8L350.3 778.2L350.8 776.5L351.3 774.9L351.8 773.1L352.3 771.4L352.7 769.6L353.2 767.7L353.7 765.9L354.2 764.1L354.7 762.3L355.1 760.7L355.6 759.1L356.1 757.7L356.6 756.4L357.1 755.2L357.5 753.9L358.0 752.8L358.5 751.6L359.0 750.5L359.5 749.4L359.9 748.3L360.4 747.2L360.9 746.2L361.4 745.2L361.9 744.2L362.4 743.3L362.8 742.4L363.3 741.4L363.8 740.5L364.3 739.6L364.8 738.6L365.2 737.5L365.7 736.4L366.2 735.2L366.7 733.9L367.2 732.5L367.6 731.0L368.1 729.5L368.6 727.9L369.1 726.4L369.6 724.8L370.1 723.3L370.5 721.9L371.0 720.6L371.5 719.4L372.0 718.2L372.5 717.0L372.9 716.0L373.4 714.9L373.9 713.9L374.4 712.9L374.9 711.9L375.3 711.0L375.8 710.2L376.3 709.3L376.8 708.5L377.3 707.8L377.7 707.0L378.2 706.3L378.7 705.6L379.2 704.9L379.7 704.3L380.2 703.6L380.6 703.0L381.1 702.4L381.6 701.8L382.1 701.2L382.6 700.7L383.0 700.2L383.5 699.7L384.0 699.2L384.5 698.7L385.0 698.3L385.4 697.9L385.9 697.5L386.4 697.1L386.9 696.7L387.4 696.4L387.8 696.1L388.3 695.7L388.8 695.4L389.3 695.2L389.8 694.9L390.3 694.6L390.7 694.4L391.2 694.2L391.7 694.0L392.2 693.7L392.7 693.6L393.1 693.4L393.6 693.2L394.1 693.1L394.6 692.9L395.1 692.8L395.5 692.7L396.0 692.6L396.5 692.6L397.0 692.5L397.5 692.5L397.9 692.5L398.4 692.6L398.9 692.6L399.4 692.7L399.9 692.8L400.4 692.9L400.8 693.1L401.3 693.3L401.8 693.5L402.3 693.7L402.8 694.1L403.2 694.4L403.7 694.8L404.2 695.3L404.7 695.8L405.2 696.4L405.6 697.0L406.1 697.6L406.6 698.4L407.1 699.1L407.6 699.9L408.0 700.8L408.5 701.7L409.0 702.6L409.5 703.6L410.0 704.6L410.5 705.6L410.9 706.6L411.4 707.6L411.9 708.5L412.4 709.5L412.9 710.4L413.3 711.3L413.8 712.1L414.3 713.0L414.8 713.8L415.3 714.6L415.7 715.4L416.2 716.1L416.7 716.9L417.2 717.6L417.7 718.4L418.1 719.1L418.6 719.7L419.1 720.3L419.6 720.9L420.1 721.3L420.6 721.8L421.0 722.2L421.5 722.6L422.0 723.1L422.5 723.6L423.0 724.2L423.4 724.9L423.9 725.8L424.4 726.8L424.9 727.8L425.4 729.0L425.8 730.2L426.3 731.5L426.8 732.8L427.3 734.1L427.8 735.4L428.2 736.7L428.7 738.0L429.2 739.3L429.7 740.5L430.2 741.8L430.7 743.1L431.1 744.4L431.6 745.6L432.1 746.8L432.6 747.9L433.1 748.8L433.5 749.6L434.0 750.3L434.5 750.7L435.0 751.1L435.5 751.2L435.9 751.3L436.4 751.3L436.9 751.2L437.4 751.0L437.9 750.8L438.3 750.6L438.8 750.4L439.3 750.3L439.8 750.2L440.3 750.2L440.8 750.3L441.2 750.4L441.7 750.5L442.2 750.6L442.7 750.7L443.2 750.9L443.6 751.0L444.1 751.2L444.6 751.4L445.1 751.6L445.6 751.9L446.0 752.2L446.5 752.6L447.0 752.9L447.5 753.3L448.0 753.5L448.4 753.7L448.9 753.8L449.4 753.7L449.9 753.5L450.4 753.1L450.9 752.5L451.3 751.7L451.8 750.8L452.3 749.9L452.8 748.9L453.3 747.8L453.7 746.7L454.2 745.6L454.7 744.4L455.2 743.1L455.7 741.7L456.1 740.3L456.6 738.9L457.1 737.5L457.6 736.1L458.1 734.8L458.5 733.6L459.0 732.5L459.5 731.5L460.0 730.7L460.5 730.1L461.0 729.6L461.4 729.2L461.9 728.9L462.4 728.7L462.9 728.5L463.4 728.4L463.8 728.2L464.3 728.0L464.8 727.7L465.3 727.4L465.8 726.9L466.2 726.3L466.7 725.6L467.2 724.8L467.7 723.9L468.2 723.0L468.7 722.1L469.1 721.1L469.6 720.2L470.1 719.2L470.6 718.2L471.1 717.3L471.5 716.4L472.0 715.5L472.5 714.7L473.0 713.9L473.5 713.2L473.9 712.5L474.4 711.9L474.9 711.2L475.4 710.6L475.9 710.0L476.3 709.5L476.8 709.0L477.3 708.5L477.8 708.0L478.3 707.6L478.8 707.2L479.2 706.8L479.7 706.4L480.2 706.1L480.7 705.8L481.2 705.6L481.6 705.4L482.1 705.2L482.6 705.0L483.1 704.9L483.6 704.9L484.0 704.9L484.5 704.9L485.0 705.0L485.5 705.1L486.0 705.3L486.4 705.5L486.9 705.7L487.4 705.9L487.9 706.2L488.4 706.5L488.9 706.8L489.3 707.1L489.8 707.4L490.3 707.7L490.8 708.1L491.3 708.5L491.7 708.8L492.2 709.2L492.7 709.6L493.2 710.0L493.7 710.4L494.1 710.9L494.6 711.3L495.1 711.7L495.6 712.2L496.1 712.7L496.5 713.2L497.0 713.7L497.5 714.2L498.0 714.7L498.5 715.3L499.0 715.8L499.4 716.4L499.9 717.0L500.4 717.6L500.9 718.2L501.4 718.8L501.8 719.5L502.3 720.2L502.8 721.0L503.3 721.8L503.8 722.8L504.2 723.8L504.7 724.9L505.2 726.0L505.7 727.3L506.2 728.5L506.6 729.9L507.1 731.3L507.6 732.8L508.1 734.5L508.6 736.3L509.1 738.4L509.5 740.6L510.0 743.0L510.5 745.3L511.0 747.6L511.5 749.7L511.9 751.6L512.4 753.3L512.9 754.7" fill="none" stroke="#ffffff" stroke-width="2.6" stroke-linejoin="round"/>
<line x1="128.6" y1="948.7" x2="133.6" y2="948.7" stroke="#222" stroke-width="1.6"/>
<line x1="507.9" y1="948.7" x2="512.9" y2="948.7" stroke="#222" stroke-width="1.6"/>
<line x1="128.6" y1="858.1" x2="133.6" y2="858.1" stroke="#222" stroke-width="1.6"/>
<line x1="507.9" y1="858.1" x2="512.9" y2="858.1" stroke="#222" stroke-width="1.6"/>
<line x1="128.6" y1="767.5" x2="133.6" y2="767.5" stroke="#222" stroke-width="1.6"/>
<line x1="507.9" y1="767.5" x2="512.9" y2="767.5" stroke="#222" stroke-width="1.6"/>
<line x1="128.6" y1="676.9" x2="133.6" y2="676.9" stroke="#222" stroke-width="1.6"/>
<line x1="507.9" y1="676.9" x2="512.9" y2="676.9" stroke="#222" stroke-width="1.6"/>
<line x1="128.6" y1="586.3" x2="133.6" y2="586.3" stroke="#222" stroke-width="1.6"/>
<line x1="507.9" y1="586.3" x2="512.9" y2="586.3" stroke="#222" stroke-width="1.6"/>
<line x1="128.6" y1="948.7" x2="128.6" y2="943.7" stroke="#222" stroke-width="1.6"/>
<line x1="128.6" y1="563.6" x2="128.6" y2="568.6" stroke="#222" stroke-width="1.6"/>
<line x1="232.8" y1="948.7" x2="232.8" y2="943.7" stroke="#222" stroke-width="1.6"/>
<line x1="232.8" y1="563.6" x2="232.8" y2="568.6" stroke="#222" stroke-width="1.6"/>
<line x1="337.0" y1="948.7" x2="337.0" y2="943.7" stroke="#222" stroke-width="1.6"/>
<line x1="337.0" y1="563.6" x2="337.0" y2="568.6" stroke="#222" stroke-width="1.6"/>
<line x1="441.3" y1="948.7" x2="441.3" y2="943.7" stroke="#222" stroke-width="1.6"/>
<line x1="441.3" y1="563.6" x2="441.3" y2="568.6" stroke="#222" stroke-width="1.6"/>
<rect x="128.6" y="563.6" width="384.3" height="385.1" fill="none" stroke="#c0c0c0" stroke-width="1.3"/>
<line x1="759.8" y1="858.1" x2="1144.1" y2="858.1" stroke="#d0d0d0" stroke-width="0.9" stroke-dasharray="3.4 1.6" opacity="0.7"/>
<line x1="759.8" y1="767.5" x2="1144.1" y2="767.5" stroke="#d0d0d0" stroke-width="0.9" stroke-dasharray="3.4 1.6" opacity="0.7"/>
<line x1="759.8" y1="676.9" x2="1144.1" y2="676.9" stroke="#d0d0d0" stroke-width="0.9" stroke-dasharray="3.4 1.6" opacity="0.7"/>
<line x1="759.8" y1="586.3" x2="1144.1" y2="586.3" stroke="#d0d0d0" stroke-width="0.9" stroke-dasharray="3.4 1.6" opacity="0.7"/>
<line x1="864.0" y1="563.6" x2="864.0" y2="948.7" stroke="#d0d0d0" stroke-width="0.9" stroke-dasharray="3.4 1.6" opacity="0.7"/>
<line x1="968.2" y1="563.6" x2="968.2" y2="948.7" stroke="#d0d0d0" stroke-width="0.9" stroke-dasharray="3.4 1.6" opacity="0.7"/>
<line x1="1072.5" y1="563.6" x2="1072.5" y2="948.7" stroke="#d0d0d0" stroke-width="0.9" stroke-dasharray="3.4 1.6" opacity="0.7"/>
<path d="M759.8 754.7L760.3 755.9L760.8 757.1L761.2 758.5L761.7 759.9L762.2 761.5L762.7 763.1L763.2 764.8L763.6 766.6L764.1 768.5L764.6 770.4L765.1 772.5L765.6 774.7L766.1 777.0L766.5 779.4L767.0 781.9L767.5 784.4L768.0 786.9L768.5 789.5L768.9 792.1L769.4 794.6L769.9 797.2L770.4 799.8L770.9 802.4L771.3 804.9L771.8 807.5L772.3 810.0L772.8 812.6L773.3 815.1L773.7 817.7L774.2 820.2L774.7 822.8L775.2 825.3L775.7 827.8L776.2 830.4L776.6 832.9L777.1 835.4L777.6 837.9L778.1 840.3L778.6 842.6L779.0 844.8L779.5 846.9L780.0 848.8L780.5 850.7L781.0 852.5L781.4 854.3L781.9 856.0L782.4 857.7L782.9 859.4L783.4 860.9L783.8 862.5L784.3 863.9L784.8 865.4L785.3 866.8L785.8 868.1L786.3 869.3L786.7 870.3L787.2 871.1L787.7 871.7L788.2 872.0L788.7 872.1L789.1 871.8L789.6 871.2L790.1 870.4L790.6 869.3L791.1 868.1L791.5 866.6L792.0 864.9L792.5 863.1L793.0 861.2L793.5 859.3L793.9 857.4L794.4 855.5L794.9 853.6L795.4 851.6L795.9 849.7L796.4 847.8L796.8 845.9L797.3 843.9L797.8 842.0L798.3 840.1L798.8 838.2L799.2 836.2L799.7 834.3L800.2 832.4L800.7 830.5L801.2 828.6L801.6 826.7L802.1 824.7L802.6 822.8L803.1 820.9L803.6 819.0L804.0 817.1L804.5 815.1L805.0 813.2L805.5 811.3L806.0 809.4L806.5 807.5L806.9 805.6L807.4 803.7L807.9 801.8L808.4 799.9L808.9 798.1L809.3 796.2L809.8 794.4L810.3 792.6L810.8 790.7L811.3 788.9L811.7 787.1L812.2 785.4L812.7 783.6L813.2 781.8L813.7 780.1L814.2 778.3L814.6 776.6L815.1 774.9L815.6 773.3L816.1 771.8L816.6 770.4L817.0 769.0L817.5 767.6L818.0 766.4L818.5 765.1L819.0 763.9L819.4 762.8L819.9 761.8L820.4 760.8L820.9 760.0L821.4 759.2L821.8 758.5L822.3 757.8L822.8 757.2L823.3 756.7L823.8 756.2L824.3 755.7L824.7 755.3L825.2 755.0L825.7 754.6L826.2 754.3L826.7 754.1L827.1 753.8L827.6 753.6L828.1 753.5L828.6 753.3L829.1 753.2L829.5 753.1L830.0 753.1L830.5 753.1L831.0 753.1L831.5 753.2L831.9 753.3L832.4 753.5L832.9 753.7L833.4 753.9L833.9 754.2L834.4 754.5L834.8 754.9L835.3 755.4L835.8 755.9L836.3 756.5L836.8 757.1L837.2 757.8L837.7 758.6L838.2 759.4L838.7 760.2L839.2 761.1L839.6 762.0L840.1 763.0L840.6 763.9L841.1 765.0L841.6 766.0L842.0 767.2L842.5 768.4L843.0 769.7L843.5 771.2L844.0 772.7L844.5 774.4L844.9 776.2L845.4 778.1L845.9 780.0L846.4 782.1L846.9 784.1L847.3 786.2L847.8 788.3L848.3 790.3L848.8 792.4L849.3 794.5L849.7 796.6L850.2 798.7L850.7 800.7L851.2 802.7L851.7 804.6L852.1 806.5L852.6 808.4L853.1 810.3L853.6 812.3L854.1 814.4L854.6 816.6L855.0 819.1L855.5 821.8L856.0 824.6L856.5 827.6L857.0 830.5L857.4 833.5L857.9 836.3L858.4 839.0L858.9 841.7L859.4 844.5L859.8 847.4L860.3 850.5L860.8 853.9L861.3 857.6L861.8 861.5L862.2 865.6L862.7 869.9L863.2 874.2L863.7 878.7L864.2 883.1L864.7 887.5L865.1 891.9L865.6 896.3L866.1 900.7L866.6 905.1L867.1 909.4L867.5 913.8L868.0 918.2L868.5 922.5L869.0 926.7L869.5 930.7L869.9 934.4L870.4 937.5L870.9 940.2L871.4 942.2L871.9 943.7L872.3 944.5L872.8 944.7L873.3 944.5L873.8 943.9L874.3 943.0L874.8 941.9L875.2 940.8L875.7 939.4L876.2 938.0L876.7 936.5L877.2 934.9L877.6 933.2L878.1 931.5L878.6 929.8L879.1 928.1L879.6 926.4L880.0 924.6L880.5 922.8L881.0 920.9L881.5 919.0L882.0 917.0L882.4 914.9L882.9 912.8L883.4 910.5L883.9 908.1L884.4 905.6L884.9 902.9L885.3 900.1L885.8 897.1L886.3 894.1L886.8 890.9L887.3 887.5L887.7 884.1L888.2 880.5L888.7 876.8L889.2 872.9L889.7 868.9L890.1 864.7L890.6 860.4L891.1 856.0L891.6 851.5L892.1 847.1L892.5 842.7L893.0 838.4L893.5 834.1L894.0 829.9L894.5 825.7L895.0 821.7L895.4 817.9L895.9 814.5L896.4 811.5L896.9 809.0L897.4 806.8L897.8 804.9L898.3 803.2L898.8 801.5L899.3 799.9L899.8 798.3L900.2 796.7L900.7 795.2L901.2 793.7L901.7 792.2L902.2 790.8L902.6 789.3L903.1 787.9L903.6 786.5L904.1 785.2L904.6 783.8L905.1 782.4L905.5 780.9L906.0 779.2L906.5 777.4L907.0 775.4L907.5 773.2L907.9 770.9L908.4 768.6L908.9 766.1L909.4 763.7L909.9 761.2L910.3 758.8L910.8 756.3L911.3 753.8L911.8 751.3L912.3 748.8L912.8 746.3L913.2 743.9L913.7 741.6L914.2 739.5L914.7 737.6L915.2 736.1L915.6 734.9L916.1 734.1L916.6 733.5L917.1 733.1L917.6 732.9L918.0 732.9L918.5 732.9L919.0 732.9L919.5 732.9L920.0 732.9L920.4 732.8L920.9 732.7L921.4 732.6L921.9 732.6L922.4 732.5L922.9 732.4L923.3 732.2L923.8 732.0L924.3 731.7L924.8 731.3L925.3 730.8L925.7 730.4L926.2 729.9L926.7 729.3L927.2 728.8L927.7 728.2L928.1 727.7L928.6 727.2L929.1 726.8L929.6 726.3L930.1 726.0L930.5 725.6L931.0 725.3L931.5 725.0L932.0 724.7L932.5 724.5L933.0 724.4L933.4 724.3L933.9 724.2L934.4 724.3L934.9 724.4L935.4 724.6L935.8 724.9L936.3 725.4L936.8 725.9L937.3 726.5L937.8 727.3L938.2 728.1L938.7 729.0L939.2 729.9L939.7 730.8L940.2 731.7L940.6 732.6L941.1 733.4L941.6 734.1L942.1 734.8L942.6 735.5L943.1 736.1L943.5 736.6L944.0 737.2L944.5 737.8L945.0 738.4L945.5 738.9L945.9 739.5L946.4 740.0L946.9 740.6L947.4 741.1L947.9 741.5L948.3 742.0L948.8 742.4L949.3 742.9L949.8 743.4L950.3 744.0L950.7 744.7L951.2 745.5L951.7 746.6L952.2 748.0L952.7 749.5L953.2 751.2L953.6 753.0L954.1 754.9L954.6 756.8L955.1 758.6L955.6 760.4L956.0 762.0L956.5 763.6L957.0 765.0L957.5 766.4L958.0 767.7L958.4 769.1L958.9 770.4L959.4 771.6L959.9 772.8L960.4 773.9L960.8 774.8L961.3 775.7L961.8 776.4L962.3 776.9L962.8 777.4L963.3 777.7L963.7 777.9L964.2 778.0L964.7 778.1L965.2 778.2L965.7 778.2L966.1 778.3L966.6 778.4L967.1 778.6L967.6 778.8L968.1 779.1L968.5 779.4L969.0 779.8L969.5 780.2L970.0 780.6L970.5 780.9L970.9 781.3L971.4 781.7L971.9 782.1L972.4 782.5L972.9 782.9L973.4 783.3L973.8 783.6L974.3 784.0L974.8 784.4L975.3 784.8L975.8 785.2L976.2 785.6L976.7 786.0L977.2 786.3L977.7 786.4L978.2 786.4L978.6 786.0L979.1 785.2L979.6 784.2L980.1 782.9L980.6 781.4L981.0 779.8L981.5 778.2L982.0 776.5L982.5 774.9L983.0 773.1L983.5 771.4L983.9 769.6L984.4 767.7L984.9 765.9L985.4 764.1L985.9 762.3L986.3 760.7L986.8 759.1L987.3 757.7L987.8 756.4L988.3 755.2L988.7 753.9L989.2 752.8L989.7 751.6L990.2 750.5L990.7 749.4L991.1 748.3L991.6 747.2L992.1 746.2L992.6 745.2L993.1 744.2L993.6 743.3L994.0 742.4L994.5 741.4L995.0 740.5L995.5 739.6L996.0 738.6L996.4 737.5L996.9 736.4L997.4 735.2L997.9 733.9L998.4 732.5L998.8 731.0L999.3 729.5L999.8 727.9L1000.3 726.4L1000.8 724.8L1001.3 723.3L1001.7 721.9L1002.2 720.6L1002.7 719.4L1003.2 718.2L1003.7 717.0L1004.1 716.0L1004.6 714.9L1005.1 713.9L1005.6 712.9L1006.1 711.9L1006.5 711.0L1007.0 710.2L1007.5 709.3L1008.0 708.5L1008.5 707.8L1008.9 707.0L1009.4 706.3L1009.9 705.6L1010.4 704.9L1010.9 704.3L1011.4 703.6L1011.8 703.0L1012.3 702.4L1012.8 701.8L1013.3 701.2L1013.8 700.7L1014.2 700.2L1014.7 699.7L1015.2 699.2L1015.7 698.7L1016.2 698.3L1016.6 697.9L1017.1 697.5L1017.6 697.1L1018.1 696.7L1018.6 696.4L1019.0 696.1L1019.5 695.7L1020.0 695.4L1020.5 695.2L1021.0 694.9L1021.5 694.6L1021.9 694.4L1022.4 694.2L1022.9 694.0L1023.4 693.7L1023.9 693.6L1024.3 693.4L1024.8 693.2L1025.3 693.1L1025.8 692.9L1026.3 692.8L1026.7 692.7L1027.2 692.6L1027.7 692.6L1028.2 692.5L1028.7 692.5L1029.1 692.5L1029.6 692.6L1030.1 692.6L1030.6 692.7L1031.1 692.8L1031.6 692.9L1032.0 693.1L1032.5 693.3L1033.0 693.5L1033.5 693.7L1034.0 694.1L1034.4 694.4L1034.9 694.8L1035.4 695.3L1035.9 695.8L1036.4 696.4L1036.8 697.0L1037.3 697.6L1037.8 698.4L1038.3 699.1L1038.8 699.9L1039.2 700.8L1039.7 701.7L1040.2 702.6L1040.7 703.6L1041.2 704.6L1041.7 705.6L1042.1 706.6L1042.6 707.6L1043.1 708.5L1043.6 709.5L1044.1 710.4L1044.5 711.3L1045.0 712.1L1045.5 713.0L1046.0 713.8L1046.5 714.6L1046.9 715.4L1047.4 716.1L1047.9 716.9L1048.4 717.6L1048.9 718.4L1049.3 719.1L1049.8 719.7L1050.3 720.3L1050.8 720.9L1051.3 721.3L1051.8 721.8L1052.2 722.2L1052.7 722.6L1053.2 723.1L1053.7 723.6L1054.2 724.2L1054.6 724.9L1055.1 725.8L1055.6 726.8L1056.1 727.8L1056.6 729.0L1057.0 730.2L1057.5 731.5L1058.0 732.8L1058.5 734.1L1059.0 735.4L1059.4 736.7L1059.9 738.0L1060.4 739.3L1060.9 740.5L1061.4 741.8L1061.9 743.1L1062.3 744.4L1062.8 745.6L1063.3 746.8L1063.8 747.9L1064.3 748.8L1064.7 749.6L1065.2 750.3L1065.7 750.7L1066.2 751.1L1066.7 751.2L1067.1 751.3L1067.6 751.3L1068.1 751.2L1068.6 751.0L1069.1 750.8L1069.5 750.6L1070.0 750.4L1070.5 750.3L1071.0 750.2L1071.5 750.2L1072.0 750.3L1072.4 750.4L1072.9 750.5L1073.4 750.6L1073.9 750.7L1074.4 750.9L1074.8 751.0L1075.3 751.2L1075.8 751.4L1076.3 751.6L1076.8 751.9L1077.2 752.2L1077.7 752.6L1078.2 752.9L1078.7 753.3L1079.2 753.5L1079.6 753.7L1080.1 753.8L1080.6 753.7L1081.1 753.5L1081.6 753.1L1082.1 752.5L1082.5 751.7L1083.0 750.8L1083.5 749.9L1084.0 748.9L1084.5 747.8L1084.9 746.7L1085.4 745.6L1085.9 744.4L1086.4 743.1L1086.9 741.7L1087.3 740.3L1087.8 738.9L1088.3 737.5L1088.8 736.1L1089.3 734.8L1089.7 733.6L1090.2 732.5L1090.7 731.5L1091.2 730.7L1091.7 730.1L1092.2 729.6L1092.6 729.2L1093.1 728.9L1093.6 728.7L1094.1 728.5L1094.6 728.4L1095.0 728.2L1095.5 728.0L1096.0 727.7L1096.5 727.4L1097.0 726.9L1097.4 726.3L1097.9 725.6L1098.4 724.8L1098.9 723.9L1099.4 723.0L1099.9 722.1L1100.3 721.1L1100.8 720.2L1101.3 719.2L1101.8 718.2L1102.3 717.3L1102.7 716.4L1103.2 715.5L1103.7 714.7L1104.2 713.9L1104.7 713.2L1105.1 712.5L1105.6 711.9L1106.1 711.2L1106.6 710.6L1107.1 710.0L1107.5 709.5L1108.0 709.0L1108.5 708.5L1109.0 708.0L1109.5 707.6L1110.0 707.2L1110.4 706.8L1110.9 706.4L1111.4 706.1L1111.9 705.8L1112.4 705.6L1112.8 705.4L1113.3 705.2L1113.8 705.0L1114.3 704.9L1114.8 704.9L1115.2 704.9L1115.7 704.9L1116.2 705.0L1116.7 705.1L1117.2 705.3L1117.6 705.5L1118.1 705.7L1118.6 705.9L1119.1 706.2L1119.6 706.5L1120.1 706.8L1120.5 707.1L1121.0 707.4L1121.5 707.7L1122.0 708.1L1122.5 708.5L1122.9 708.8L1123.4 709.2L1123.9 709.6L1124.4 710.0L1124.9 710.4L1125.3 710.9L1125.8 711.3L1126.3 711.7L1126.8 712.2L1127.3 712.7L1127.7 713.2L1128.2 713.7L1128.7 714.2L1129.2 714.7L1129.7 715.3L1130.2 715.8L1130.6 716.4L1131.1 717.0L1131.6 717.6L1132.1 718.2L1132.6 718.8L1133.0 719.5L1133.5 720.2L1134.0 721.0L1134.5 721.8L1135.0 722.8L1135.4 723.8L1135.9 724.9L1136.4 726.0L1136.9 727.3L1137.4 728.5L1137.8 729.9L1138.3 731.3L1138.8 732.8L1139.3 734.5L1139.8 736.3L1140.3 738.4L1140.7 740.6L1141.2 743.0L1141.7 745.3L1142.2 747.6L1142.7 749.7L1143.1 751.6L1143.6 753.3L1144.1 754.7" fill="none" stroke="#ffffff" stroke-width="2.6" stroke-linejoin="round"/>
<line x1="759.8" y1="948.7" x2="764.8" y2="948.7" stroke="#222" stroke-width="1.6"/>
<line x1="1139.1" y1="948.7" x2="1144.1" y2="948.7" stroke="#222" stroke-width="1.6"/>
<line x1="759.8" y1="858.1" x2="764.8" y2="858.1" stroke="#222" stroke-width="1.6"/>
<line x1="1139.1" y1="858.1" x2="1144.1" y2="858.1" stroke="#222" stroke-width="1.6"/>
<line x1="759.8" y1="767.5" x2="764.8" y2="767.5" stroke="#222" stroke-width="1.6"/>
<line x1="1139.1" y1="767.5" x2="1144.1" y2="767.5" stroke="#222" stroke-width="1.6"/>
<line x1="759.8" y1="676.9" x2="764.8" y2="676.9" stroke="#222" stroke-width="1.6"/>
<line x1="1139.1" y1="676.9" x2="1144.1" y2="676.9" stroke="#222" stroke-width="1.6"/>
<line x1="759.8" y1="586.3" x2="764.8" y2="586.3" stroke="#222" stroke-width="1.6"/>
<line x1="1139.1" y1="586.3" x2="1144.1" y2="586.3" stroke="#222" stroke-width="1.6"/>
<line x1="759.8" y1="948.7" x2="759.8" y2="943.7" stroke="#222" stroke-width="1.6"/>
<line x1="759.8" y1="563.6" x2="759.8" y2="568.6" stroke="#222" stroke-width="1.6"/>
<line x1="864.0" y1="948.7" x2="864.0" y2="943.7" stroke="#222" stroke-width="1.6"/>
<line x1="864.0" y1="563.6" x2="864.0" y2="568.6" stroke="#222" stroke-width="1.6"/>
<line x1="968.2" y1="948.7" x2="968.2" y2="943.7" stroke="#222" stroke-width="1.6"/>
<line x1="968.2" y1="563.6" x2="968.2" y2="568.6" stroke="#222" stroke-width="1.6"/>
<line x1="1072.5" y1="948.7" x2="1072.5" y2="943.7" stroke="#222" stroke-width="1.6"/>
<line x1="1072.5" y1="563.6" x2="1072.5" y2="568.6" stroke="#222" stroke-width="1.6"/>
<rect x="759.8" y="563.6" width="384.3" height="385.1" fill="none" stroke="#c0c0c0" stroke-width="1.3"/>
<g clip-path="url(#clipE)"><path d="M1530.2 564.2L1540.7 564.2Q1537.7 629.0 1531.0 682.0Q1528.3 629.0 1530.2 564.2Z" fill="#f0b8b9"/><path d="M1541.5 564.2L1548.5 564.2Q1546.3 641.1 1541.6 704.0Q1539.9 641.1 1541.5 564.2Z" fill="#f0b8b9"/><path d="M1547.3 564.2L1554.3 564.2Q1552.9 633.9 1548.9 691.0Q1546.6 633.9 1547.3 564.2Z" fill="#f0b8b9"/><path d="M1561.9 564.2L1568.5 564.2Q1567.9 633.9 1564.7 691.0Q1561.9 633.9 1561.9 564.2Z" fill="#f0b8b9"/><path d="M1577.2 564.2L1583.8 564.2Q1585.9 654.8 1584.8 729.0Q1579.8 654.8 1577.2 564.2Z" fill="#f0b8b9"/><path d="M1618.5 600.0Q1613.0 666.0 1619.3 732.0Q1624.8 666.0 1618.5 600.0Z" fill="#f0b8b9"/><path d="M1618.8 650.0Q1614.6 689.0 1619.3 728.0Q1623.5 689.0 1618.8 650.0Z" fill="#f0b8b9"/><path d="M1656.1 564.2L1661.3 564.2Q1660.7 622.4 1658.1 670.0Q1656.0 622.4 1656.1 564.2Z" fill="#f0b8b9"/><path d="M1663.7 564.2L1668.9 564.2Q1668.5 624.6 1666.0 674.0Q1663.8 624.6 1663.7 564.2Z" fill="#f0b8b9"/><path d="M1684.7 564.2L1691.3 564.2Q1691.6 636.7 1689.0 696.0Q1685.5 636.7 1684.7 564.2Z" fill="#f0b8b9"/><path d="M1704.6 690.0Q1698.0 714.5 1704.9 739.0Q1711.5 714.5 1704.6 690.0Z" fill="#f0b8b9"/><path d="M1704.7 700.0Q1700.4 717.0 1704.9 734.0Q1709.2 717.0 1704.7 700.0Z" fill="#f0b8b9"/><path d="M1717.9 564.2L1726.1 564.2Q1726.6 626.2 1723.6 677.0Q1719.2 626.2 1717.9 564.2Z" fill="#f0b8b9"/><path d="M1747.4 564.2L1752.6 564.2Q1750.7 627.3 1747.0 679.0Q1746.0 627.3 1747.4 564.2Z" fill="#f0b8b9"/><path d="M1401.6 741.0Q1395.7 771.0 1404.0 801.0Q1409.9 771.0 1401.6 741.0Z" fill="#f0b8b9"/><path d="M1402.3 752.0Q1398.5 771.5 1403.6 791.0Q1407.4 771.5 1402.3 752.0Z" fill="#f0b8b9"/><path d="M1529.0 564.2L1539.0 564.2Q1536.4 633.4 1530.1 690.0Q1527.4 633.4 1529.0 564.2Z" fill="#e9a3a5"/><path d="M1532.9 564.2L1537.9 564.2Q1535.2 625.7 1531.0 676.0Q1530.7 625.7 1532.9 564.2Z" fill="#d2302f"/><path d="M1543.4 564.2L1546.6 564.2Q1544.6 637.8 1541.6 698.0Q1541.7 637.8 1543.4 564.2Z" fill="#b51f26"/><path d="M1549.2 564.2L1552.4 564.2Q1551.2 630.6 1548.9 685.0Q1548.3 630.6 1549.2 564.2Z" fill="#b51f26"/><path d="M1556.9 564.2L1559.1 564.2Q1558.8 615.8 1557.6 658.0Q1556.8 615.8 1556.9 564.2Z" fill="#e9a3a5"/><path d="M1563.7 564.2L1566.7 564.2Q1566.3 630.6 1564.7 685.0Q1563.6 630.6 1563.7 564.2Z" fill="#d2302f"/><path d="M1571.4 564.2L1573.2 564.2Q1573.1 620.7 1572.3 667.0Q1571.5 620.7 1571.4 564.2Z" fill="#e9a3a5"/><path d="M1579.0 564.2L1582.0 564.2Q1584.2 651.5 1584.8 723.0Q1581.5 651.5 1579.0 564.2Z" fill="#dd5a5a"/><path d="M1585.0 564.2L1587.5 564.2Q1588.2 603.1 1587.7 635.0Q1585.9 603.1 1585.0 564.2Z" fill="#e9a3a5"/><path d="M1620.7 564.2L1623.7 564.2Q1623.5 595.4 1622.2 621.0Q1620.9 595.4 1620.7 564.2Z" fill="#e9a3a5"/><path d="M1618.5 600.0Q1616.3 663.0 1619.3 726.0Q1621.5 663.0 1618.5 600.0Z" fill="#e7999a"/><path d="M1618.8 650.0Q1617.2 686.0 1619.3 722.0Q1620.8 686.0 1618.8 650.0Z" fill="#d63a3a"/><path d="M1635.6 564.2L1637.6 564.2Q1637.5 608.4 1636.6 644.5Q1635.7 608.4 1635.6 564.2Z" fill="#e9a3a5"/><path d="M1643.3 564.2L1645.3 564.2Q1645.2 597.6 1644.3 625.0Q1643.4 597.6 1643.3 564.2Z" fill="#e9a3a5"/><path d="M1650.0 564.2L1652.0 564.2Q1651.9 618.0 1651.0 662.0Q1650.1 618.0 1650.0 564.2Z" fill="#e9a3a5"/><path d="M1657.6 564.2L1659.8 564.2Q1659.4 619.1 1658.1 664.0Q1657.4 619.1 1657.6 564.2Z" fill="#d2302f"/><path d="M1665.2 564.2L1667.4 564.2Q1667.1 621.3 1666.0 668.0Q1665.1 621.3 1665.2 564.2Z" fill="#d2302f"/><path d="M1672.1 564.2L1673.9 564.2Q1673.8 596.5 1673.0 623.0Q1672.2 596.5 1672.1 564.2Z" fill="#e9a3a5"/><path d="M1686.5 564.2L1689.5 564.2Q1689.9 633.4 1689.0 690.0Q1687.2 633.4 1686.5 564.2Z" fill="#cf2c2e"/><path d="M1704.6 690.0Q1701.8 711.5 1704.9 733.0Q1707.8 711.5 1704.6 690.0Z" fill="#e28282"/><path d="M1704.7 700.0Q1703.0 714.0 1704.9 728.0Q1706.6 714.0 1704.7 700.0Z" fill="#d2302f"/><path d="M1720.1 564.2L1723.9 564.2Q1724.6 622.9 1723.6 671.0Q1721.2 622.9 1720.1 564.2Z" fill="#b51f26"/><path d="M1735.9 564.2L1738.9 564.2Q1739.6 614.7 1738.9 656.0Q1736.9 614.7 1735.9 564.2Z" fill="#e9a3a5"/><path d="M1742.1 564.2L1743.9 564.2Q1743.8 580.6 1743.0 594.0Q1742.2 580.6 1742.1 564.2Z" fill="#e9a3a5"/><path d="M1748.9 564.2L1751.1 564.2Q1749.3 624.0 1747.0 673.0Q1747.4 624.0 1748.9 564.2Z" fill="#e07a7a"/><path d="M1755.7 564.2L1757.5 564.2Q1757.4 582.8 1756.6 598.0Q1755.8 582.8 1755.7 564.2Z" fill="#e9a3a5"/><path d="M1763.3 564.2L1765.1 564.2Q1765.0 596.5 1764.2 623.0Q1763.4 596.5 1763.3 564.2Z" fill="#e9a3a5"/><path d="M1770.1 564.2L1771.9 564.2Q1771.8 604.2 1771.0 637.0Q1770.2 604.2 1770.1 564.2Z" fill="#e9a3a5"/><path d="M1460.1 564.2L1461.9 564.2Q1461.8 570.1 1461.0 575.0Q1460.2 570.1 1460.1 564.2Z" fill="#e9a3a5"/><path d="M1467.1 564.2L1468.9 564.2Q1468.8 568.5 1468.0 572.0Q1467.2 568.5 1467.1 564.2Z" fill="#e9a3a5"/><path d="M1474.1 564.2L1475.9 564.2Q1475.8 572.9 1475.0 580.0Q1474.2 572.9 1474.1 564.2Z" fill="#e9a3a5"/><path d="M1442.0 628.0Q1440.4 637.5 1442.0 647.0Q1443.6 637.5 1442.0 628.0Z" fill="#e9a3a5"/><path d="M1450.0 630.0Q1448.4 640.0 1450.0 650.0Q1451.6 640.0 1450.0 630.0Z" fill="#e9a3a5"/><path d="M1401.6 741.0Q1399.6 768.0 1404.0 795.0Q1406.0 768.0 1401.6 741.0Z" fill="#e6898a"/><path d="M1402.3 752.0Q1401.1 768.5 1403.6 785.0Q1404.7 768.5 1402.3 752.0Z" fill="#d84848"/><path d="M1491.7 758.2 C1488.5 800 1492 870 1503.2 918.5 C1505 880 1500 800 1491.7 758.2Z" fill="#eba5a7"/><path d="M1601.3 692 C1599.5 720 1600 745 1601.2 762 C1603.8 745 1603.5 720 1601.3 692Z" fill="#d3302f"/><path d="M1492.9 778.4 C1490.7 820 1494.2 870 1501.5 893.5 C1502.7 860 1498.7 810 1492.9 778.4Z" fill="#d2282d"/></g>
<line x1="1391.7" y1="858.1" x2="1776.0" y2="858.1" stroke="#a8a8a8" stroke-width="0.9" stroke-dasharray="3.4 1.6" opacity="0.7"/>
<line x1="1391.7" y1="767.5" x2="1776.0" y2="767.5" stroke="#a8a8a8" stroke-width="0.9" stroke-dasharray="3.4 1.6" opacity="0.7"/>
<line x1="1391.7" y1="676.9" x2="1776.0" y2="676.9" stroke="#a8a8a8" stroke-width="0.9" stroke-dasharray="3.4 1.6" opacity="0.7"/>
<line x1="1391.7" y1="586.3" x2="1776.0" y2="586.3" stroke="#a8a8a8" stroke-width="0.9" stroke-dasharray="3.4 1.6" opacity="0.7"/>
<line x1="1495.9" y1="563.6" x2="1495.9" y2="948.7" stroke="#a8a8a8" stroke-width="0.9" stroke-dasharray="3.4 1.6" opacity="0.7"/>
<line x1="1600.1" y1="563.6" x2="1600.1" y2="948.7" stroke="#a8a8a8" stroke-width="0.9" stroke-dasharray="3.4 1.6" opacity="0.7"/>
<line x1="1704.4" y1="563.6" x2="1704.4" y2="948.7" stroke="#a8a8a8" stroke-width="0.9" stroke-dasharray="3.4 1.6" opacity="0.7"/>
<path d="M1391.7 754.7L1392.2 755.9L1392.7 757.1L1393.1 758.5L1393.6 759.9L1394.1 761.5L1394.6 763.1L1395.1 764.8L1395.5 766.6L1396.0 768.5L1396.5 770.4L1397.0 772.5L1397.5 774.7L1398.0 777.0L1398.4 779.4L1398.9 781.9L1399.4 784.4L1399.9 786.9L1400.4 789.5L1400.8 792.1L1401.3 794.6L1401.8 797.2L1402.3 799.8L1402.8 802.4L1403.2 804.9L1403.7 807.5L1404.2 810.0L1404.7 812.6L1405.2 815.1L1405.6 817.7L1406.1 820.2L1406.6 822.8L1407.1 825.3L1407.6 827.8L1408.1 830.4L1408.5 832.9L1409.0 835.4L1409.5 837.9L1410.0 840.3L1410.5 842.6L1410.9 844.8L1411.4 846.9L1411.9 848.8L1412.4 850.7L1412.9 852.5L1413.3 854.3L1413.8 856.0L1414.3 857.7L1414.8 859.4L1415.3 860.9L1415.7 862.5L1416.2 863.9L1416.7 865.4L1417.2 866.8L1417.7 868.1L1418.2 869.3L1418.6 870.3L1419.1 871.1L1419.6 871.7L1420.1 872.0L1420.6 872.1L1421.0 871.8L1421.5 871.2L1422.0 870.4L1422.5 869.3L1423.0 868.1L1423.4 866.6L1423.9 864.9L1424.4 863.1L1424.9 861.2L1425.4 859.3L1425.8 857.4L1426.3 855.5L1426.8 853.6L1427.3 851.6L1427.8 849.7L1428.3 847.8L1428.7 845.9L1429.2 843.9L1429.7 842.0L1430.2 840.1L1430.7 838.2L1431.1 836.2L1431.6 834.3L1432.1 832.4L1432.6 830.5L1433.1 828.6L1433.5 826.7L1434.0 824.7L1434.5 822.8L1435.0 820.9L1435.5 819.0L1435.9 817.1L1436.4 815.1L1436.9 813.2L1437.4 811.3L1437.9 809.4L1438.4 807.5L1438.8 805.6L1439.3 803.7L1439.8 801.8L1440.3 799.9L1440.8 798.1L1441.2 796.2L1441.7 794.4L1442.2 792.6L1442.7 790.7L1443.2 788.9L1443.6 787.1L1444.1 785.4L1444.6 783.6L1445.1 781.8L1445.6 780.1L1446.1 778.3L1446.5 776.6L1447.0 774.9L1447.5 773.3L1448.0 771.8L1448.5 770.4L1448.9 769.0L1449.4 767.6L1449.9 766.4L1450.4 765.1L1450.9 763.9L1451.3 762.8L1451.8 761.8L1452.3 760.8L1452.8 760.0L1453.3 759.2L1453.7 758.5L1454.2 757.8L1454.7 757.2L1455.2 756.7L1455.7 756.2L1456.2 755.7L1456.6 755.3L1457.1 755.0L1457.6 754.6L1458.1 754.3L1458.6 754.1L1459.0 753.8L1459.5 753.6L1460.0 753.5L1460.5 753.3L1461.0 753.2L1461.4 753.1L1461.9 753.1L1462.4 753.1L1462.9 753.1L1463.4 753.2L1463.8 753.3L1464.3 753.5L1464.8 753.7L1465.3 753.9L1465.8 754.2L1466.3 754.5L1466.7 754.9L1467.2 755.4L1467.7 755.9L1468.2 756.5L1468.7 757.1L1469.1 757.8L1469.6 758.6L1470.1 759.4L1470.6 760.2L1471.1 761.1L1471.5 762.0L1472.0 763.0L1472.5 763.9L1473.0 765.0L1473.5 766.0L1473.9 767.2L1474.4 768.4L1474.9 769.7L1475.4 771.2L1475.9 772.7L1476.4 774.4L1476.8 776.2L1477.3 778.1L1477.8 780.0L1478.3 782.1L1478.8 784.1L1479.2 786.2L1479.7 788.3L1480.2 790.3L1480.7 792.4L1481.2 794.5L1481.6 796.6L1482.1 798.7L1482.6 800.7L1483.1 802.7L1483.6 804.6L1484.0 806.5L1484.5 808.4L1485.0 810.3L1485.5 812.3L1486.0 814.4L1486.5 816.6L1486.9 819.1L1487.4 821.8L1487.9 824.6L1488.4 827.6L1488.9 830.5L1489.3 833.5L1489.8 836.3L1490.3 839.0L1490.8 841.7L1491.3 844.5L1491.7 847.4L1492.2 850.5L1492.7 853.9L1493.2 857.6L1493.7 861.5L1494.1 865.6L1494.6 869.9L1495.1 874.2L1495.6 878.7L1496.1 883.1L1496.6 887.5L1497.0 891.9L1497.5 896.3L1498.0 900.7L1498.5 905.1L1499.0 909.4L1499.4 913.8L1499.9 918.2L1500.4 922.5L1500.9 926.7L1501.4 930.7L1501.8 934.4L1502.3 937.5L1502.8 940.2L1503.3 942.2L1503.8 943.7L1504.2 944.5L1504.7 944.7L1505.2 944.5L1505.7 943.9L1506.2 943.0L1506.7 941.9L1507.1 940.8L1507.6 939.4L1508.1 938.0L1508.6 936.5L1509.1 934.9L1509.5 933.2L1510.0 931.5L1510.5 929.8L1511.0 928.1L1511.5 926.4L1511.9 924.6L1512.4 922.8L1512.9 920.9L1513.4 919.0L1513.9 917.0L1514.3 914.9L1514.8 912.8L1515.3 910.5L1515.8 908.1L1516.3 905.6L1516.8 902.9L1517.2 900.1L1517.7 897.1L1518.2 894.1L1518.7 890.9L1519.2 887.5L1519.6 884.1L1520.1 880.5L1520.6 876.8L1521.1 872.9L1521.6 868.9L1522.0 864.7L1522.5 860.4L1523.0 856.0L1523.5 851.5L1524.0 847.1L1524.4 842.7L1524.9 838.4L1525.4 834.1L1525.9 829.9L1526.4 825.7L1526.9 821.7L1527.3 817.9L1527.8 814.5L1528.3 811.5L1528.8 809.0L1529.3 806.8L1529.7 804.9L1530.2 803.2L1530.7 801.5L1531.2 799.9L1531.7 798.3L1532.1 796.7L1532.6 795.2L1533.1 793.7L1533.6 792.2L1534.1 790.8L1534.5 789.3L1535.0 787.9L1535.5 786.5L1536.0 785.2L1536.5 783.8L1537.0 782.4L1537.4 780.9L1537.9 779.2L1538.4 777.4L1538.9 775.4L1539.4 773.2L1539.8 770.9L1540.3 768.6L1540.8 766.1L1541.3 763.7L1541.8 761.2L1542.2 758.8L1542.7 756.3L1543.2 753.8L1543.7 751.3L1544.2 748.8L1544.7 746.3L1545.1 743.9L1545.6 741.6L1546.1 739.5L1546.6 737.6L1547.1 736.1L1547.5 734.9L1548.0 734.1L1548.5 733.5L1549.0 733.1L1549.5 732.9L1549.9 732.9L1550.4 732.9L1550.9 732.9L1551.4 732.9L1551.9 732.9L1552.3 732.8L1552.8 732.7L1553.3 732.6L1553.8 732.6L1554.3 732.5L1554.8 732.4L1555.2 732.2L1555.7 732.0L1556.2 731.7L1556.7 731.3L1557.2 730.8L1557.6 730.4L1558.1 729.9L1558.6 729.3L1559.1 728.8L1559.6 728.2L1560.0 727.7L1560.5 727.2L1561.0 726.8L1561.5 726.3L1562.0 726.0L1562.4 725.6L1562.9 725.3L1563.4 725.0L1563.9 724.7L1564.4 724.5L1564.9 724.4L1565.3 724.3L1565.8 724.2L1566.3 724.3L1566.8 724.4L1567.3 724.6L1567.7 724.9L1568.2 725.4L1568.7 725.9L1569.2 726.5L1569.7 727.3L1570.1 728.1L1570.6 729.0L1571.1 729.9L1571.6 730.8L1572.1 731.7L1572.5 732.6L1573.0 733.4L1573.5 734.1L1574.0 734.8L1574.5 735.5L1575.0 736.1L1575.4 736.6L1575.9 737.2L1576.4 737.8L1576.9 738.4L1577.4 738.9L1577.8 739.5L1578.3 740.0L1578.8 740.6L1579.3 741.1L1579.8 741.5L1580.2 742.0L1580.7 742.4L1581.2 742.9L1581.7 743.4L1582.2 744.0L1582.6 744.7L1583.1 745.5L1583.6 746.6L1584.1 748.0L1584.6 749.5L1585.1 751.2L1585.5 753.0L1586.0 754.9L1586.5 756.8L1587.0 758.6L1587.5 760.4L1587.9 762.0L1588.4 763.6L1588.9 765.0L1589.4 766.4L1589.9 767.7L1590.3 769.1L1590.8 770.4L1591.3 771.6L1591.8 772.8L1592.3 773.9L1592.7 774.8L1593.2 775.7L1593.7 776.4L1594.2 776.9L1594.7 777.4L1595.2 777.7L1595.6 777.9L1596.1 778.0L1596.6 778.1L1597.1 778.2L1597.6 778.2L1598.0 778.3L1598.5 778.4L1599.0 778.6L1599.5 778.8L1600.0 779.1L1600.4 779.4L1600.9 779.8L1601.4 780.2L1601.9 780.6L1602.4 780.9L1602.8 781.3L1603.3 781.7L1603.8 782.1L1604.3 782.5L1604.8 782.9L1605.3 783.3L1605.7 783.6L1606.2 784.0L1606.7 784.4L1607.2 784.8L1607.7 785.2L1608.1 785.6L1608.6 786.0L1609.1 786.3L1609.6 786.4L1610.1 786.4L1610.5 786.0L1611.0 785.2L1611.5 784.2L1612.0 782.9L1612.5 781.4L1612.9 779.8L1613.4 778.2L1613.9 776.5L1614.4 774.9L1614.9 773.1L1615.4 771.4L1615.8 769.6L1616.3 767.7L1616.8 765.9L1617.3 764.1L1617.8 762.3L1618.2 760.7L1618.7 759.1L1619.2 757.7L1619.7 756.4L1620.2 755.2L1620.6 753.9L1621.1 752.8L1621.6 751.6L1622.1 750.5L1622.6 749.4L1623.0 748.3L1623.5 747.2L1624.0 746.2L1624.5 745.2L1625.0 744.2L1625.5 743.3L1625.9 742.4L1626.4 741.4L1626.9 740.5L1627.4 739.6L1627.9 738.6L1628.3 737.5L1628.8 736.4L1629.3 735.2L1629.8 733.9L1630.3 732.5L1630.7 731.0L1631.2 729.5L1631.7 727.9L1632.2 726.4L1632.7 724.8L1633.2 723.3L1633.6 721.9L1634.1 720.6L1634.6 719.4L1635.1 718.2L1635.6 717.0L1636.0 716.0L1636.5 714.9L1637.0 713.9L1637.5 712.9L1638.0 711.9L1638.4 711.0L1638.9 710.2L1639.4 709.3L1639.9 708.5L1640.4 707.8L1640.8 707.0L1641.3 706.3L1641.8 705.6L1642.3 704.9L1642.8 704.3L1643.3 703.6L1643.7 703.0L1644.2 702.4L1644.7 701.8L1645.2 701.2L1645.7 700.7L1646.1 700.2L1646.6 699.7L1647.1 699.2L1647.6 698.7L1648.1 698.3L1648.5 697.9L1649.0 697.5L1649.5 697.1L1650.0 696.7L1650.5 696.4L1650.9 696.1L1651.4 695.7L1651.9 695.4L1652.4 695.2L1652.9 694.9L1653.4 694.6L1653.8 694.4L1654.3 694.2L1654.8 694.0L1655.3 693.7L1655.8 693.6L1656.2 693.4L1656.7 693.2L1657.2 693.1L1657.7 692.9L1658.2 692.8L1658.6 692.7L1659.1 692.6L1659.6 692.6L1660.1 692.5L1660.6 692.5L1661.0 692.5L1661.5 692.6L1662.0 692.6L1662.5 692.7L1663.0 692.8L1663.5 692.9L1663.9 693.1L1664.4 693.3L1664.9 693.5L1665.4 693.7L1665.9 694.1L1666.3 694.4L1666.8 694.8L1667.3 695.3L1667.8 695.8L1668.3 696.4L1668.7 697.0L1669.2 697.6L1669.7 698.4L1670.2 699.1L1670.7 699.9L1671.1 700.8L1671.6 701.7L1672.1 702.6L1672.6 703.6L1673.1 704.6L1673.6 705.6L1674.0 706.6L1674.5 707.6L1675.0 708.5L1675.5 709.5L1676.0 710.4L1676.4 711.3L1676.9 712.1L1677.4 713.0L1677.9 713.8L1678.4 714.6L1678.8 715.4L1679.3 716.1L1679.8 716.9L1680.3 717.6L1680.8 718.4L1681.2 719.1L1681.7 719.7L1682.2 720.3L1682.7 720.9L1683.2 721.3L1683.7 721.8L1684.1 722.2L1684.6 722.6L1685.1 723.1L1685.6 723.6L1686.1 724.2L1686.5 724.9L1687.0 725.8L1687.5 726.8L1688.0 727.8L1688.5 729.0L1688.9 730.2L1689.4 731.5L1689.9 732.8L1690.4 734.1L1690.9 735.4L1691.3 736.7L1691.8 738.0L1692.3 739.3L1692.8 740.5L1693.3 741.8L1693.8 743.1L1694.2 744.4L1694.7 745.6L1695.2 746.8L1695.7 747.9L1696.2 748.8L1696.6 749.6L1697.1 750.3L1697.6 750.7L1698.1 751.1L1698.6 751.2L1699.0 751.3L1699.5 751.3L1700.0 751.2L1700.5 751.0L1701.0 750.8L1701.4 750.6L1701.9 750.4L1702.4 750.3L1702.9 750.2L1703.4 750.2L1703.9 750.3L1704.3 750.4L1704.8 750.5L1705.3 750.6L1705.8 750.7L1706.3 750.9L1706.7 751.0L1707.2 751.2L1707.7 751.4L1708.2 751.6L1708.7 751.9L1709.1 752.2L1709.6 752.6L1710.1 752.9L1710.6 753.3L1711.1 753.5L1711.5 753.7L1712.0 753.8L1712.5 753.7L1713.0 753.5L1713.5 753.1L1714.0 752.5L1714.4 751.7L1714.9 750.8L1715.4 749.9L1715.9 748.9L1716.4 747.8L1716.8 746.7L1717.3 745.6L1717.8 744.4L1718.3 743.1L1718.8 741.7L1719.2 740.3L1719.7 738.9L1720.2 737.5L1720.7 736.1L1721.2 734.8L1721.6 733.6L1722.1 732.5L1722.6 731.5L1723.1 730.7L1723.6 730.1L1724.1 729.6L1724.5 729.2L1725.0 728.9L1725.5 728.7L1726.0 728.5L1726.5 728.4L1726.9 728.2L1727.4 728.0L1727.9 727.7L1728.4 727.4L1728.9 726.9L1729.3 726.3L1729.8 725.6L1730.3 724.8L1730.8 723.9L1731.3 723.0L1731.8 722.1L1732.2 721.1L1732.7 720.2L1733.2 719.2L1733.7 718.2L1734.2 717.3L1734.6 716.4L1735.1 715.5L1735.6 714.7L1736.1 713.9L1736.6 713.2L1737.0 712.5L1737.5 711.9L1738.0 711.2L1738.5 710.6L1739.0 710.0L1739.4 709.5L1739.9 709.0L1740.4 708.5L1740.9 708.0L1741.4 707.6L1741.9 707.2L1742.3 706.8L1742.8 706.4L1743.3 706.1L1743.8 705.8L1744.3 705.6L1744.7 705.4L1745.2 705.2L1745.7 705.0L1746.2 704.9L1746.7 704.9L1747.1 704.9L1747.6 704.9L1748.1 705.0L1748.6 705.1L1749.1 705.3L1749.5 705.5L1750.0 705.7L1750.5 705.9L1751.0 706.2L1751.5 706.5L1752.0 706.8L1752.4 707.1L1752.9 707.4L1753.4 707.7L1753.9 708.1L1754.4 708.5L1754.8 708.8L1755.3 709.2L1755.8 709.6L1756.3 710.0L1756.8 710.4L1757.2 710.9L1757.7 711.3L1758.2 711.7L1758.7 712.2L1759.2 712.7L1759.6 713.2L1760.1 713.7L1760.6 714.2L1761.1 714.7L1761.6 715.3L1762.1 715.8L1762.5 716.4L1763.0 717.0L1763.5 717.6L1764.0 718.2L1764.5 718.8L1764.9 719.5L1765.4 720.2L1765.9 721.0L1766.4 721.8L1766.9 722.8L1767.3 723.8L1767.8 724.9L1768.3 726.0L1768.8 727.3L1769.3 728.5L1769.7 729.9L1770.2 731.3L1770.7 732.8L1771.2 734.5L1771.7 736.3L1772.2 738.4L1772.6 740.6L1773.1 743.0L1773.6 745.3L1774.1 747.6L1774.6 749.7L1775.0 751.6L1775.5 753.3L1776.0 754.7" fill="none" stroke="#000000" stroke-width="2.6" stroke-linejoin="round"/>
<line x1="1391.7" y1="948.7" x2="1396.7" y2="948.7" stroke="#222" stroke-width="1.6"/>
<line x1="1771.0" y1="948.7" x2="1776.0" y2="948.7" stroke="#222" stroke-width="1.6"/>
<line x1="1391.7" y1="858.1" x2="1396.7" y2="858.1" stroke="#222" stroke-width="1.6"/>
<line x1="1771.0" y1="858.1" x2="1776.0" y2="858.1" stroke="#222" stroke-width="1.6"/>
<line x1="1391.7" y1="767.5" x2="1396.7" y2="767.5" stroke="#222" stroke-width="1.6"/>
<line x1="1771.0" y1="767.5" x2="1776.0" y2="767.5" stroke="#222" stroke-width="1.6"/>
<line x1="1391.7" y1="676.9" x2="1396.7" y2="676.9" stroke="#222" stroke-width="1.6"/>
<line x1="1771.0" y1="676.9" x2="1776.0" y2="676.9" stroke="#222" stroke-width="1.6"/>
<line x1="1391.7" y1="586.3" x2="1396.7" y2="586.3" stroke="#222" stroke-width="1.6"/>
<line x1="1771.0" y1="586.3" x2="1776.0" y2="586.3" stroke="#222" stroke-width="1.6"/>
<line x1="1391.7" y1="948.7" x2="1391.7" y2="943.7" stroke="#222" stroke-width="1.6"/>
<line x1="1391.7" y1="563.6" x2="1391.7" y2="568.6" stroke="#222" stroke-width="1.6"/>
<line x1="1495.9" y1="948.7" x2="1495.9" y2="943.7" stroke="#222" stroke-width="1.6"/>
<line x1="1495.9" y1="563.6" x2="1495.9" y2="568.6" stroke="#222" stroke-width="1.6"/>
<line x1="1600.1" y1="948.7" x2="1600.1" y2="943.7" stroke="#222" stroke-width="1.6"/>
<line x1="1600.1" y1="563.6" x2="1600.1" y2="568.6" stroke="#222" stroke-width="1.6"/>
<line x1="1704.4" y1="948.7" x2="1704.4" y2="943.7" stroke="#222" stroke-width="1.6"/>
<line x1="1704.4" y1="563.6" x2="1704.4" y2="568.6" stroke="#222" stroke-width="1.6"/>
<rect x="1391.7" y="563.6" width="384.3" height="385.1" fill="none" stroke="#c0c0c0" stroke-width="1.3"/>
<rect x="128.6" y="563.6" width="64.6" height="68.0" fill="#fff"/>
<path d="M193.2 563.6V631.6H128.6" fill="none" stroke="#1a1a1a" stroke-width="1.4"/>
<path d="M128.6 631.6V563.6H193.2" fill="none" stroke="#c0c0c0" stroke-width="1.3"/>
<text x="142.6" y="607.9" fill="#000" font-weight="bold"><tspan font-size="35">c</tspan><tspan font-size="40.5" dx="1.5">)</tspan></text>
<rect x="759.8" y="563.6" width="67.6" height="68.0" fill="#fff"/>
<path d="M827.4 563.6V631.6H759.8" fill="none" stroke="#1a1a1a" stroke-width="1.4"/>
<path d="M759.8 631.6V563.6H827.4" fill="none" stroke="#c0c0c0" stroke-width="1.3"/>
<text x="773.8" y="607.9" fill="#000" font-weight="bold"><tspan font-size="35">d</tspan><tspan font-size="40.5" dx="1.5">)</tspan></text>
<rect x="1391.7" y="563.6" width="65.2" height="68.0" fill="#fff"/>
<path d="M1456.9 563.6V631.6H1391.7" fill="none" stroke="#1a1a1a" stroke-width="1.4"/>
<path d="M1391.7 631.6V563.6H1456.9" fill="none" stroke="#c0c0c0" stroke-width="1.3"/>
<text x="1405.7" y="607.9" fill="#000" font-weight="bold"><tspan font-size="35">e</tspan><tspan font-size="40.5" dx="1.5">)</tspan></text>
<text transform="translate(106.8,959.0) scale(0.900,1)" font-size="29.5" fill="#000" text-anchor="middle">0</text>
<text transform="translate(106.8,868.4) scale(0.900,1)" font-size="29.5" fill="#000" text-anchor="middle">2</text>
<text transform="translate(106.8,777.8) scale(0.900,1)" font-size="29.5" fill="#000" text-anchor="middle">4</text>
<text transform="translate(106.8,687.2) scale(0.900,1)" font-size="29.5" fill="#000" text-anchor="middle">6</text>
<text transform="translate(106.8,596.6) scale(0.900,1)" font-size="29.5" fill="#000" text-anchor="middle">8</text>
<text transform="translate(128.6,983.0) scale(0.900,1)" font-size="29.5" fill="#000" text-anchor="middle">0</text>
<text transform="translate(232.8,983.0) scale(0.900,1)" font-size="29.5" fill="#000" text-anchor="middle">20</text>
<text transform="translate(337.0,983.0) scale(0.900,1)" font-size="29.5" fill="#000" text-anchor="middle">40</text>
<text transform="translate(441.3,983.0) scale(0.900,1)" font-size="29.5" fill="#000" text-anchor="middle">60</text>
<text x="319.2" y="1029.9" fill="#000" text-anchor="middle"><tspan font-size="31">t</tspan><tspan dx="14.5" font-size="38.5" dy="0.8">[</tspan><tspan font-size="30" dx="0.5" dy="-0.8">ns</tspan><tspan font-size="38.5" dx="0.5" dy="0.8">]</tspan></text>
<text transform="translate(78.0,758.0) rotate(-90)" fill="#000" text-anchor="middle"><tspan font-size="30">x</tspan><tspan dx="13" font-size="38.5" dy="0.8">[</tspan><tspan font-size="30" dx="0.5" dy="-0.8">mm</tspan><tspan font-size="38.5" dx="0.5" dy="0.8">]</tspan></text>
<text transform="translate(738.0,959.0) scale(0.900,1)" font-size="29.5" fill="#000" text-anchor="middle">0</text>
<text transform="translate(738.0,868.4) scale(0.900,1)" font-size="29.5" fill="#000" text-anchor="middle">2</text>
<text transform="translate(738.0,777.8) scale(0.900,1)" font-size="29.5" fill="#000" text-anchor="middle">4</text>
<text transform="translate(738.0,687.2) scale(0.900,1)" font-size="29.5" fill="#000" text-anchor="middle">6</text>
<text transform="translate(738.0,596.6) scale(0.900,1)" font-size="29.5" fill="#000" text-anchor="middle">8</text>
<text transform="translate(759.8,983.0) scale(0.900,1)" font-size="29.5" fill="#000" text-anchor="middle">0</text>
<text transform="translate(864.0,983.0) scale(0.900,1)" font-size="29.5" fill="#000" text-anchor="middle">20</text>
<text transform="translate(968.2,983.0) scale(0.900,1)" font-size="29.5" fill="#000" text-anchor="middle">40</text>
<text transform="translate(1072.5,983.0) scale(0.900,1)" font-size="29.5" fill="#000" text-anchor="middle">60</text>
<text x="950.4" y="1029.9" fill="#000" text-anchor="middle"><tspan font-size="31">t</tspan><tspan dx="14.5" font-size="38.5" dy="0.8">[</tspan><tspan font-size="30" dx="0.5" dy="-0.8">ns</tspan><tspan font-size="38.5" dx="0.5" dy="0.8">]</tspan></text>
<text transform="translate(709.2,758.0) rotate(-90)" fill="#000" text-anchor="middle"><tspan font-size="30">x</tspan><tspan dx="13" font-size="38.5" dy="0.8">[</tspan><tspan font-size="30" dx="0.5" dy="-0.8">mm</tspan><tspan font-size="38.5" dx="0.5" dy="0.8">]</tspan></text>
<text transform="translate(1369.6,959.0) scale(0.900,1)" font-size="29.5" fill="#000" text-anchor="middle">0</text>
<text transform="translate(1369.6,868.4) scale(0.900,1)" font-size="29.5" fill="#000" text-anchor="middle">2</text>
<text transform="translate(1369.6,777.8) scale(0.900,1)" font-size="29.5" fill="#000" text-anchor="middle">4</text>
<text transform="translate(1369.6,687.2) scale(0.900,1)" font-size="29.5" fill="#000" text-anchor="middle">6</text>
<text transform="translate(1369.6,596.6) scale(0.900,1)" font-size="29.5" fill="#000" text-anchor="middle">8</text>
<text transform="translate(1391.7,983.0) scale(0.900,1)" font-size="29.5" fill="#000" text-anchor="middle">0</text>
<text transform="translate(1495.9,983.0) scale(0.900,1)" font-size="29.5" fill="#000" text-anchor="middle">20</text>
<text transform="translate(1600.1,983.0) scale(0.900,1)" font-size="29.5" fill="#000" text-anchor="middle">40</text>
<text transform="translate(1704.4,983.0) scale(0.900,1)" font-size="29.5" fill="#000" text-anchor="middle">60</text>
<text x="1582.3" y="1029.9" fill="#000" text-anchor="middle"><tspan font-size="31">t</tspan><tspan dx="14.5" font-size="38.5" dy="0.8">[</tspan><tspan font-size="30" dx="0.5" dy="-0.8">ns</tspan><tspan font-size="38.5" dx="0.5" dy="0.8">]</tspan></text>
<text transform="translate(1341.1,758.0) rotate(-90)" fill="#000" text-anchor="middle"><tspan font-size="30">x</tspan><tspan dx="13" font-size="38.5" dy="0.8">[</tspan><tspan font-size="30" dx="0.5" dy="-0.8">mm</tspan><tspan font-size="38.5" dx="0.5" dy="0.8">]</tspan></text>
<rect x="538.0" y="583.4" width="17.3" height="365.0" fill="url(#cbc)" stroke="#c4c4c4" stroke-width="1.2"/>
<text x="591.7" y="958.0" font-size="27" fill="#000" text-anchor="middle">0.00</text>
<line x1="549.3" y1="911.5" x2="555.3" y2="911.5" stroke="#222" stroke-width="1.6"/>
<text x="591.7" y="921.1" font-size="27" fill="#000" text-anchor="middle">0.67</text>
<line x1="549.3" y1="874.5" x2="555.3" y2="874.5" stroke="#222" stroke-width="1.6"/>
<text x="591.7" y="884.1" font-size="27" fill="#000" text-anchor="middle">1.34</text>
<line x1="549.3" y1="837.6" x2="555.3" y2="837.6" stroke="#222" stroke-width="1.6"/>
<text x="591.7" y="847.2" font-size="27" fill="#000" text-anchor="middle">2.01</text>
<line x1="549.3" y1="800.6" x2="555.3" y2="800.6" stroke="#222" stroke-width="1.6"/>
<text x="591.7" y="810.2" font-size="27" fill="#000" text-anchor="middle">2.68</text>
<line x1="549.3" y1="763.7" x2="555.3" y2="763.7" stroke="#222" stroke-width="1.6"/>
<text x="591.7" y="773.3" font-size="27" fill="#000" text-anchor="middle">3.35</text>
<line x1="549.3" y1="726.8" x2="555.3" y2="726.8" stroke="#222" stroke-width="1.6"/>
<text x="591.7" y="736.4" font-size="27" fill="#000" text-anchor="middle">4.02</text>
<line x1="549.3" y1="689.8" x2="555.3" y2="689.8" stroke="#222" stroke-width="1.6"/>
<text x="591.7" y="699.4" font-size="27" fill="#000" text-anchor="middle">4.69</text>
<line x1="549.3" y1="652.9" x2="555.3" y2="652.9" stroke="#222" stroke-width="1.6"/>
<text x="591.7" y="662.5" font-size="27" fill="#000" text-anchor="middle">5.36</text>
<line x1="549.3" y1="615.9" x2="555.3" y2="615.9" stroke="#222" stroke-width="1.6"/>
<text x="591.7" y="625.5" font-size="27" fill="#000" text-anchor="middle">6.03</text>
<rect x="1169.0" y="583.4" width="17.6" height="365.0" fill="url(#cbd)" stroke="#c4c4c4" stroke-width="1.2"/>
<text x="1223.1" y="958.0" font-size="27" fill="#000" text-anchor="middle">0.00</text>
<line x1="1180.6" y1="910.1" x2="1186.6" y2="910.1" stroke="#222" stroke-width="1.6"/>
<text x="1223.1" y="919.7" font-size="27" fill="#000" text-anchor="middle">0.67</text>
<line x1="1180.6" y1="871.7" x2="1186.6" y2="871.7" stroke="#222" stroke-width="1.6"/>
<text x="1223.1" y="881.3" font-size="27" fill="#000" text-anchor="middle">1.34</text>
<line x1="1180.6" y1="833.4" x2="1186.6" y2="833.4" stroke="#222" stroke-width="1.6"/>
<text x="1223.1" y="843.0" font-size="27" fill="#000" text-anchor="middle">2.01</text>
<line x1="1180.6" y1="795.1" x2="1186.6" y2="795.1" stroke="#222" stroke-width="1.6"/>
<text x="1223.1" y="804.7" font-size="27" fill="#000" text-anchor="middle">2.68</text>
<line x1="1180.6" y1="756.7" x2="1186.6" y2="756.7" stroke="#222" stroke-width="1.6"/>
<text x="1223.1" y="766.3" font-size="27" fill="#000" text-anchor="middle">3.35</text>
<line x1="1180.6" y1="718.4" x2="1186.6" y2="718.4" stroke="#222" stroke-width="1.6"/>
<text x="1223.1" y="728.0" font-size="27" fill="#000" text-anchor="middle">4.02</text>
<line x1="1180.6" y1="680.1" x2="1186.6" y2="680.1" stroke="#222" stroke-width="1.6"/>
<text x="1223.1" y="689.7" font-size="27" fill="#000" text-anchor="middle">4.69</text>
<line x1="1180.6" y1="641.8" x2="1186.6" y2="641.8" stroke="#222" stroke-width="1.6"/>
<text x="1223.1" y="651.4" font-size="27" fill="#000" text-anchor="middle">5.36</text>
<line x1="1180.6" y1="603.4" x2="1186.6" y2="603.4" stroke="#222" stroke-width="1.6"/>
<text x="1223.1" y="613.0" font-size="27" fill="#000" text-anchor="middle">6.03</text>
<rect x="1799.8" y="583.0" width="18.8" height="365.4" fill="url(#cbe)" stroke="#c4c4c4" stroke-width="1.2"/>
<line x1="1812.6" y1="622.8" x2="1818.6" y2="622.8" stroke="#222" stroke-width="1.6"/>
<text x="1857.2" y="632.4" font-size="27" fill="#000" text-anchor="middle">−10</text>
<line x1="1812.6" y1="657.3" x2="1818.6" y2="657.3" stroke="#222" stroke-width="1.6"/>
<text x="1857.2" y="666.9" font-size="27" fill="#000" text-anchor="middle">−20</text>
<line x1="1812.6" y1="691.8" x2="1818.6" y2="691.8" stroke="#222" stroke-width="1.6"/>
<text x="1857.2" y="701.4" font-size="27" fill="#000" text-anchor="middle">−30</text>
<line x1="1812.6" y1="726.3" x2="1818.6" y2="726.3" stroke="#222" stroke-width="1.6"/>
<text x="1857.2" y="735.9" font-size="27" fill="#000" text-anchor="middle">−40</text>
<line x1="1812.6" y1="760.8" x2="1818.6" y2="760.8" stroke="#222" stroke-width="1.6"/>
<text x="1857.2" y="770.4" font-size="27" fill="#000" text-anchor="middle">−50</text>
<line x1="1812.6" y1="795.3" x2="1818.6" y2="795.3" stroke="#222" stroke-width="1.6"/>
<text x="1857.2" y="804.9" font-size="27" fill="#000" text-anchor="middle">−60</text>
<line x1="1812.6" y1="829.8" x2="1818.6" y2="829.8" stroke="#222" stroke-width="1.6"/>
<text x="1857.2" y="839.4" font-size="27" fill="#000" text-anchor="middle">−70</text>
<line x1="1812.6" y1="864.3" x2="1818.6" y2="864.3" stroke="#222" stroke-width="1.6"/>
<text x="1857.2" y="873.9" font-size="27" fill="#000" text-anchor="middle">−80</text>
<line x1="1812.6" y1="898.8" x2="1818.6" y2="898.8" stroke="#222" stroke-width="1.6"/>
<text x="1857.2" y="908.4" font-size="27" fill="#000" text-anchor="middle">−90</text>
<line x1="1812.6" y1="933.3" x2="1818.6" y2="933.3" stroke="#222" stroke-width="1.6"/>
<text x="1857.2" y="942.9" font-size="27" fill="#000" text-anchor="middle">−100</text>
<text x="526.0" y="542.0" font-size="27" fill="#000" text-anchor="start" font-style="italic">n</text>
<text x="539.8" y="546.7" font-size="20" fill="#000" text-anchor="start" >e</text>
<text x="560.7" y="543.0" font-size="33" fill="#000" text-anchor="start" >[</text>
<text x="567.7" y="542.0" font-size="27" fill="#000" text-anchor="start" >m</text>
<text x="590.7" y="530.9" font-size="20" fill="#000" text-anchor="start" >−3</text>
<text x="617.5" y="543.0" font-size="33" fill="#000" text-anchor="start" >]</text>
<text x="565.5" y="579.4" font-size="27.4" fill="#000" text-anchor="start" >×10</text>
<text x="612.8" y="568.8" font-size="19.5" fill="#000" text-anchor="start" >15</text>
<text x="1159.7" y="542.0" font-size="27" fill="#000" text-anchor="start" font-style="italic">n</text>
<text x="1173.5" y="546.7" font-size="20" fill="#000" text-anchor="start" >i</text>
<text x="1190.1" y="543.0" font-size="33" fill="#000" text-anchor="start" >[</text>
<text x="1197.1" y="542.0" font-size="27" fill="#000" text-anchor="start" >m</text>
<text x="1220.1" y="530.9" font-size="20" fill="#000" text-anchor="start" >−3</text>
<text x="1246.9" y="543.0" font-size="33" fill="#000" text-anchor="start" >]</text>
<text x="1195.9" y="579.4" font-size="27.4" fill="#000" text-anchor="start" >×10</text>
<text x="1243.2" y="568.8" font-size="19.5" fill="#000" text-anchor="start" >15</text>
<text x="1801.0" y="561.9" font-size="30.7" fill="#000" text-anchor="start" font-style="italic">E</text>
<text x="1819.2" y="566.1" font-size="21" fill="#000" text-anchor="start" >PIC</text>
<text x="1861.5" y="562.9" font-size="33" fill="#000" text-anchor="start" >[</text>
<text x="1884.8" y="550.0" font-size="21.7" fill="#000" text-anchor="middle" >kV</text>
<line x1="1872.2" y1="554.2" x2="1896.8" y2="554.2" stroke="#000" stroke-width="1.5"/>
<text x="1884.6" y="571.8" font-size="18.5" fill="#000" text-anchor="middle" >m</text>
<text x="1898.9" y="562.9" font-size="33" fill="#000" text-anchor="start" >]</text>
</svg>
</div></body></html>
